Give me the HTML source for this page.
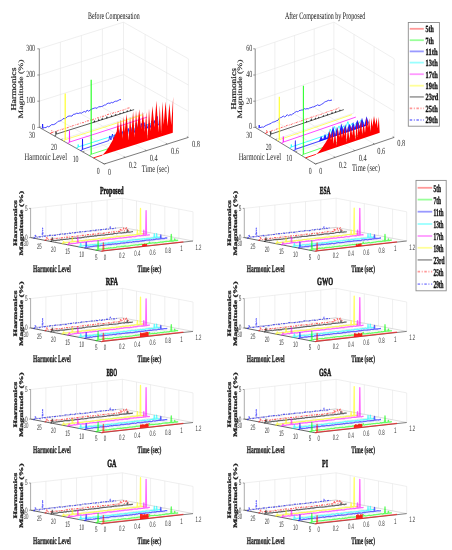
<!DOCTYPE html>
<html><head><meta charset="utf-8"><title>Harmonics</title>
<style>html,body{margin:0;padding:0;background:#fff;}svg{display:block;}text{font-family:"Liberation Serif", "Times New Roman", serif;text-rendering:geometricPrecision;}text.s{font-family:"Liberation Sans", Arial, sans-serif;}</style>
</head><body>
<svg width="452" height="550" viewBox="0 0 452 550">
<rect x="0" y="0" width="452" height="550" fill="#fff"/>
<polyline points="125.2,157.4 60.4,120.8" fill="none" stroke="#e4e4e4" stroke-width="0.6" stroke-linejoin="round" stroke-linecap="butt"/>
<polyline points="146.3,150.7 81.4,114.1" fill="none" stroke="#e4e4e4" stroke-width="0.6" stroke-linejoin="round" stroke-linecap="butt"/>
<polyline points="167.3,144.1 102.4,107.5" fill="none" stroke="#e4e4e4" stroke-width="0.6" stroke-linejoin="round" stroke-linecap="butt"/>
<polyline points="82.6,151.8 166.7,125.2" fill="none" stroke="#e4e4e4" stroke-width="0.6" stroke-linejoin="round" stroke-linecap="butt"/>
<polyline points="60.9,139.6 145.1,113" fill="none" stroke="#e4e4e4" stroke-width="0.6" stroke-linejoin="round" stroke-linecap="butt"/>
<polyline points="60.4,120.8 60.4,42.2" fill="none" stroke="#e4e4e4" stroke-width="0.6" stroke-linejoin="round" stroke-linecap="butt"/>
<polyline points="81.4,114.1 81.4,35.5" fill="none" stroke="#e4e4e4" stroke-width="0.6" stroke-linejoin="round" stroke-linecap="butt"/>
<polyline points="102.4,107.5 102.4,28.9" fill="none" stroke="#e4e4e4" stroke-width="0.6" stroke-linejoin="round" stroke-linecap="butt"/>
<polyline points="123.5,100.8 123.5,22.2" fill="none" stroke="#e4e4e4" stroke-width="0.6" stroke-linejoin="round" stroke-linecap="butt"/>
<polyline points="39.3,101.2 123.5,74.6" fill="none" stroke="#e4e4e4" stroke-width="0.6" stroke-linejoin="round" stroke-linecap="butt"/>
<polyline points="39.3,75 123.5,48.4" fill="none" stroke="#e4e4e4" stroke-width="0.6" stroke-linejoin="round" stroke-linecap="butt"/>
<polyline points="39.3,48.8 123.5,22.2" fill="none" stroke="#e4e4e4" stroke-width="0.6" stroke-linejoin="round" stroke-linecap="butt"/>
<polyline points="166.7,125.2 166.7,46.6" fill="none" stroke="#e4e4e4" stroke-width="0.6" stroke-linejoin="round" stroke-linecap="butt"/>
<polyline points="145.1,113 145.1,34.4" fill="none" stroke="#e4e4e4" stroke-width="0.6" stroke-linejoin="round" stroke-linecap="butt"/>
<polyline points="188.4,137.4 188.4,58.8" fill="none" stroke="#e4e4e4" stroke-width="0.6" stroke-linejoin="round" stroke-linecap="butt"/>
<polyline points="188.4,111.2 123.5,74.6" fill="none" stroke="#e4e4e4" stroke-width="0.6" stroke-linejoin="round" stroke-linecap="butt"/>
<polyline points="188.4,85 123.5,48.4" fill="none" stroke="#e4e4e4" stroke-width="0.6" stroke-linejoin="round" stroke-linecap="butt"/>
<polyline points="188.4,58.8 123.5,22.2" fill="none" stroke="#e4e4e4" stroke-width="0.6" stroke-linejoin="round" stroke-linecap="butt"/>
<polyline points="39.3,127.4 39.3,48.8" fill="none" stroke="#5a5a5a" stroke-width="0.7" stroke-linejoin="round" stroke-linecap="butt"/>
<polyline points="39.3,127.4 104.2,164" fill="none" stroke="#5a5a5a" stroke-width="0.8" stroke-linejoin="round" stroke-linecap="butt"/>
<polyline points="104.2,164 188.4,137.4" fill="none" stroke="#5a5a5a" stroke-width="0.8" stroke-linejoin="round" stroke-linecap="butt"/>
<polyline points="37.3,127.4 39.3,127.4" fill="none" stroke="#5a5a5a" stroke-width="0.6" stroke-linejoin="round" stroke-linecap="butt"/>
<polyline points="37.3,101.2 39.3,101.2" fill="none" stroke="#5a5a5a" stroke-width="0.6" stroke-linejoin="round" stroke-linecap="butt"/>
<polyline points="37.3,75 39.3,75" fill="none" stroke="#5a5a5a" stroke-width="0.6" stroke-linejoin="round" stroke-linecap="butt"/>
<polyline points="37.3,48.8 39.3,48.8" fill="none" stroke="#5a5a5a" stroke-width="0.6" stroke-linejoin="round" stroke-linecap="butt"/>
<polyline points="104.2,164 106,163.4" fill="none" stroke="#5a5a5a" stroke-width="0.6" stroke-linejoin="round" stroke-linecap="butt"/>
<polyline points="82.6,151.8 84.4,151.2" fill="none" stroke="#5a5a5a" stroke-width="0.6" stroke-linejoin="round" stroke-linecap="butt"/>
<polyline points="60.9,139.6 62.7,139" fill="none" stroke="#5a5a5a" stroke-width="0.6" stroke-linejoin="round" stroke-linecap="butt"/>
<polyline points="39.3,127.4 41.1,126.8" fill="none" stroke="#5a5a5a" stroke-width="0.6" stroke-linejoin="round" stroke-linecap="butt"/>
<polyline points="104.2,164 102.7,163.1" fill="none" stroke="#5a5a5a" stroke-width="0.6" stroke-linejoin="round" stroke-linecap="butt"/>
<polyline points="125.2,157.4 123.7,156.5" fill="none" stroke="#5a5a5a" stroke-width="0.6" stroke-linejoin="round" stroke-linecap="butt"/>
<polyline points="146.3,150.7 144.8,149.8" fill="none" stroke="#5a5a5a" stroke-width="0.6" stroke-linejoin="round" stroke-linecap="butt"/>
<polyline points="167.3,144.1 165.8,143.2" fill="none" stroke="#5a5a5a" stroke-width="0.6" stroke-linejoin="round" stroke-linecap="butt"/>
<polyline points="188.4,137.4 186.9,136.5" fill="none" stroke="#5a5a5a" stroke-width="0.6" stroke-linejoin="round" stroke-linecap="butt"/>
<polyline points="41.8,128.6 42.3,128.4 42.6,124 43,128.2 44.5,127.6 46,127.6 47.3,126.4 48.7,126.8 50,126 51.7,124.6 53.3,124.7 55,124 56.7,122.8 58.3,121.2 60,121 61.5,120.3 63,118.7 64.5,118.6 66,118 67.5,116.6 69,116 70.5,116 72,116.1 73.5,114.2 75,114.2 76.7,113.2 78.3,113.5 80,112.8 81.4,113.2 82.9,112.2 84.3,111.5 85.7,112.2 87.1,110.1 88.6,111.2 90,110.2 91.4,109.3 92.9,108.6 94.3,108.1 95.7,107.9 97.1,108.3 98.6,106.7 100,106.8 101.4,106.5 102.9,106.1 104.3,105.1 105.7,104.9 107.1,103.6 108.6,103.1 110,103.4 111.4,102.4 112.8,102.8 114.1,101.8 115.5,101.2 116.9,101.2 118.2,100.5 119.6,99.7 121,99.6" fill="none" stroke="#0000ff" stroke-width="0.9900000000000001" stroke-opacity="0.72" stroke-linejoin="round" stroke-linecap="butt"/>
<polyline points="50.1,133.5 51.4,133.1 51.7,130.5 52.2,132.5 53.3,132 54.3,131.7 55.4,131.7 56.4,131.1 57.5,130.8 58.5,130.3 59.6,130 60.6,129.9 61.7,129.2 62.7,129.3 63.8,128.8 64.9,128.3 65.9,128.3 67,127.7 68,127.7 69.1,126.9 70.1,126.5 71.2,126.4 72.2,126 73.3,125.5 74.3,125.5 75.4,124.9 76.4,124.6 77.5,124.3 78.5,124 79.6,123.5 80.6,123.1 81.7,123 82.7,122.6 83.8,122.6 84.8,121.9 85.9,121.6 86.9,121 88,120.8 89,120.8 90.1,120.4 91.2,119.9 92.2,119.9 93.3,119.3 94.3,119.2 95.4,118.9 96.4,118.6 97.5,117.8 98.5,117.9 99.6,117.5 100.6,117 101.7,116.4 102.7,116.3 103.8,116.2 104.9,115.6 106,115.2 107.1,114.7 108.1,114.4 109.2,114 110.3,114 111.4,113.6 112.5,113.3 113.5,112.7 114.6,112.3 115.7,112.4 116.8,112.1 117.9,111.7 118.9,111.3 120,110.8 121.1,110.4 122.2,110.3 123.3,110.1 124.4,109.5 125.4,109.2 126.5,108.8 127.6,108.2 128.7,108 129.8,107.8" fill="none" stroke="#ff0000" stroke-width="0.8800000000000001" stroke-dasharray="2.2,1.2,0.8,1.2" stroke-opacity="0.72" stroke-linejoin="round" stroke-linecap="butt"/>
<polyline points="54.5,135.9 55.7,135.5 56,131.4 56.3,134.1 134.1,109.6" fill="none" stroke="#000000" stroke-width="0.8800000000000001" stroke-opacity="0.72" stroke-linejoin="round" stroke-linecap="butt"/>
<polygon points="93.4,122.5 94.3,120.1 95.3,121.9" fill="#000000" fill-opacity="0.8"/>
<polygon points="97.8,121.1 98.7,118.5 99.7,120.5" fill="#000000" fill-opacity="0.8"/>
<polygon points="101.2,120 102.2,117.2 103.1,119.4" fill="#000000" fill-opacity="0.8"/>
<polygon points="105.9,118.5 106.9,115.7 107.8,117.9" fill="#000000" fill-opacity="0.8"/>
<polygon points="110.6,117 111.6,114.7 112.5,116.4" fill="#000000" fill-opacity="0.8"/>
<polygon points="114.7,115.7 115.6,113.8 116.6,115.1" fill="#000000" fill-opacity="0.8"/>
<polygon points="119.1,114.3 120,112.4 121,113.7" fill="#000000" fill-opacity="0.8"/>
<polygon points="122.6,113.2 123.5,111.2 124.5,112.6" fill="#000000" fill-opacity="0.8"/>
<polygon points="126.2,112.1 127.2,109.9 128.1,111.5" fill="#000000" fill-opacity="0.8"/>
<polygon points="129.7,111 130.6,109.1 131.6,110.4" fill="#000000" fill-opacity="0.8"/>
<polyline points="63.1,140.8 65,140.2 65.2,93.6 65.4,139.6 94.7,130.3 142.7,114.7" fill="none" stroke="#ffff00" stroke-width="0.8250000000000001" stroke-opacity="0.72" stroke-linejoin="round" stroke-linecap="butt"/>
<polyline points="67.4,143.3 69.3,142.7 69.5,130.6 69.7,142 99,132.7 147.1,117.1" fill="none" stroke="#ff00ff" stroke-width="0.9900000000000001" stroke-opacity="0.72" stroke-linejoin="round" stroke-linecap="butt"/>
<polyline points="76.1,148.1 78,147.5 78.2,144.5 78.4,146.9 107.6,137.6 155.7,122" fill="none" stroke="#00ffff" stroke-width="0.9900000000000001" stroke-opacity="0.72" stroke-linejoin="round" stroke-linecap="butt"/>
<polyline points="80.4,150.6 82.3,150 82.5,138.9 82.7,149.3 108.8,140.6 109.9,135.9 110.9,140 112.5,134 113.5,139.1 115.1,134.5 116.2,138.3 117.8,130.3 118.8,137.5 120.4,129.3 121.4,136.6 123,131.2 124.1,135.8 125.6,129.8 126.7,135 128.3,128.4 129.3,134.1 130.9,127.5 132,133.3 133.5,128.1 134.6,132.5 136.2,122.9 137.2,131.7 138.8,121.2 139.8,130.8 141.4,123.5 142.5,130 144.1,122.6 145.1,129.2 146.7,124.1 147.7,128.3 149.3,123.2 150.4,127.5 151.9,120.9 153,126.7 154.6,120.6 155.6,125.8 157.2,116.4 158.3,125 160,124.4" fill="none" stroke="#0000ff" stroke-width="0.9900000000000001" stroke-opacity="0.72" stroke-linejoin="round" stroke-linecap="butt"/>
<polyline points="89.1,155.5 91,154.9 91.2,79.8 91.4,154.2 120.6,144.7 168.7,129.1" fill="none" stroke="#00ff00" stroke-width="0.8250000000000001" stroke-opacity="0.72" stroke-linejoin="round" stroke-linecap="butt"/>
<polyline points="93.4,157.9 102.3,155.1" fill="none" stroke="#ff0000" stroke-width="0.9" stroke-linejoin="round" stroke-linecap="butt"/>
<polygon points="101.8,155.2 102.7,154.7 103.7,153.8 104.6,152.8 105.5,151.7 106.5,150.5 107.4,149.1 108.3,147.7 109.3,146.2 110.2,144.6 111.1,142.9 112.1,141.2 113,139.4 113.9,137.5 114.9,135.6 115.8,133.6 116.7,131.5 118,121 119.3,134.4 120.9,119.3 122.5,138.7 123.6,115.9 124.7,132.3 126.6,113.9 128.6,140.4 130,116.3 131.5,132.8 133.1,111.3 134.7,137.6 136,110.2 137.3,128.2 139.2,109.2 141.1,129.2 142.9,111.8 144.8,132 146.2,112 147.6,139.5 149,108.4 150.4,131.3 152.4,105.9 154.4,127.3 156.4,100.8 158.5,132.3 159.8,105.2 161.1,133.4 162.4,101.4 163.7,124.8 165.6,101.5 167.5,126.3 169.4,103.3 171.2,125.1 173.2,96.8 172.8,132.8 101.8,155.2" fill="#ff0000"/>
<text x="33.4" y="129.6" font-size="9.4" text-anchor="middle" fill="#333" textLength="2.9" lengthAdjust="spacingAndGlyphs">0</text>
<text x="30.6" y="103.4" font-size="9.4" text-anchor="middle" fill="#333" textLength="8.8" lengthAdjust="spacingAndGlyphs">100</text>
<text x="30.6" y="77.2" font-size="9.4" text-anchor="middle" fill="#333" textLength="8.8" lengthAdjust="spacingAndGlyphs">200</text>
<text x="30.6" y="51" font-size="9.4" text-anchor="middle" fill="#333" textLength="8.8" lengthAdjust="spacingAndGlyphs">300</text>
<text x="32" y="137.6" font-size="9.4" text-anchor="middle" fill="#333" textLength="5.9" lengthAdjust="spacingAndGlyphs">30</text>
<text x="53.9" y="149.5" font-size="9.4" text-anchor="middle" fill="#333" textLength="5.9" lengthAdjust="spacingAndGlyphs">20</text>
<text x="75.6" y="161.6" font-size="9.4" text-anchor="middle" fill="#333" textLength="5.9" lengthAdjust="spacingAndGlyphs">10</text>
<text x="98.2" y="173.7" font-size="9.4" text-anchor="middle" fill="#333" textLength="2.9" lengthAdjust="spacingAndGlyphs">0</text>
<text x="109.5" y="174.6" font-size="9.4" text-anchor="middle" fill="#333" textLength="2.9" lengthAdjust="spacingAndGlyphs">0</text>
<text x="132.7" y="168.1" font-size="9.4" text-anchor="middle" fill="#333" textLength="8" lengthAdjust="spacingAndGlyphs">0.2</text>
<text x="153.7" y="161.2" font-size="9.4" text-anchor="middle" fill="#333" textLength="8" lengthAdjust="spacingAndGlyphs">0.4</text>
<text x="175" y="154.2" font-size="9.4" text-anchor="middle" fill="#333" textLength="8" lengthAdjust="spacingAndGlyphs">0.6</text>
<text x="196" y="147.3" font-size="9.4" text-anchor="middle" fill="#333" textLength="8" lengthAdjust="spacingAndGlyphs">0.8</text>
<text x="113.8" y="19.2" font-size="9.9" text-anchor="middle" fill="#111" textLength="51.6" lengthAdjust="spacingAndGlyphs">Before Compensation</text>
<text x="45.8" y="160.3" font-size="10" text-anchor="middle" fill="#262626" textLength="42.5" lengthAdjust="spacingAndGlyphs">Harmonic Level</text>
<text x="155.5" y="171.6" font-size="10" text-anchor="middle" fill="#262626" textLength="27.4" lengthAdjust="spacingAndGlyphs">Time (sec)</text>
<text transform="translate(16.4,89) scale(0.75,1) rotate(-90)" x="0" y="0" font-size="10" text-anchor="middle" fill="#262626" stroke="#262626" stroke-width="0.3" textLength="42.9" lengthAdjust="spacingAndGlyphs">Harmonics</text>
<text transform="translate(22.5,89) scale(0.68,1) rotate(-90)" x="0" y="0" font-size="10" text-anchor="middle" fill="#262626" stroke="#262626" stroke-width="0.2" textLength="58.9" lengthAdjust="spacingAndGlyphs">Magnitude (%)</text>
<polyline points="335.2,157.4 274.9,120.8" fill="none" stroke="#e4e4e4" stroke-width="0.6" stroke-linejoin="round" stroke-linecap="butt"/>
<polyline points="354.9,150.7 294.6,114.1" fill="none" stroke="#e4e4e4" stroke-width="0.6" stroke-linejoin="round" stroke-linecap="butt"/>
<polyline points="374.5,144.1 314.2,107.5" fill="none" stroke="#e4e4e4" stroke-width="0.6" stroke-linejoin="round" stroke-linecap="butt"/>
<polyline points="295.4,151.8 374.1,125.2" fill="none" stroke="#e4e4e4" stroke-width="0.6" stroke-linejoin="round" stroke-linecap="butt"/>
<polyline points="275.3,139.6 354,113" fill="none" stroke="#e4e4e4" stroke-width="0.6" stroke-linejoin="round" stroke-linecap="butt"/>
<polyline points="274.9,120.8 274.9,42.2" fill="none" stroke="#e4e4e4" stroke-width="0.6" stroke-linejoin="round" stroke-linecap="butt"/>
<polyline points="294.6,114.1 294.6,35.5" fill="none" stroke="#e4e4e4" stroke-width="0.6" stroke-linejoin="round" stroke-linecap="butt"/>
<polyline points="314.2,107.5 314.2,28.9" fill="none" stroke="#e4e4e4" stroke-width="0.6" stroke-linejoin="round" stroke-linecap="butt"/>
<polyline points="333.9,100.8 333.9,22.2" fill="none" stroke="#e4e4e4" stroke-width="0.6" stroke-linejoin="round" stroke-linecap="butt"/>
<polyline points="255.2,101.2 333.9,74.6" fill="none" stroke="#e4e4e4" stroke-width="0.6" stroke-linejoin="round" stroke-linecap="butt"/>
<polyline points="255.2,75 333.9,48.4" fill="none" stroke="#e4e4e4" stroke-width="0.6" stroke-linejoin="round" stroke-linecap="butt"/>
<polyline points="255.2,48.8 333.9,22.2" fill="none" stroke="#e4e4e4" stroke-width="0.6" stroke-linejoin="round" stroke-linecap="butt"/>
<polyline points="374.1,125.2 374.1,46.6" fill="none" stroke="#e4e4e4" stroke-width="0.6" stroke-linejoin="round" stroke-linecap="butt"/>
<polyline points="354,113 354,34.4" fill="none" stroke="#e4e4e4" stroke-width="0.6" stroke-linejoin="round" stroke-linecap="butt"/>
<polyline points="394.2,137.4 394.2,58.8" fill="none" stroke="#e4e4e4" stroke-width="0.6" stroke-linejoin="round" stroke-linecap="butt"/>
<polyline points="394.2,111.2 333.9,74.6" fill="none" stroke="#e4e4e4" stroke-width="0.6" stroke-linejoin="round" stroke-linecap="butt"/>
<polyline points="394.2,85 333.9,48.4" fill="none" stroke="#e4e4e4" stroke-width="0.6" stroke-linejoin="round" stroke-linecap="butt"/>
<polyline points="394.2,58.8 333.9,22.2" fill="none" stroke="#e4e4e4" stroke-width="0.6" stroke-linejoin="round" stroke-linecap="butt"/>
<polyline points="255.2,127.4 255.2,48.8" fill="none" stroke="#5a5a5a" stroke-width="0.7" stroke-linejoin="round" stroke-linecap="butt"/>
<polyline points="255.2,127.4 315.5,164" fill="none" stroke="#5a5a5a" stroke-width="0.8" stroke-linejoin="round" stroke-linecap="butt"/>
<polyline points="315.5,164 394.2,137.4" fill="none" stroke="#5a5a5a" stroke-width="0.8" stroke-linejoin="round" stroke-linecap="butt"/>
<polyline points="253.2,127.4 255.2,127.4" fill="none" stroke="#5a5a5a" stroke-width="0.6" stroke-linejoin="round" stroke-linecap="butt"/>
<polyline points="253.2,101.2 255.2,101.2" fill="none" stroke="#5a5a5a" stroke-width="0.6" stroke-linejoin="round" stroke-linecap="butt"/>
<polyline points="253.2,75 255.2,75" fill="none" stroke="#5a5a5a" stroke-width="0.6" stroke-linejoin="round" stroke-linecap="butt"/>
<polyline points="253.2,48.8 255.2,48.8" fill="none" stroke="#5a5a5a" stroke-width="0.6" stroke-linejoin="round" stroke-linecap="butt"/>
<polyline points="315.5,164 317.3,163.4" fill="none" stroke="#5a5a5a" stroke-width="0.6" stroke-linejoin="round" stroke-linecap="butt"/>
<polyline points="295.4,151.8 297.2,151.2" fill="none" stroke="#5a5a5a" stroke-width="0.6" stroke-linejoin="round" stroke-linecap="butt"/>
<polyline points="275.3,139.6 277.1,139" fill="none" stroke="#5a5a5a" stroke-width="0.6" stroke-linejoin="round" stroke-linecap="butt"/>
<polyline points="255.2,127.4 257,126.8" fill="none" stroke="#5a5a5a" stroke-width="0.6" stroke-linejoin="round" stroke-linecap="butt"/>
<polyline points="315.5,164 314,163.1" fill="none" stroke="#5a5a5a" stroke-width="0.6" stroke-linejoin="round" stroke-linecap="butt"/>
<polyline points="335.2,157.4 333.7,156.5" fill="none" stroke="#5a5a5a" stroke-width="0.6" stroke-linejoin="round" stroke-linecap="butt"/>
<polyline points="354.9,150.7 353.4,149.8" fill="none" stroke="#5a5a5a" stroke-width="0.6" stroke-linejoin="round" stroke-linecap="butt"/>
<polyline points="374.5,144.1 373,143.2" fill="none" stroke="#5a5a5a" stroke-width="0.6" stroke-linejoin="round" stroke-linecap="butt"/>
<polyline points="394.2,137.4 392.7,136.5" fill="none" stroke="#5a5a5a" stroke-width="0.6" stroke-linejoin="round" stroke-linecap="butt"/>
<polyline points="258.5,128 258.9,127.8 259.2,125 259.6,127.8 261,127.3 262.3,127 263.6,127.2 265,126 266.7,125.2 268.3,124.5 270,123.8 271.3,123.3 272.6,122 273.9,122 275.2,121.6 276.5,120.7 277.9,120.4 279.2,118.2 280.5,117.7 281.9,117.2 283.2,116 284.6,116.9 285.9,116.2 287.3,114.6 288.6,115.9 290,114.6 291.3,115 292.6,114 293.9,113.4 295.2,112.1 296.5,111.4 297.8,111.9 299.1,110.6 300.4,110.4 301.7,110 303,110 304.3,108.7 305.7,109.1 307,108.6 308.3,108.9 309.7,107.9 311,107.7 312.3,107 313.7,106.9 315,106.2 316.3,105.6 317.7,104.8 319,105.6 320.3,105.1 321.6,104.3 323,103.5 324.3,102.3 325.6,101.6 326.9,101.2 328.3,100.3 329.6,100.6 332,100" fill="none" stroke="#0000ff" stroke-width="0.9900000000000001" stroke-opacity="0.72" stroke-linejoin="round" stroke-linecap="butt"/>
<polyline points="265.2,133.5 266.4,133.1 266.7,130 267.2,132.5 268.2,132 269.2,131.9 270.2,131.3 271.2,131.2 272.1,130.5 273.1,130.3 274.1,130.4 275.1,130 276.1,129.2 277.1,129.1 278,128.5 279,128.5 280,128.3 281,127.7 282,127.2 283,127.2 283.9,127 284.9,126.4 285.9,126.1 286.9,125.4 287.9,125.2 288.9,125.2 289.9,124.8 290.8,124.6 291.8,124.3 292.8,123.5 293.8,123.5 294.8,123 295.8,122.7 296.7,122.5 297.7,121.9 298.7,121.9 299.7,121.2 300.7,121.2 301.7,120.7 302.6,120.5 303.6,120.1 304.6,119.4 305.6,119.1 306.6,119.1 307.6,118.4 308.5,118.5 309.5,118 310.5,117.4 311.5,117.2 312.5,117.2 313.5,116.3 314.4,116.3 315.5,116.1 316.5,115.8 317.5,115.1 318.5,115 319.5,114.7 320.5,114.5 321.5,114.2 322.5,113.5 323.6,113.4 324.6,112.8 325.6,112.6 326.6,112.2 327.6,111.6 328.6,111.5 329.6,111.1 330.6,110.6 331.6,110.7 332.7,110.4 333.7,109.6 334.7,109.3 335.7,109.3 336.7,109 337.7,108.3 338.7,107.8 339.7,107.8" fill="none" stroke="#ff0000" stroke-width="0.8800000000000001" stroke-dasharray="2.2,1.2,0.8,1.2" stroke-opacity="0.72" stroke-linejoin="round" stroke-linecap="butt"/>
<polyline points="269.3,135.9 270.5,135.5 270.7,131.4 271,134.1 343.8,109.6" fill="none" stroke="#000000" stroke-width="0.8800000000000001" stroke-opacity="0.72" stroke-linejoin="round" stroke-linecap="butt"/>
<polygon points="305.7,122.5 306.6,120.4 307.4,121.9" fill="#000000" fill-opacity="0.8"/>
<polygon points="310.3,120.9 311.2,118.1 312.1,120.3" fill="#000000" fill-opacity="0.8"/>
<polygon points="314.4,119.5 315.3,117.2 316.2,118.9" fill="#000000" fill-opacity="0.8"/>
<polygon points="317.7,118.4 318.6,116.5 319.5,117.8" fill="#000000" fill-opacity="0.8"/>
<polygon points="322.4,116.8 323.3,114.7 324.2,116.2" fill="#000000" fill-opacity="0.8"/>
<polygon points="326.7,115.4 327.5,113.3 328.4,114.8" fill="#000000" fill-opacity="0.8"/>
<polygon points="331.1,113.9 332,111.4 332.9,113.3" fill="#000000" fill-opacity="0.8"/>
<polygon points="334.7,112.7 335.6,110.6 336.5,112.1" fill="#000000" fill-opacity="0.8"/>
<polygon points="339,111.2 339.9,109.3 340.8,110.6" fill="#000000" fill-opacity="0.8"/>
<polyline points="277.3,140.8 279.1,140.2 279.3,96.8 279.5,139.6 306.8,130.3 351.8,114.7" fill="none" stroke="#ffff00" stroke-width="0.8250000000000001" stroke-opacity="0.72" stroke-linejoin="round" stroke-linecap="butt"/>
<polyline points="281.3,143.3 283.1,142.7 283.3,136.6 283.5,142 310.8,132.7 355.8,117.1" fill="none" stroke="#ff00ff" stroke-width="0.9900000000000001" stroke-opacity="0.72" stroke-linejoin="round" stroke-linecap="butt"/>
<polyline points="289.4,148.1 291.1,147.5 291.3,144.5 291.5,146.9 328.7,134.3 330.2,129.1 331.7,133.3 334.6,126.5 336.1,131.8 339.1,125.9 340.5,130.3 343.5,125.8 345,128.8 347.9,121.7 349.4,127.3 352.3,123.1 353.8,125.8 356.8,122.3 358.2,124.3 361.2,119.8 362.7,122.8 363.9,122.2" fill="none" stroke="#00ffff" stroke-width="0.9900000000000001" stroke-opacity="0.72" stroke-linejoin="round" stroke-linecap="butt"/>
<polyline points="293.4,150.6 295.2,150 295.4,140.9 295.6,149.3 367.9,124.8" fill="none" stroke="#0000ff" stroke-width="1.1" stroke-opacity="0.72" stroke-linejoin="round" stroke-linecap="butt"/>
<polygon points="319,141.4 321,136.1 323,139.6 325,133.8 326.9,138.4 328.9,131.8 330.8,135 333,126.1 335.2,134.5 337,126.8 338.8,134.7 341.2,123.4 343.6,130.7 345.2,124.2 346.9,130.8 349.2,123.8 351.4,128 353.1,121.8 354.9,127.5 357.3,119.8 359.7,126 362,117.7 364.3,125.3 366.5,116.2 368.7,122.5 367.9,124.9" fill="#0000ff" fill-opacity="0.85"/>
<polyline points="301.4,155.5 303.2,154.9 303.4,85.8 303.6,154.2 330.9,144.7 375.9,129.1" fill="none" stroke="#00ff00" stroke-width="0.8250000000000001" stroke-opacity="0.72" stroke-linejoin="round" stroke-linecap="butt"/>
<polyline points="305.4,157.9 315.8,154.4" fill="none" stroke="#ff0000" stroke-width="0.9" stroke-linejoin="round" stroke-linecap="butt"/>
<polygon points="315.3,154.6 316.1,154.1 317,153.5 317.8,152.7 318.6,151.9 319.4,151 320.3,150 321.1,149 321.9,147.9 322.8,146.7 323.6,145.6 324.4,144.3 325.3,143 326.1,141.7 326.9,140.3 327.7,138.9 328.6,137.5 329.8,130.6 331,140.5 332.3,130.5 333.7,143.9 335,129.7 336.4,145.7 337.7,127 339.1,137.6 340.6,128.8 342,137.9 343.4,127.6 344.7,136.1 345.7,125.4 346.6,142.7 348,125.9 349.4,140 350.8,124.9 352.2,135.6 353.8,124.9 355.4,139.9 356.6,122.1 357.7,137.5 358.7,120.4 359.7,132.6 361,119.7 362.2,134.8 363.6,121.9 365,132.9 366.5,117.7 368,127.9 369.2,118.3 370.4,132.1 371.4,117.9 372.4,126.8 374,116.1 375.5,124.7 376.6,117.6 377.7,128.5 378.8,116.7 379.7,132.8 315.3,154.6" fill="#ff0000"/>
<text x="250.5" y="129.2" font-size="9.4" text-anchor="middle" fill="#333" textLength="2.9" lengthAdjust="spacingAndGlyphs">0</text>
<text x="249.2" y="103.7" font-size="9.4" text-anchor="middle" fill="#333" textLength="5.9" lengthAdjust="spacingAndGlyphs">20</text>
<text x="249.2" y="77.4" font-size="9.4" text-anchor="middle" fill="#333" textLength="5.9" lengthAdjust="spacingAndGlyphs">40</text>
<text x="249.2" y="51.4" font-size="9.4" text-anchor="middle" fill="#333" textLength="5.9" lengthAdjust="spacingAndGlyphs">60</text>
<text x="249.2" y="138.2" font-size="9.4" text-anchor="middle" fill="#333" textLength="5.9" lengthAdjust="spacingAndGlyphs">30</text>
<text x="268.6" y="149.5" font-size="9.4" text-anchor="middle" fill="#333" textLength="5.9" lengthAdjust="spacingAndGlyphs">20</text>
<text x="289.3" y="161.2" font-size="9.4" text-anchor="middle" fill="#333" textLength="5.9" lengthAdjust="spacingAndGlyphs">10</text>
<text x="310.2" y="173.5" font-size="9.4" text-anchor="middle" fill="#333" textLength="2.9" lengthAdjust="spacingAndGlyphs">0</text>
<text x="320.8" y="174.3" font-size="9.4" text-anchor="middle" fill="#333" textLength="2.9" lengthAdjust="spacingAndGlyphs">0</text>
<text x="342.7" y="168" font-size="9.4" text-anchor="middle" fill="#333" textLength="8" lengthAdjust="spacingAndGlyphs">0.2</text>
<text x="362.7" y="160.6" font-size="9.4" text-anchor="middle" fill="#333" textLength="8" lengthAdjust="spacingAndGlyphs">0.4</text>
<text x="381.2" y="154" font-size="9.4" text-anchor="middle" fill="#333" textLength="8" lengthAdjust="spacingAndGlyphs">0.6</text>
<text x="401.2" y="146.3" font-size="9.4" text-anchor="middle" fill="#333" textLength="8" lengthAdjust="spacingAndGlyphs">0.8</text>
<text x="325.1" y="19.3" font-size="9.9" text-anchor="middle" fill="#111" textLength="80.3" lengthAdjust="spacingAndGlyphs">After Compensation by Proposed</text>
<text x="259.9" y="160" font-size="10" text-anchor="middle" fill="#262626" textLength="42.5" lengthAdjust="spacingAndGlyphs">Harmonic Level</text>
<text x="366" y="171.4" font-size="10" text-anchor="middle" fill="#262626" textLength="27.8" lengthAdjust="spacingAndGlyphs">Time (sec)</text>
<text transform="translate(235.6,88.9) scale(0.75,1) rotate(-90)" x="0" y="0" font-size="10" text-anchor="middle" fill="#262626" stroke="#262626" stroke-width="0.3" textLength="41.4" lengthAdjust="spacingAndGlyphs">Harmonics</text>
<text transform="translate(242.2,89) scale(0.68,1) rotate(-90)" x="0" y="0" font-size="10" text-anchor="middle" fill="#262626" stroke="#262626" stroke-width="0.2" textLength="58.9" lengthAdjust="spacingAndGlyphs">Magnitude (%)</text>
<rect x="408.3" y="22.5" width="31.1" height="103.7" fill="#fff" stroke="#8c8c8c" stroke-width="0.9"/>
<polyline points="409.7,28.8 423.8,28.8" fill="none" stroke="#ff0000" stroke-width="1.8" stroke-opacity="0.4" stroke-linejoin="round" stroke-linecap="butt"/>
<text x="425.6" y="32.2" font-size="9.4" text-anchor="start" fill="#111" font-weight="bold" stroke="#111" stroke-width="0.35" textLength="8.2" lengthAdjust="spacingAndGlyphs">5th</text>
<polyline points="409.7,40.2 423.8,40.2" fill="none" stroke="#00ff00" stroke-width="1.8" stroke-opacity="0.4" stroke-linejoin="round" stroke-linecap="butt"/>
<text x="425.6" y="43.6" font-size="9.4" text-anchor="start" fill="#111" font-weight="bold" stroke="#111" stroke-width="0.35" textLength="8.2" lengthAdjust="spacingAndGlyphs">7th</text>
<polyline points="409.7,51.4 423.8,51.4" fill="none" stroke="#0000ff" stroke-width="1.8" stroke-opacity="0.4" stroke-linejoin="round" stroke-linecap="butt"/>
<text x="425.6" y="54.8" font-size="9.4" text-anchor="start" fill="#111" font-weight="bold" stroke="#111" stroke-width="0.35" textLength="12.1" lengthAdjust="spacingAndGlyphs">11th</text>
<polyline points="409.7,62.6 423.8,62.6" fill="none" stroke="#00ffff" stroke-width="1.8" stroke-opacity="0.4" stroke-linejoin="round" stroke-linecap="butt"/>
<text x="425.6" y="66" font-size="9.4" text-anchor="start" fill="#111" font-weight="bold" stroke="#111" stroke-width="0.35" textLength="12.1" lengthAdjust="spacingAndGlyphs">13th</text>
<polyline points="409.7,74.2 423.8,74.2" fill="none" stroke="#ff00ff" stroke-width="1.8" stroke-opacity="0.4" stroke-linejoin="round" stroke-linecap="butt"/>
<text x="425.6" y="77.6" font-size="9.4" text-anchor="start" fill="#111" font-weight="bold" stroke="#111" stroke-width="0.35" textLength="12.1" lengthAdjust="spacingAndGlyphs">17th</text>
<polyline points="409.7,85.7 423.8,85.7" fill="none" stroke="#ffff00" stroke-width="1.8" stroke-opacity="0.4" stroke-linejoin="round" stroke-linecap="butt"/>
<text x="425.6" y="89.1" font-size="9.4" text-anchor="start" fill="#111" font-weight="bold" stroke="#111" stroke-width="0.35" textLength="12.1" lengthAdjust="spacingAndGlyphs">19th</text>
<polyline points="409.7,96.9 423.8,96.9" fill="none" stroke="#000" stroke-width="1.8" stroke-opacity="0.35" stroke-linejoin="round" stroke-linecap="butt"/>
<text x="425.6" y="100.3" font-size="9.4" text-anchor="start" fill="#111" font-weight="bold" stroke="#111" stroke-width="0.35" textLength="12.6" lengthAdjust="spacingAndGlyphs">23rd</text>
<polyline points="409.7,108.4 423.8,108.4" fill="none" stroke="#ff0000" stroke-width="1.8" stroke-dasharray="2.5,1.6,1,1.6" stroke-opacity="0.4" stroke-linejoin="round" stroke-linecap="butt"/>
<text x="425.6" y="111.8" font-size="9.4" text-anchor="start" fill="#111" font-weight="bold" stroke="#111" stroke-width="0.35" textLength="12.1" lengthAdjust="spacingAndGlyphs">25th</text>
<polyline points="409.7,120 423.8,120" fill="none" stroke="#0000ff" stroke-width="1.8" stroke-dasharray="2.5,1.6,1,1.6" stroke-opacity="0.4" stroke-linejoin="round" stroke-linecap="butt"/>
<text x="425.6" y="123.4" font-size="9.4" text-anchor="start" fill="#111" font-weight="bold" stroke="#111" stroke-width="0.35" textLength="12.1" lengthAdjust="spacingAndGlyphs">29th</text>
<polyline points="45.9,235.9 45.9,206.7" fill="none" stroke="#e4e4e4" stroke-width="0.6" stroke-linejoin="round" stroke-linecap="butt"/>
<polyline points="61.2,234.2 61.2,205" fill="none" stroke="#e4e4e4" stroke-width="0.6" stroke-linejoin="round" stroke-linecap="butt"/>
<polyline points="76.5,232.5 76.5,203.3" fill="none" stroke="#e4e4e4" stroke-width="0.6" stroke-linejoin="round" stroke-linecap="butt"/>
<polyline points="91.8,230.8 91.8,201.6" fill="none" stroke="#e4e4e4" stroke-width="0.6" stroke-linejoin="round" stroke-linecap="butt"/>
<polyline points="107.1,229.1 107.1,199.9" fill="none" stroke="#e4e4e4" stroke-width="0.6" stroke-linejoin="round" stroke-linecap="butt"/>
<polyline points="122.4,227.4 122.4,198.2" fill="none" stroke="#e4e4e4" stroke-width="0.6" stroke-linejoin="round" stroke-linecap="butt"/>
<polyline points="30.6,208.4 122.4,198.2" fill="none" stroke="#e4e4e4" stroke-width="0.6" stroke-linejoin="round" stroke-linecap="butt"/>
<polyline points="193,241 193,211.8" fill="none" stroke="#e4e4e4" stroke-width="0.6" stroke-linejoin="round" stroke-linecap="butt"/>
<polyline points="178.9,238.3 178.9,209.1" fill="none" stroke="#e4e4e4" stroke-width="0.6" stroke-linejoin="round" stroke-linecap="butt"/>
<polyline points="164.8,235.6 164.8,206.4" fill="none" stroke="#e4e4e4" stroke-width="0.6" stroke-linejoin="round" stroke-linecap="butt"/>
<polyline points="150.6,232.8 150.6,203.6" fill="none" stroke="#e4e4e4" stroke-width="0.6" stroke-linejoin="round" stroke-linecap="butt"/>
<polyline points="136.5,230.1 136.5,200.9" fill="none" stroke="#e4e4e4" stroke-width="0.6" stroke-linejoin="round" stroke-linecap="butt"/>
<polyline points="193,211.8 122.4,198.2" fill="none" stroke="#e4e4e4" stroke-width="0.6" stroke-linejoin="round" stroke-linecap="butt"/>
<polyline points="116.5,249.5 45.9,235.9" fill="none" stroke="#e4e4e4" stroke-width="0.5" stroke-linejoin="round" stroke-linecap="butt"/>
<polyline points="131.8,247.8 61.2,234.2" fill="none" stroke="#e4e4e4" stroke-width="0.5" stroke-linejoin="round" stroke-linecap="butt"/>
<polyline points="147.1,246.1 76.5,232.5" fill="none" stroke="#e4e4e4" stroke-width="0.5" stroke-linejoin="round" stroke-linecap="butt"/>
<polyline points="162.4,244.4 91.8,230.8" fill="none" stroke="#e4e4e4" stroke-width="0.5" stroke-linejoin="round" stroke-linecap="butt"/>
<polyline points="177.7,242.7 107.1,229.1" fill="none" stroke="#e4e4e4" stroke-width="0.5" stroke-linejoin="round" stroke-linecap="butt"/>
<polyline points="87.1,248.5 178.9,238.3" fill="none" stroke="#e4e4e4" stroke-width="0.5" stroke-linejoin="round" stroke-linecap="butt"/>
<polyline points="73,245.8 164.8,235.6" fill="none" stroke="#e4e4e4" stroke-width="0.5" stroke-linejoin="round" stroke-linecap="butt"/>
<polyline points="58.8,243 150.6,232.8" fill="none" stroke="#e4e4e4" stroke-width="0.5" stroke-linejoin="round" stroke-linecap="butt"/>
<polyline points="44.7,240.3 136.5,230.1" fill="none" stroke="#e4e4e4" stroke-width="0.5" stroke-linejoin="round" stroke-linecap="butt"/>
<polyline points="30.6,237.6 122.4,227.4" fill="none" stroke="#b0b0b0" stroke-width="0.6" stroke-linejoin="round" stroke-linecap="butt"/>
<polyline points="122.4,227.4 193,241" fill="none" stroke="#c8c8c8" stroke-width="0.6" stroke-linejoin="round" stroke-linecap="butt"/>
<polyline points="30.6,237.6 30.6,208.4" fill="none" stroke="#8a8a8a" stroke-width="0.7" stroke-linejoin="round" stroke-linecap="butt"/>
<polyline points="30.6,237.6 101.2,251.2" fill="none" stroke="#555555" stroke-width="0.9" stroke-linejoin="round" stroke-linecap="butt"/>
<polyline points="101.2,251.2 193,241" fill="none" stroke="#666666" stroke-width="0.8" stroke-linejoin="round" stroke-linecap="butt"/>
<polyline points="29.1,237.6 30.6,237.6" fill="none" stroke="#5a5a5a" stroke-width="0.6" stroke-linejoin="round" stroke-linecap="butt"/>
<polyline points="29.1,208.4 30.6,208.4" fill="none" stroke="#5a5a5a" stroke-width="0.6" stroke-linejoin="round" stroke-linecap="butt"/>
<polyline points="33.4,238.1 34.6,238 35.3,234.4 36.1,237.5 37.1,237.7 38.1,237.3 39.2,236.9 40.2,236.9 41.2,236.7 42.2,236.8 42.6,228.1 43,236.5 43.9,236.4 44.8,236 45.8,236.1 46.7,236.4 47.6,236 48.5,236.2 49.5,235.3 50.4,235.2 51.3,235.6 52.2,235.5 53.2,235 54.1,235.4 55,235.3 55.9,235.2 56.9,234.9 57.8,234.6 58.7,234.2 59.6,234.7 60.6,234 61.5,234.2 62.4,233.8 63.3,233.8 64.3,234.2 65.2,233.7 66.1,234 67,234 68,233.5 68.9,233.1 69.8,233.2 70.7,233.4 71.7,233 72.6,232.6 73.5,232.5 74.5,232.9 75.4,232.6 76.3,232.4 77.3,232.1 78.2,232.6 79.1,232.1 80.1,231.7 81,231.9 81.9,231.7 82.9,231.5 83.8,231.6 84.7,231.7 85.7,231.4 86.6,231.3 87.5,231.4 88.5,230.8 89.4,231.1 90.3,230.9 91.3,230.6 92.2,230.5 93.1,230.3 94.1,230.4 95,230.6 95.9,230 96.9,229.9 97.8,229.9 98.7,229.8 99.7,229.9 100.6,229.8 101.5,229.6 102.5,229.9 103.4,229.3 104.3,229.1 105.3,229.5 106.2,229 107.1,228.9 108.1,229.3 109,229.2 109.9,228.7 110.3,226.6 110.7,228.7 111.7,228.5 112.7,228.7 113.7,228.5 114.8,228.1 115.8,228 116.8,228" fill="none" stroke="#0000ff" stroke-width="1.16" stroke-dasharray="2.2,1.2,0.8,1.2" stroke-opacity="0.6" stroke-linejoin="round" stroke-linecap="butt"/>
<polyline points="44.7,240.3 45.9,240.2 46.6,236.6 47.4,239.5 48.3,239.3 49.3,239.3 50.2,239.3 51.1,239.4 52.1,239.2 53,239.1 54,238.7 54.9,238.5 55.8,238.7 56.8,238.5 57.7,238.1 58.6,238.3 59.6,238 60.5,237.9 61.4,237.8 62.4,237.8 63.3,237.6 64.2,237.4 65.2,237.6 66.1,237.2 67.1,237 68,237.4 68.9,237.2 69.9,237.1 70.8,237 71.7,236.9 72.7,236.5 73.6,236.7 74.5,236.6 75.5,236 76.4,236.2 77.4,236 78.3,235.9 79.2,235.9 80.2,235.7 81.1,235.8 82,235.4 83,235.4 83.9,235.4 84.8,235.4 85.7,235.2 86.6,235 87.6,234.6 88.5,234.7 89.4,234.4 90.3,234.6 91.2,234.6 92.2,234.2 93.1,234.4 94,233.8 94.9,234.1 95.8,234.1 96.7,234 97.7,233.9 98.6,233.4 99.5,233.2 100.4,233.4 101.3,233.5 102.2,233.5 103.2,233.4 104.1,233.1 105,232.8 105.9,232.7 106.8,232.5 107.8,232.4 108.7,232.6 109.6,232.3 110.5,232.3 111.4,232.1 112.3,232.3 113.3,231.7 114.2,232.2 115.1,231.7 116,231.8 116.9,231.4 117.9,231.7 118.8,231.2 119.7,231.3 120.5,228.4 121.2,231.1 122.4,229.9 123.5,228.1 124.3,230.8 125.4,229.1 126.6,227.7 127.3,230.4 128.9,230.3" fill="none" stroke="#ff0000" stroke-width="1.16" stroke-dasharray="2.2,1.2,0.8,1.2" stroke-opacity="0.6" stroke-linejoin="round" stroke-linecap="butt"/>
<polyline points="50.4,241.4 51.5,241.3 52.3,237.7 53,240.7 54,240.5 54.9,240.5 55.8,240.6 56.7,240.3 57.7,240.2 58.6,240.2 59.5,240.1 60.4,239.7 61.4,239.7 62.3,239.8 63.2,239.5 64.1,239.4 65,239.5 66,239.2 66.9,239.1 67.8,239.2 68.7,239 69.7,238.6 70.6,238.7 71.5,238.7 72.4,238.6 73.3,238.4 74.3,238.2 75.2,238 76.1,238.3 77,238.2 78,237.9 78.9,238 79.8,237.8 80.7,237.8 81.7,237.7 82.6,237.3 83.5,237.4 84.4,237.1 85.3,236.8 86.3,237.1 87.2,236.7 88.1,236.7 89,236.8 90,236.3 90.9,236.3 91.8,236.4 92.7,236 93.6,236.3 94.6,235.8 95.5,235.7 96.4,236 97.3,235.5 98.3,235.4 99.2,235.3 100.1,235.5 101,235.1 102,235 102.9,235.1 103.8,235.2 104.7,235.1 105.6,234.7 106.6,234.6 107.5,234.7 108.4,234.3 109.3,234.5 110.3,234.2 111.2,234.1 112.1,234.1 113,234.1 113.9,233.6 114.9,233.5 115.8,233.5 116.7,233.7 117.6,233.3 118.6,233 119.5,233 120.4,232.9 121.3,233.2 122.3,232.8 123.2,232.9 124.1,232.4 125,232.8 125.9,232.6 126.9,232.3 127.3,229.9 127.6,232.2 128.7,231.9 129.8,232.2 130.8,232 131.9,231.8 133,231.6" fill="none" stroke="#000000" stroke-width="1.16" stroke-opacity="0.6" stroke-linejoin="round" stroke-linecap="butt"/>
<polyline points="61.7,243.6 62.8,243.5 63.6,241.4 64.3,242.8 65.3,242.5 66.3,242.5 67.2,242.3 68.2,242.5 69.1,242.5 70.1,242.2 71,241.9 72,241.9 72.4,237.9 72.8,241.8 73.7,241.6 74.6,241.3 75.5,241.3 76.4,241.5 77.3,241.3 78.3,241.3 79.2,241.1 80.1,240.8 81,240.8 81.9,240.6 82.9,240.9 83.8,240.3 84.7,240.6 85.6,240.2 86.5,240 87.4,240.3 88.4,240 89.3,239.7 90.2,240 91.1,239.7 92,239.6 93,239.5 93.9,239.5 94.8,239.4 95.7,239.3 96.6,239.2 97.5,239.1 98.5,238.7 99.4,238.5 100.3,238.8 101.2,238.8 102.1,238.6 103.1,238.2 104,238.4 104.9,238.1 105.8,238.2 106.7,238 107.6,238 108.6,237.7 109.5,237.7 110.4,237.4 111.3,237.4 112.2,237.4 113.1,237.4 114.1,236.9 115,237.2 115.9,236.9 116.8,236.5 117.7,236.5 118.7,236.7 119.6,236.3 120.5,236.5 121.4,236.2 122.3,236.1 123.2,236 124.2,236.1 125.1,235.9 126,235.8 126.9,235.4 127.8,235.4 128.8,235.5 129.7,235.2 130.6,235.2 131.5,235.3 132.4,235 133.3,235.1 134.3,235 135.2,234.9 136.1,234.8 137,234.5 137.4,230.2 137.8,234.4 138.9,234.2 140.1,234.2 140.5,208.4 140.8,234.1 142,233.8 143.1,233.7 144.3,233.7" fill="none" stroke="#ffff00" stroke-width="1.305" stroke-opacity="0.6" stroke-linejoin="round" stroke-linecap="butt"/>
<polyline points="67.3,244.7 68.5,244.5 69.2,242.5 70,243.9 70.9,243.9 71.8,243.4 72.8,243.6 73.7,243.4 74.6,243.3 75.6,243.3 76.5,243.1 77.4,243 77.8,237.5 78.2,242.9 79.1,242.6 80,242.6 80.9,242.5 81.9,242.3 82.8,242.2 83.7,242.3 84.6,241.9 85.5,242.1 86.4,242.2 87.4,241.6 88.3,241.5 89.2,241.6 90.1,241.4 91,241.3 92,241.5 92.9,241.1 93.8,241 94.7,240.8 95.6,240.9 96.6,240.9 97.5,240.6 98.4,240.6 99.3,240.3 100.2,240.6 101.2,240.2 102.1,240 103,240.2 103.9,240.2 104.8,239.9 105.7,239.7 106.7,239.6 107.6,239.5 108.5,239.5 109.4,239.2 110.3,239 111.3,239.1 112.2,239.1 113.1,238.7 114,239 114.9,238.7 115.9,238.5 116.8,238.4 117.7,238.3 118.6,238.2 119.5,238.2 120.5,237.9 121.4,238.2 122.3,237.9 123.2,237.8 124.1,237.6 125,237.7 126,237.6 126.9,237.4 127.8,237.2 128.7,237.2 129.6,236.9 130.6,237 131.5,237 132.4,236.7 133.3,236.7 134.2,236.8 135.2,236.5 136.1,236.5 137,236.2 137.9,235.9 138.8,235.9 139.8,235.7 140.7,236 141.6,235.6 142.5,235.5 143.4,235.5 143.8,230.2 144.2,235.4 145.7,235.3 146.1,210.6 146.5,235.2 147.6,235.2 148.8,234.9 149.9,234.8" fill="none" stroke="#ff00ff" stroke-width="1.305" stroke-opacity="0.6" stroke-linejoin="round" stroke-linecap="butt"/>
<polyline points="78.6,246.8 80.1,246.7 80.7,243.4 81.3,246.1 82.2,246.1 83.1,245.9 84,245.7 85,245.7 85.9,245.6 86.8,245.3 87.7,245.2 88.6,245.4 89.6,245.1 90.5,244.9 91.4,245.1 92.3,244.7 93.2,244.9 94.2,244.6 95.1,244.5 96,244.6 96.9,244.5 97.8,244.1 98.8,244.2 99.7,243.9 100.6,244 101.5,243.7 102.4,243.4 103.4,243.4 104.3,243.5 105.2,243.1 106.1,243.3 107,243.2 108,243.1 108.9,242.7 109.8,242.9 110.7,242.8 111.6,242.6 112.6,242.4 113.5,242.3 114.4,242.2 115.3,242.1 116.2,242.1 117.2,242 118.1,241.6 119,241.8 119.9,241.5 120.8,241.6 121.8,241.7 122.7,241.4 123.6,241.2 124.5,241.2 125.4,241.2 126.4,241.1 127.3,241 128.2,240.6 129.1,240.6 130,240.3 131,240.2 131.9,240.2 132.8,240 133.7,239.9 134.6,239.8 135.6,239.7 136.5,239.6 137.4,239.7 138.3,239.3 139.2,239.3 140.2,239.2 141.1,239.1 142,239 142.9,239 143.8,238.9 144.8,238.6 145.7,238.8 146.6,238.5 147.5,238.3 148.4,238.5 149.4,238.5 150.3,238.3 151.2,238.1 152.1,238 153,238 154,237.8 154.3,233.9 154.7,237.7 156.3,237.5 156.6,233.7 157,237.4 158,237.5 158.9,237.4 159.9,237.1 160.8,237" fill="none" stroke="#00ffff" stroke-width="1.305" stroke-opacity="0.6" stroke-linejoin="round" stroke-linecap="butt"/>
<polyline points="84.3,247.9 85.8,247.8 86.2,242.2 86.6,247.2 87.5,247.3 88.4,247 89.3,247 90.2,246.7 91.2,246.6 92.1,246.7 93,246.2 93.9,246.4 94.9,246 95.8,246.2 96.7,246 97.6,245.9 98.5,245.8 99.5,245.8 100.4,245.5 101.3,245.4 102.2,245.4 103.2,245.3 104.1,245.3 105,245.1 105.9,244.9 106.9,244.8 107.8,244.5 108.7,244.5 109.6,244.3 110.5,244.5 111.5,244.5 112.4,244 113.3,244.2 114.2,244 115.2,243.7 116.1,244 117,243.9 117.9,243.6 118.8,243.7 119.8,243.6 120.7,243.2 121.6,243.2 122.5,243.1 123.5,242.9 124.4,243 125.3,242.8 126.2,242.7 127.2,242.5 128.1,242.5 129,242.3 129.9,242.2 130.8,242.1 131.8,242.3 132.7,241.8 133.6,241.6 134.5,241.9 135.5,241.5 136.4,241.5 137.3,241.3 138.2,241.5 139.1,241.4 140.1,241.1 141,241 141.9,241.1 142.8,240.6 143.8,240.9 144.7,240.4 145.6,240.3 146.5,240.2 147.5,240.1 148.4,240.2 149.3,240 150.2,240.2 151.1,239.7 152.1,239.9 153,239.8 153.9,239.4 154.8,239.6 155.8,239.2 156.7,239 157.6,239.1 158.5,239 159.5,238.8 160.4,238.8 160.8,234.9 161.1,238.7 162.2,238.5 163.2,238.5 164.2,238.6 165.2,238 166.2,238 167.3,238" fill="none" stroke="#0000ff" stroke-width="1.305" stroke-opacity="0.6" stroke-linejoin="round" stroke-linecap="butt"/>
<polyline points="95.6,250.1 96.6,250 97.7,249.9 98.1,240.8 98.5,249.3 99.4,249.1 100.3,249.2 101.2,249.1 102.1,249.1 103.1,248.8 104,248.6 104.9,248.7 105.8,248.6 106.7,248.4 107.7,248.5 108.6,248 109.5,248.2 110.4,247.7 111.3,247.8 112.3,247.8 113.2,247.8 114.1,247.4 115,247.6 116,247.4 116.9,246.9 117.8,246.9 118.7,246.9 119.6,246.8 120.6,246.7 121.5,246.5 122.4,246.3 123.3,246.6 124.2,246.1 125.2,246 126.1,246.1 127,246.1 127.9,246.1 128.8,245.9 129.8,245.9 130.7,245.5 131.6,245.4 132.5,245.3 133.4,245.1 134.4,245.2 135.3,244.9 136.2,244.8 137.1,244.8 138.1,245 139,244.4 139.9,244.5 140.8,244.4 141.7,244.1 142.7,244.4 143.6,244.3 144.5,243.9 145.4,243.8 146.3,243.8 147.3,243.6 148.2,243.4 149.1,243.5 149.5,242.1 149.9,243.4 150.8,243.1 151.8,243.1 152.7,242.9 153.7,242.9 154.6,243 155.6,242.6 156.6,242.9 157.5,242.7 158.5,242.4 159.4,242.4 160.4,242 161.3,242.2 162.3,242 163.3,242 164.2,241.6 165.2,241.7 166.1,241.5 167.1,241.3 168,241.4 169,241.4 169.9,240.9 170.9,241 171.3,234.3 171.7,241 173,241 174.3,240.7 174.7,238.8 175.1,240.6 176.1,240.3 177.2,240.5 178.2,240.2" fill="none" stroke="#00ff00" stroke-width="1.305" stroke-opacity="0.6" stroke-linejoin="round" stroke-linecap="butt"/>
<polyline points="101.2,251.2 103,251 103.4,243 103.8,250.6 183.4,241.8" fill="none" stroke="#ff0000" stroke-width="1.305" stroke-opacity="0.6" stroke-linejoin="round" stroke-linecap="butt"/>
<polygon points="142.1,246.4 142.1,244.3 142.7,244.2 143.2,244.2 143.8,243.9 144.3,243.8 144.9,243.7 145.4,244.2 146,243.9 146.5,244 147.1,243.2 147.1,245.8" fill="#ff0000" fill-opacity="0.85"/>
<text x="26.4" y="210.8" font-size="7.9" text-anchor="middle" fill="#3a3a3a" class="s" textLength="2.6" lengthAdjust="spacingAndGlyphs">5</text>
<text x="26.4" y="240" font-size="7.9" text-anchor="middle" fill="#3a3a3a" class="s" textLength="2.6" lengthAdjust="spacingAndGlyphs">0</text>
<text x="26" y="246.1" font-size="7.9" text-anchor="middle" fill="#3a3a3a" class="s" textLength="4.8" lengthAdjust="spacingAndGlyphs">30</text>
<text x="39.3" y="248.8" font-size="7.9" text-anchor="middle" fill="#3a3a3a" class="s" textLength="4.8" lengthAdjust="spacingAndGlyphs">25</text>
<text x="53.4" y="251.5" font-size="7.9" text-anchor="middle" fill="#3a3a3a" class="s" textLength="4.8" lengthAdjust="spacingAndGlyphs">20</text>
<text x="67.6" y="254.3" font-size="7.9" text-anchor="middle" fill="#3a3a3a" class="s" textLength="4.8" lengthAdjust="spacingAndGlyphs">15</text>
<text x="81.7" y="257" font-size="7.9" text-anchor="middle" fill="#3a3a3a" class="s" textLength="4.8" lengthAdjust="spacingAndGlyphs">10</text>
<text x="96.3" y="259.7" font-size="7.9" text-anchor="middle" fill="#3a3a3a" class="s" textLength="2.5" lengthAdjust="spacingAndGlyphs">5</text>
<text x="105.1" y="259.8" font-size="7.9" text-anchor="middle" fill="#3a3a3a" class="s" textLength="2.5" lengthAdjust="spacingAndGlyphs">0</text>
<text x="122" y="258.1" font-size="7.9" text-anchor="middle" fill="#3a3a3a" class="s" textLength="6" lengthAdjust="spacingAndGlyphs">0.2</text>
<text x="137.3" y="256.4" font-size="7.9" text-anchor="middle" fill="#3a3a3a" class="s" textLength="6" lengthAdjust="spacingAndGlyphs">0.4</text>
<text x="152.6" y="254.7" font-size="7.9" text-anchor="middle" fill="#3a3a3a" class="s" textLength="6" lengthAdjust="spacingAndGlyphs">0.6</text>
<text x="167.9" y="253" font-size="7.9" text-anchor="middle" fill="#3a3a3a" class="s" textLength="6" lengthAdjust="spacingAndGlyphs">0.8</text>
<text x="181.6" y="251.3" font-size="7.9" text-anchor="middle" fill="#3a3a3a" class="s" textLength="2.5" lengthAdjust="spacingAndGlyphs">1</text>
<text x="198.5" y="249.6" font-size="7.9" text-anchor="middle" fill="#3a3a3a" class="s" textLength="6" lengthAdjust="spacingAndGlyphs">1.2</text>
<text x="111.8" y="194.4" font-size="10.9" text-anchor="middle" fill="#111" font-weight="bold" stroke="#111" stroke-width="0.5" textLength="23.7" lengthAdjust="spacingAndGlyphs">Proposed</text>
<text x="51.9" y="271.6" font-size="10" text-anchor="middle" fill="#262626" font-weight="bold" stroke="#262626" stroke-width="0.3" textLength="37.8" lengthAdjust="spacingAndGlyphs">Harmonic Level</text>
<text x="149.4" y="271.8" font-size="10" text-anchor="middle" fill="#262626" font-weight="bold" stroke="#262626" stroke-width="0.3" textLength="23.9" lengthAdjust="spacingAndGlyphs">Time (sec)</text>
<text transform="translate(16.6,223.1) scale(0.55,1) rotate(-90)" x="0" y="0" font-size="9.8" text-anchor="middle" fill="#262626" font-weight="bold" stroke="#262626" stroke-width="0.5" textLength="45.8" lengthAdjust="spacingAndGlyphs">Harmonics</text>
<text transform="translate(22.7,223.1) scale(0.55,1) rotate(-90)" x="0" y="0" font-size="9.8" text-anchor="middle" fill="#262626" font-weight="bold" stroke="#262626" stroke-width="0.5" textLength="64.8" lengthAdjust="spacingAndGlyphs">Magnitude (%)</text>
<polyline points="259.6,235.9 259.6,206.7" fill="none" stroke="#e4e4e4" stroke-width="0.6" stroke-linejoin="round" stroke-linecap="butt"/>
<polyline points="274.9,234.2 274.9,205" fill="none" stroke="#e4e4e4" stroke-width="0.6" stroke-linejoin="round" stroke-linecap="butt"/>
<polyline points="290.2,232.5 290.2,203.3" fill="none" stroke="#e4e4e4" stroke-width="0.6" stroke-linejoin="round" stroke-linecap="butt"/>
<polyline points="305.5,230.8 305.5,201.6" fill="none" stroke="#e4e4e4" stroke-width="0.6" stroke-linejoin="round" stroke-linecap="butt"/>
<polyline points="320.8,229.1 320.8,199.9" fill="none" stroke="#e4e4e4" stroke-width="0.6" stroke-linejoin="round" stroke-linecap="butt"/>
<polyline points="336.1,227.4 336.1,198.2" fill="none" stroke="#e4e4e4" stroke-width="0.6" stroke-linejoin="round" stroke-linecap="butt"/>
<polyline points="244.3,208.4 336.1,198.2" fill="none" stroke="#e4e4e4" stroke-width="0.6" stroke-linejoin="round" stroke-linecap="butt"/>
<polyline points="406.7,241 406.7,211.8" fill="none" stroke="#e4e4e4" stroke-width="0.6" stroke-linejoin="round" stroke-linecap="butt"/>
<polyline points="392.6,238.3 392.6,209.1" fill="none" stroke="#e4e4e4" stroke-width="0.6" stroke-linejoin="round" stroke-linecap="butt"/>
<polyline points="378.5,235.6 378.5,206.4" fill="none" stroke="#e4e4e4" stroke-width="0.6" stroke-linejoin="round" stroke-linecap="butt"/>
<polyline points="364.3,232.8 364.3,203.6" fill="none" stroke="#e4e4e4" stroke-width="0.6" stroke-linejoin="round" stroke-linecap="butt"/>
<polyline points="350.2,230.1 350.2,200.9" fill="none" stroke="#e4e4e4" stroke-width="0.6" stroke-linejoin="round" stroke-linecap="butt"/>
<polyline points="406.7,211.8 336.1,198.2" fill="none" stroke="#e4e4e4" stroke-width="0.6" stroke-linejoin="round" stroke-linecap="butt"/>
<polyline points="330.2,249.5 259.6,235.9" fill="none" stroke="#e4e4e4" stroke-width="0.5" stroke-linejoin="round" stroke-linecap="butt"/>
<polyline points="345.5,247.8 274.9,234.2" fill="none" stroke="#e4e4e4" stroke-width="0.5" stroke-linejoin="round" stroke-linecap="butt"/>
<polyline points="360.8,246.1 290.2,232.5" fill="none" stroke="#e4e4e4" stroke-width="0.5" stroke-linejoin="round" stroke-linecap="butt"/>
<polyline points="376.1,244.4 305.5,230.8" fill="none" stroke="#e4e4e4" stroke-width="0.5" stroke-linejoin="round" stroke-linecap="butt"/>
<polyline points="391.4,242.7 320.8,229.1" fill="none" stroke="#e4e4e4" stroke-width="0.5" stroke-linejoin="round" stroke-linecap="butt"/>
<polyline points="300.8,248.5 392.6,238.3" fill="none" stroke="#e4e4e4" stroke-width="0.5" stroke-linejoin="round" stroke-linecap="butt"/>
<polyline points="286.7,245.8 378.5,235.6" fill="none" stroke="#e4e4e4" stroke-width="0.5" stroke-linejoin="round" stroke-linecap="butt"/>
<polyline points="272.5,243 364.3,232.8" fill="none" stroke="#e4e4e4" stroke-width="0.5" stroke-linejoin="round" stroke-linecap="butt"/>
<polyline points="258.4,240.3 350.2,230.1" fill="none" stroke="#e4e4e4" stroke-width="0.5" stroke-linejoin="round" stroke-linecap="butt"/>
<polyline points="244.3,237.6 336.1,227.4" fill="none" stroke="#b0b0b0" stroke-width="0.6" stroke-linejoin="round" stroke-linecap="butt"/>
<polyline points="336.1,227.4 406.7,241" fill="none" stroke="#c8c8c8" stroke-width="0.6" stroke-linejoin="round" stroke-linecap="butt"/>
<polyline points="244.3,237.6 244.3,208.4" fill="none" stroke="#8a8a8a" stroke-width="0.7" stroke-linejoin="round" stroke-linecap="butt"/>
<polyline points="244.3,237.6 314.9,251.2" fill="none" stroke="#555555" stroke-width="0.9" stroke-linejoin="round" stroke-linecap="butt"/>
<polyline points="314.9,251.2 406.7,241" fill="none" stroke="#666666" stroke-width="0.8" stroke-linejoin="round" stroke-linecap="butt"/>
<polyline points="242.8,237.6 244.3,237.6" fill="none" stroke="#5a5a5a" stroke-width="0.6" stroke-linejoin="round" stroke-linecap="butt"/>
<polyline points="242.8,208.4 244.3,208.4" fill="none" stroke="#5a5a5a" stroke-width="0.6" stroke-linejoin="round" stroke-linecap="butt"/>
<polyline points="247.1,238.1 248.3,238 249,234.4 249.8,237.5 250.8,237.4 251.8,237.5 252.9,236.8 253.9,236.7 254.9,236.9 255.9,236.8 256.3,228.1 256.7,236.5 257.6,236.2 258.5,236.5 259.5,236.4 260.4,236.2 261.3,235.8 262.2,236 263.2,235.3 264.1,235.9 265,235.7 265.9,235.7 266.9,235 267.8,235.2 268.7,235 269.6,235 270.6,234.7 271.5,234.8 272.4,234.8 273.3,234.5 274.3,234.5 275.2,234.5 276.1,233.9 277,233.9 278,233.8 278.9,233.5 279.8,233.8 280.7,233.7 281.7,233.5 282.6,233.4 283.5,233.1 284.4,233.5 285.4,233 286.3,232.9 287.2,232.8 288.2,232.8 289.1,233 290,232.3 291,232.8 291.9,232.2 292.8,232.4 293.8,232.4 294.7,232.2 295.6,232.2 296.6,232 297.5,231.5 298.4,231.4 299.4,231.5 300.3,231.2 301.2,231.3 302.2,231.1 303.1,230.7 304,231.1 305,230.5 305.9,230.6 306.8,230.5 307.8,230.9 308.7,230.7 309.6,230.7 310.6,230.3 311.5,229.7 312.4,229.7 313.4,229.6 314.3,230.1 315.2,229.5 316.2,229.4 317.1,229.2 318,229.1 319,229.6 319.9,229.4 320.8,228.8 321.8,228.8 322.7,228.5 323.6,228.7 324,226.6 324.4,228.7 325.4,228.6 326.4,228.1 327.4,228.6 328.5,227.8 329.5,227.8 330.5,228" fill="none" stroke="#0000ff" stroke-width="1.16" stroke-dasharray="2.2,1.2,0.8,1.2" stroke-opacity="0.6" stroke-linejoin="round" stroke-linecap="butt"/>
<polyline points="258.4,240.3 259.6,240.2 260.3,236.6 261.1,239.5 262,239.5 263,239.6 263.9,239.2 264.8,239 265.8,239.1 266.7,239.1 267.7,238.9 268.6,238.5 269.5,238.8 270.5,238.2 271.4,238.5 272.3,238.4 273.3,238.3 274.2,237.7 275.1,237.6 276.1,237.9 277,237.9 277.9,237.5 278.9,237.2 279.8,237.6 280.8,237.1 281.7,236.9 282.6,237 283.6,236.9 284.5,236.6 285.4,236.8 286.4,236.7 287.3,236.4 288.2,236.3 289.2,236.2 290.1,236.2 291.1,235.8 292,236 292.9,235.7 293.9,235.5 294.8,235.6 295.7,235.7 296.7,235.4 297.6,235.4 298.5,235.4 299.4,235.3 300.3,235.2 301.3,235 302.2,234.8 303.1,234.7 304,234.5 304.9,234.3 305.8,234.2 306.8,234.3 307.7,234 308.6,234 309.5,234.2 310.4,233.8 311.4,233.8 312.3,233.5 313.2,233.4 314.1,233.6 315,233.4 315.9,233.3 316.9,233.2 317.8,233.3 318.7,233.2 319.6,232.5 320.5,232.6 321.5,232.7 322.4,232.4 323.3,232.6 324.2,232.2 325.1,231.9 326,231.9 327,232 327.9,231.6 328.8,231.5 329.7,232 330.6,231.6 331.6,231.5 332.5,231.5 333.4,231.3 334.2,228.4 334.9,231.1 336.1,229.5 337.2,228.1 338,230.8 339.1,229.5 340.3,227.7 341,230.4 342.6,230.3" fill="none" stroke="#ff0000" stroke-width="1.16" stroke-dasharray="2.2,1.2,0.8,1.2" stroke-opacity="0.6" stroke-linejoin="round" stroke-linecap="butt"/>
<polyline points="264.1,241.4 265.2,241.3 266,237.7 266.7,240.7 267.7,240.5 268.6,240.3 269.5,240.6 270.4,240.2 271.4,240.3 272.3,240 273.2,239.9 274.1,239.6 275.1,239.6 276,239.7 276.9,239.4 277.8,239.6 278.7,239.2 279.7,239.3 280.6,239.3 281.5,239.2 282.4,239.1 283.4,238.7 284.3,238.9 285.2,238.7 286.1,238.7 287,238.6 288,238.2 288.9,238.1 289.8,238 290.7,237.8 291.7,237.9 292.6,238 293.5,237.8 294.4,237.6 295.4,237.3 296.3,237.1 297.2,237.2 298.1,237.3 299,237 300,236.7 300.9,236.9 301.8,236.5 302.7,236.4 303.7,236.5 304.6,236.4 305.5,236.5 306.4,236.4 307.3,236.3 308.3,235.9 309.2,235.8 310.1,235.5 311,235.6 312,235.3 312.9,235.5 313.8,235.5 314.7,235.5 315.7,235.2 316.6,235 317.5,234.7 318.4,234.9 319.3,234.9 320.3,234.5 321.2,234.6 322.1,234.4 323,234.5 324,234 324.9,233.9 325.8,233.9 326.7,233.7 327.6,233.9 328.6,233.9 329.5,233.7 330.4,233.3 331.3,233.4 332.3,233.4 333.2,233.3 334.1,233.2 335,233 336,232.6 336.9,232.5 337.8,232.5 338.7,232.4 339.6,232.6 340.6,232.3 341,229.9 341.3,232.2 342.4,232 343.5,232.1 344.5,231.9 345.6,232 346.7,231.6" fill="none" stroke="#000000" stroke-width="1.16" stroke-opacity="0.6" stroke-linejoin="round" stroke-linecap="butt"/>
<polyline points="275.4,243.6 276.5,243.5 277.3,241.4 278,242.8 279,242.5 280,242.8 280.9,242.4 281.9,242.3 282.8,242.2 283.8,242.1 284.7,242.1 285.7,241.9 286.1,237.9 286.5,241.8 287.4,241.5 288.3,241.3 289.2,241.4 290.1,241.1 291,241.1 292,241.4 292.9,240.9 293.8,241.1 294.7,240.7 295.6,240.8 296.6,240.4 297.5,240.7 298.4,240.2 299.3,240.5 300.2,240.4 301.1,240.3 302.1,240.2 303,239.6 303.9,239.6 304.8,239.5 305.7,239.7 306.7,239.4 307.6,239.2 308.5,239.2 309.4,239.3 310.3,238.8 311.2,238.8 312.2,238.8 313.1,238.9 314,238.7 314.9,238.4 315.8,238.4 316.8,238.3 317.7,238 318.6,238.2 319.5,237.8 320.4,238.2 321.3,237.8 322.3,237.6 323.2,237.9 324.1,237.4 325,237.5 325.9,237.2 326.8,237.1 327.8,237.3 328.7,236.8 329.6,237 330.5,237 331.4,236.7 332.4,236.8 333.3,236.7 334.2,236.2 335.1,236.5 336,236.1 336.9,235.9 337.9,236 338.8,235.7 339.7,235.6 340.6,235.8 341.5,235.8 342.5,235.3 343.4,235.2 344.3,235.1 345.2,235 346.1,235 347,234.7 348,234.7 348.9,234.6 349.8,234.4 350.7,234.5 351.1,230.2 351.5,234.4 352.6,234.5 353.8,234.2 354.2,208.1 354.5,234.1 355.7,233.8 356.8,233.8 358,233.7" fill="none" stroke="#ffff00" stroke-width="1.305" stroke-opacity="0.6" stroke-linejoin="round" stroke-linecap="butt"/>
<polyline points="281,244.7 282.2,244.5 282.9,242.5 283.7,243.9 284.6,244 285.5,243.8 286.5,243.5 287.4,243.4 288.3,243.3 289.3,243.4 290.2,243.1 291.1,243 291.5,237.5 291.9,242.9 292.8,242.6 293.7,242.4 294.6,242.5 295.6,242.3 296.5,242.6 297.4,242.4 298.3,242.1 299.2,241.9 300.1,242.1 301.1,242 302,241.7 302.9,241.7 303.8,241.7 304.7,241.6 305.7,241.3 306.6,241.1 307.5,241.3 308.4,240.8 309.3,241.1 310.3,240.9 311.2,240.6 312.1,240.8 313,240.6 313.9,240.6 314.9,240.4 315.8,240 316.7,240.2 317.6,239.9 318.5,239.7 319.4,239.9 320.4,239.5 321.3,239.6 322.2,239.3 323.1,239.3 324,239.3 325,238.9 325.9,238.9 326.8,239 327.7,238.8 328.6,238.8 329.6,238.7 330.5,238.3 331.4,238.2 332.3,238.5 333.2,238 334.2,238 335.1,238.2 336,238.1 336.9,237.8 337.8,237.5 338.7,237.4 339.7,237.6 340.6,237.4 341.5,237.1 342.4,237.3 343.3,237.3 344.3,237 345.2,236.8 346.1,236.6 347,236.5 347.9,236.8 348.9,236.6 349.8,236.5 350.7,236.2 351.6,236.2 352.5,235.8 353.5,235.9 354.4,235.8 355.3,235.6 356.2,235.8 357.1,235.5 357.5,230.2 357.9,235.4 359.4,235.3 359.8,208.3 360.2,235.2 361.3,234.8 362.5,234.7 363.6,234.8" fill="none" stroke="#ff00ff" stroke-width="1.305" stroke-opacity="0.6" stroke-linejoin="round" stroke-linecap="butt"/>
<polyline points="292.3,246.8 293.8,246.7 294.4,243.4 295,246.1 295.9,245.8 296.8,245.7 297.7,245.9 298.7,245.9 299.6,245.6 300.5,245.3 301.4,245.5 302.3,245 303.3,244.9 304.2,244.9 305.1,244.9 306,245 306.9,244.5 307.9,244.7 308.8,244.5 309.7,244.2 310.6,244.2 311.5,244.3 312.5,243.9 313.4,244 314.3,243.9 315.2,243.8 316.1,243.5 317.1,243.8 318,243.4 318.9,243.3 319.8,243.1 320.7,243.2 321.7,243 322.6,242.7 323.5,243 324.4,242.6 325.3,242.6 326.3,242.6 327.2,242.5 328.1,242.4 329,242 329.9,242.2 330.9,241.7 331.8,241.9 332.7,241.9 333.6,241.5 334.5,241.5 335.5,241.2 336.4,241.5 337.3,241.1 338.2,241.4 339.1,241.2 340.1,241 341,240.9 341.9,240.8 342.8,240.6 343.7,240.4 344.7,240.4 345.6,240.3 346.5,240 347.4,240.2 348.3,239.7 349.3,240.1 350.2,239.8 351.1,239.5 352,239.7 352.9,239.5 353.9,239.5 354.8,239 355.7,238.9 356.6,239.2 357.5,238.9 358.5,239 359.4,239 360.3,238.8 361.2,238.4 362.1,238.4 363.1,238.4 364,238.2 364.9,238.3 365.8,238.1 366.7,238.1 367.7,237.8 368,233.9 368.4,237.7 370,237.5 370.3,233.7 370.7,237.4 371.7,237.2 372.6,237.3 373.6,237 374.5,237" fill="none" stroke="#00ffff" stroke-width="1.305" stroke-opacity="0.6" stroke-linejoin="round" stroke-linecap="butt"/>
<polyline points="298,247.9 299.5,247.8 299.9,242.2 300.3,247.2 301.2,247.2 302.1,247 303,246.8 303.9,246.9 304.9,246.6 305.8,246.4 306.7,246.7 307.6,246.5 308.6,246.5 309.5,246.1 310.4,246.2 311.3,245.9 312.2,246 313.2,245.7 314.1,245.7 315,245.4 315.9,245.2 316.9,245.1 317.8,245.2 318.7,244.9 319.6,244.8 320.6,245 321.5,244.5 322.4,244.4 323.3,244.7 324.2,244.3 325.2,244.3 326.1,244.2 327,244 327.9,244.1 328.9,243.8 329.8,243.7 330.7,243.9 331.6,243.4 332.5,243.4 333.5,243.6 334.4,243.5 335.3,243.4 336.2,243 337.2,242.9 338.1,242.7 339,242.6 339.9,242.8 340.9,242.7 341.8,242.7 342.7,242.4 343.6,242.3 344.5,242.2 345.5,241.9 346.4,241.9 347.3,241.7 348.2,241.5 349.2,241.5 350.1,241.5 351,241.4 351.9,241.3 352.8,241.2 353.8,241 354.7,240.8 355.6,240.8 356.5,240.9 357.5,240.6 358.4,240.6 359.3,240.6 360.2,240.6 361.2,240.3 362.1,239.9 363,239.9 363.9,240.2 364.8,239.6 365.8,239.6 366.7,239.6 367.6,239.8 368.5,239.5 369.5,239.4 370.4,239.2 371.3,239.3 372.2,238.9 373.2,238.8 374.1,238.8 374.5,234.9 374.8,238.7 375.9,238.5 376.9,238.5 377.9,238.3 378.9,238.4 379.9,238 381,238" fill="none" stroke="#0000ff" stroke-width="1.305" stroke-opacity="0.6" stroke-linejoin="round" stroke-linecap="butt"/>
<polyline points="309.3,250.1 310.3,249.8 311.4,249.9 311.8,240.8 312.2,249.3 313.1,249 314,248.9 314.9,249.1 315.8,249 316.8,249 317.7,248.5 318.6,248.4 319.5,248.2 320.4,248.3 321.4,248.1 322.3,248 323.2,248.2 324.1,248.1 325,247.6 326,247.5 326.9,247.5 327.8,247.4 328.7,247.4 329.7,247.1 330.6,247.3 331.5,247.3 332.4,246.8 333.3,247.1 334.3,246.6 335.2,246.6 336.1,246.7 337,246.5 337.9,246.4 338.9,246.1 339.8,246 340.7,246.1 341.6,246.1 342.5,245.9 343.5,245.7 344.4,245.5 345.3,245.3 346.2,245.5 347.1,245.4 348.1,245.1 349,245.1 349.9,244.8 350.8,244.8 351.8,244.7 352.7,244.5 353.6,244.7 354.5,244.3 355.4,244.5 356.4,244.2 357.3,244.1 358.2,244 359.1,244.1 360,243.8 361,243.8 361.9,243.7 362.8,243.5 363.2,242.1 363.6,243.4 364.5,243.3 365.5,243.2 366.4,243.2 367.4,242.9 368.3,242.6 369.3,242.5 370.3,242.8 371.2,242.7 372.2,242.5 373.1,242.3 374.1,242.1 375,242.1 376,242 377,241.6 377.9,241.6 378.9,241.5 379.8,241.7 380.8,241.3 381.7,241.6 382.7,241 383.6,241 384.6,241 385,234.3 385.4,241 386.7,240.6 388,240.7 388.4,238.8 388.8,240.6 389.8,240.5 390.9,240.2 391.9,240.2" fill="none" stroke="#00ff00" stroke-width="1.305" stroke-opacity="0.6" stroke-linejoin="round" stroke-linecap="butt"/>
<polyline points="314.9,251.2 316.7,251 317.1,243 317.5,250.6 397.1,241.8" fill="none" stroke="#ff0000" stroke-width="1.305" stroke-opacity="0.6" stroke-linejoin="round" stroke-linecap="butt"/>
<polygon points="355.8,246.4 355.8,244.4 356.5,243.7 357.1,244.4 357.7,244.4 358.4,244.1 359,243.7 359.7,243.7 360.3,243.4 360.9,243.5 361.6,243.3 361.6,245.7" fill="#ff0000" fill-opacity="0.85"/>
<text x="240.1" y="210.8" font-size="7.9" text-anchor="middle" fill="#3a3a3a" class="s" textLength="2.6" lengthAdjust="spacingAndGlyphs">5</text>
<text x="240.1" y="240" font-size="7.9" text-anchor="middle" fill="#3a3a3a" class="s" textLength="2.6" lengthAdjust="spacingAndGlyphs">0</text>
<text x="239.7" y="246.1" font-size="7.9" text-anchor="middle" fill="#3a3a3a" class="s" textLength="4.8" lengthAdjust="spacingAndGlyphs">30</text>
<text x="253" y="248.8" font-size="7.9" text-anchor="middle" fill="#3a3a3a" class="s" textLength="4.8" lengthAdjust="spacingAndGlyphs">25</text>
<text x="267.1" y="251.5" font-size="7.9" text-anchor="middle" fill="#3a3a3a" class="s" textLength="4.8" lengthAdjust="spacingAndGlyphs">20</text>
<text x="281.3" y="254.3" font-size="7.9" text-anchor="middle" fill="#3a3a3a" class="s" textLength="4.8" lengthAdjust="spacingAndGlyphs">15</text>
<text x="295.4" y="257" font-size="7.9" text-anchor="middle" fill="#3a3a3a" class="s" textLength="4.8" lengthAdjust="spacingAndGlyphs">10</text>
<text x="310" y="259.7" font-size="7.9" text-anchor="middle" fill="#3a3a3a" class="s" textLength="2.5" lengthAdjust="spacingAndGlyphs">5</text>
<text x="318.8" y="259.8" font-size="7.9" text-anchor="middle" fill="#3a3a3a" class="s" textLength="2.5" lengthAdjust="spacingAndGlyphs">0</text>
<text x="335.7" y="258.1" font-size="7.9" text-anchor="middle" fill="#3a3a3a" class="s" textLength="6" lengthAdjust="spacingAndGlyphs">0.2</text>
<text x="351" y="256.4" font-size="7.9" text-anchor="middle" fill="#3a3a3a" class="s" textLength="6" lengthAdjust="spacingAndGlyphs">0.4</text>
<text x="366.3" y="254.7" font-size="7.9" text-anchor="middle" fill="#3a3a3a" class="s" textLength="6" lengthAdjust="spacingAndGlyphs">0.6</text>
<text x="381.6" y="253" font-size="7.9" text-anchor="middle" fill="#3a3a3a" class="s" textLength="6" lengthAdjust="spacingAndGlyphs">0.8</text>
<text x="395.3" y="251.3" font-size="7.9" text-anchor="middle" fill="#3a3a3a" class="s" textLength="2.5" lengthAdjust="spacingAndGlyphs">1</text>
<text x="412.2" y="249.6" font-size="7.9" text-anchor="middle" fill="#3a3a3a" class="s" textLength="6" lengthAdjust="spacingAndGlyphs">1.2</text>
<text x="325.1" y="194.4" font-size="10.9" text-anchor="middle" fill="#111" font-weight="bold" stroke="#111" stroke-width="0.5" textLength="10.7" lengthAdjust="spacingAndGlyphs">ESA</text>
<text x="265.6" y="271.6" font-size="10" text-anchor="middle" fill="#262626" font-weight="bold" stroke="#262626" stroke-width="0.3" textLength="37.8" lengthAdjust="spacingAndGlyphs">Harmonic Level</text>
<text x="363.1" y="271.8" font-size="10" text-anchor="middle" fill="#262626" font-weight="bold" stroke="#262626" stroke-width="0.3" textLength="23.9" lengthAdjust="spacingAndGlyphs">Time (sec)</text>
<text transform="translate(231.1,223.1) scale(0.55,1) rotate(-90)" x="0" y="0" font-size="9.8" text-anchor="middle" fill="#262626" font-weight="bold" stroke="#262626" stroke-width="0.5" textLength="45.8" lengthAdjust="spacingAndGlyphs">Harmonics</text>
<text transform="translate(237.2,223.1) scale(0.55,1) rotate(-90)" x="0" y="0" font-size="9.8" text-anchor="middle" fill="#262626" font-weight="bold" stroke="#262626" stroke-width="0.5" textLength="64.8" lengthAdjust="spacingAndGlyphs">Magnitude (%)</text>
<polyline points="45.9,326.3 45.9,296.9" fill="none" stroke="#e4e4e4" stroke-width="0.6" stroke-linejoin="round" stroke-linecap="butt"/>
<polyline points="61.2,324.6 61.2,295.2" fill="none" stroke="#e4e4e4" stroke-width="0.6" stroke-linejoin="round" stroke-linecap="butt"/>
<polyline points="76.5,322.9 76.5,293.5" fill="none" stroke="#e4e4e4" stroke-width="0.6" stroke-linejoin="round" stroke-linecap="butt"/>
<polyline points="91.8,321.2 91.8,291.8" fill="none" stroke="#e4e4e4" stroke-width="0.6" stroke-linejoin="round" stroke-linecap="butt"/>
<polyline points="107.1,319.5 107.1,290.1" fill="none" stroke="#e4e4e4" stroke-width="0.6" stroke-linejoin="round" stroke-linecap="butt"/>
<polyline points="122.4,317.8 122.4,288.4" fill="none" stroke="#e4e4e4" stroke-width="0.6" stroke-linejoin="round" stroke-linecap="butt"/>
<polyline points="30.6,298.6 122.4,288.4" fill="none" stroke="#e4e4e4" stroke-width="0.6" stroke-linejoin="round" stroke-linecap="butt"/>
<polyline points="193,331.4 193,302" fill="none" stroke="#e4e4e4" stroke-width="0.6" stroke-linejoin="round" stroke-linecap="butt"/>
<polyline points="178.9,328.7 178.9,299.3" fill="none" stroke="#e4e4e4" stroke-width="0.6" stroke-linejoin="round" stroke-linecap="butt"/>
<polyline points="164.8,326 164.8,296.6" fill="none" stroke="#e4e4e4" stroke-width="0.6" stroke-linejoin="round" stroke-linecap="butt"/>
<polyline points="150.6,323.2 150.6,293.8" fill="none" stroke="#e4e4e4" stroke-width="0.6" stroke-linejoin="round" stroke-linecap="butt"/>
<polyline points="136.5,320.5 136.5,291.1" fill="none" stroke="#e4e4e4" stroke-width="0.6" stroke-linejoin="round" stroke-linecap="butt"/>
<polyline points="193,302 122.4,288.4" fill="none" stroke="#e4e4e4" stroke-width="0.6" stroke-linejoin="round" stroke-linecap="butt"/>
<polyline points="116.5,339.9 45.9,326.3" fill="none" stroke="#e4e4e4" stroke-width="0.5" stroke-linejoin="round" stroke-linecap="butt"/>
<polyline points="131.8,338.2 61.2,324.6" fill="none" stroke="#e4e4e4" stroke-width="0.5" stroke-linejoin="round" stroke-linecap="butt"/>
<polyline points="147.1,336.5 76.5,322.9" fill="none" stroke="#e4e4e4" stroke-width="0.5" stroke-linejoin="round" stroke-linecap="butt"/>
<polyline points="162.4,334.8 91.8,321.2" fill="none" stroke="#e4e4e4" stroke-width="0.5" stroke-linejoin="round" stroke-linecap="butt"/>
<polyline points="177.7,333.1 107.1,319.5" fill="none" stroke="#e4e4e4" stroke-width="0.5" stroke-linejoin="round" stroke-linecap="butt"/>
<polyline points="87.1,338.9 178.9,328.7" fill="none" stroke="#e4e4e4" stroke-width="0.5" stroke-linejoin="round" stroke-linecap="butt"/>
<polyline points="73,336.2 164.8,326" fill="none" stroke="#e4e4e4" stroke-width="0.5" stroke-linejoin="round" stroke-linecap="butt"/>
<polyline points="58.8,333.4 150.6,323.2" fill="none" stroke="#e4e4e4" stroke-width="0.5" stroke-linejoin="round" stroke-linecap="butt"/>
<polyline points="44.7,330.7 136.5,320.5" fill="none" stroke="#e4e4e4" stroke-width="0.5" stroke-linejoin="round" stroke-linecap="butt"/>
<polyline points="30.6,328 122.4,317.8" fill="none" stroke="#b0b0b0" stroke-width="0.6" stroke-linejoin="round" stroke-linecap="butt"/>
<polyline points="122.4,317.8 193,331.4" fill="none" stroke="#c8c8c8" stroke-width="0.6" stroke-linejoin="round" stroke-linecap="butt"/>
<polyline points="30.6,328 30.6,298.6" fill="none" stroke="#8a8a8a" stroke-width="0.7" stroke-linejoin="round" stroke-linecap="butt"/>
<polyline points="30.6,328 101.2,341.6" fill="none" stroke="#555555" stroke-width="0.9" stroke-linejoin="round" stroke-linecap="butt"/>
<polyline points="101.2,341.6 193,331.4" fill="none" stroke="#666666" stroke-width="0.8" stroke-linejoin="round" stroke-linecap="butt"/>
<polyline points="29.1,328 30.6,328" fill="none" stroke="#5a5a5a" stroke-width="0.6" stroke-linejoin="round" stroke-linecap="butt"/>
<polyline points="29.1,298.6 30.6,298.6" fill="none" stroke="#5a5a5a" stroke-width="0.6" stroke-linejoin="round" stroke-linecap="butt"/>
<polyline points="33.4,328.5 34.6,328.4 35.3,324.8 36.1,327.9 37.1,328.1 38.1,327.6 39.2,327.8 40.2,327.3 41.2,327.2 42.2,327.2 42.6,318.5 43,326.9 43.9,326.9 44.8,326.6 45.8,326.5 46.7,326.8 47.6,326.3 48.5,326.1 49.5,326.1 50.4,325.7 51.3,325.7 52.2,325.9 53.2,325.9 54.1,325.8 55,325.2 55.9,325.2 56.9,325.1 57.8,325.1 58.7,325 59.6,325.1 60.6,324.7 61.5,324.9 62.4,324.4 63.3,324.3 64.3,324.2 65.2,324.4 66.1,324.4 67,324.1 68,323.7 68.9,323.7 69.8,323.4 70.7,323.6 71.7,323.4 72.6,323.4 73.5,322.9 74.5,323.3 75.4,323.2 76.3,322.8 77.3,322.7 78.2,322.7 79.1,322.5 80.1,322.5 81,322.2 81.9,321.9 82.9,321.9 83.8,321.9 84.7,322 85.7,321.5 86.6,321.8 87.5,321.5 88.5,321.2 89.4,321.3 90.3,321.4 91.3,321 92.2,321 93.1,320.7 94.1,320.8 95,320.8 95.9,320.3 96.9,320.6 97.8,320.6 98.7,320 99.7,319.9 100.6,320.4 101.5,320.4 102.5,319.7 103.4,319.6 104.3,319.9 105.3,319.9 106.2,319.4 107.1,319.1 108.1,319.6 109,319.3 109.9,319.1 110.3,317 110.7,319.1 111.7,318.8 112.7,319.1 113.7,318.8 114.8,318.9 115.8,318.5 116.8,318.4" fill="none" stroke="#0000ff" stroke-width="1.16" stroke-dasharray="2.2,1.2,0.8,1.2" stroke-opacity="0.6" stroke-linejoin="round" stroke-linecap="butt"/>
<polyline points="44.7,330.7 45.9,330.6 46.6,327 47.4,329.9 48.3,330 49.3,330 50.2,329.7 51.1,329.7 52.1,329.6 53,329.5 54,329.2 54.9,329.2 55.8,328.8 56.8,328.9 57.7,328.9 58.6,328.8 59.6,328.6 60.5,328.2 61.4,328.5 62.4,328.2 63.3,327.9 64.2,327.8 65.2,327.9 66.1,327.5 67.1,327.5 68,327.7 68.9,327.7 69.9,327.5 70.8,327 71.7,327.1 72.7,326.8 73.6,326.6 74.5,326.5 75.5,326.7 76.4,326.8 77.4,326.6 78.3,326.5 79.2,326.1 80.2,326 81.1,325.7 82,325.8 83,325.8 83.9,325.4 84.8,325.5 85.7,325.5 86.6,325.2 87.6,325.4 88.5,325 89.4,324.9 90.3,324.7 91.2,325.1 92.2,324.9 93.1,324.4 94,324.8 94.9,324.5 95.8,324.3 96.7,324.3 97.7,323.9 98.6,323.8 99.5,324 100.4,324.1 101.3,323.5 102.2,323.7 103.2,323.7 104.1,323.6 105,323.6 105.9,323.2 106.8,323.2 107.8,323 108.7,322.7 109.6,322.8 110.5,322.4 111.4,322.9 112.3,322.4 113.3,322.3 114.2,322 115.1,322.5 116,322.1 116.9,322 117.9,321.8 118.8,321.8 119.7,321.7 120.5,318.8 121.2,321.5 122.4,320.1 123.5,318.5 124.3,321.2 125.4,319.4 126.6,318.1 127.3,320.8 128.9,320.7" fill="none" stroke="#ff0000" stroke-width="1.16" stroke-dasharray="2.2,1.2,0.8,1.2" stroke-opacity="0.6" stroke-linejoin="round" stroke-linecap="butt"/>
<polyline points="50.4,331.8 51.5,331.7 52.3,328.1 53,331.1 54,330.8 54.9,330.8 55.8,330.6 56.7,330.7 57.7,330.8 58.6,330.4 59.5,330.6 60.4,330.1 61.4,330.1 62.3,330.2 63.2,330.1 64.1,330.1 65,329.9 66,329.4 66.9,329.7 67.8,329.2 68.7,329.5 69.7,329.3 70.6,329.1 71.5,329.1 72.4,328.7 73.3,328.9 74.3,328.7 75.2,328.7 76.1,328.7 77,328.3 78,328.4 78.9,328.2 79.8,328 80.7,328.2 81.7,328.1 82.6,327.7 83.5,327.4 84.4,327.8 85.3,327.5 86.3,327.1 87.2,327.1 88.1,326.9 89,327 90,326.7 90.9,327 91.8,326.7 92.7,326.4 93.6,326.5 94.6,326.4 95.5,326.3 96.4,326.2 97.3,325.9 98.3,325.7 99.2,326 100.1,325.8 101,325.5 102,325.4 102.9,325.3 103.8,325.2 104.7,325 105.6,325 106.6,325 107.5,325 108.4,325 109.3,324.5 110.3,324.4 111.2,324.3 112.1,324.5 113,324.2 113.9,324 114.9,324.2 115.8,324.2 116.7,324 117.6,323.9 118.6,323.6 119.5,323.4 120.4,323.3 121.3,323.2 122.3,323 123.2,322.9 124.1,323.1 125,322.7 125.9,322.7 126.9,322.7 127.3,320.3 127.6,322.6 128.7,322.6 129.8,322.3 130.8,322.4 131.9,322.2 133,322" fill="none" stroke="#000000" stroke-width="1.16" stroke-opacity="0.6" stroke-linejoin="round" stroke-linecap="butt"/>
<polyline points="61.7,334 62.8,333.9 63.6,331.8 64.3,333.2 65.3,332.9 66.3,333.2 67.2,332.8 68.2,332.8 69.1,332.8 70.1,332.8 71,332.4 72,332.3 72.4,328.3 72.8,332.2 73.7,332.1 74.6,332.1 75.5,331.9 76.4,331.6 77.3,331.8 78.3,331.4 79.2,331.6 80.1,331.3 81,331.3 81.9,330.9 82.9,330.8 83.8,330.8 84.7,330.9 85.6,330.8 86.5,330.4 87.4,330.5 88.4,330.3 89.3,330.2 90.2,330.3 91.1,330.1 92,329.8 93,330 93.9,329.6 94.8,329.8 95.7,329.8 96.6,329.5 97.5,329.5 98.5,329.2 99.4,329 100.3,329.3 101.2,328.9 102.1,328.9 103.1,328.5 104,328.5 104.9,328.3 105.8,328.3 106.7,328.4 107.6,328.2 108.6,328.1 109.5,328.1 110.4,328 111.3,327.7 112.2,327.5 113.1,327.7 114.1,327.6 115,327.6 115.9,327.4 116.8,327.2 117.7,327.3 118.7,326.9 119.6,327 120.5,326.6 121.4,326.8 122.3,326.4 123.2,326.2 124.2,326.5 125.1,326.3 126,325.9 126.9,326.1 127.8,326 128.8,326 129.7,325.6 130.6,325.7 131.5,325.3 132.4,325.4 133.3,325.5 134.3,325 135.2,324.9 136.1,324.9 137,324.9 137.4,320.6 137.8,324.8 138.9,324.6 140.1,324.6 140.5,297.2 140.8,324.5 142,324.2 143.1,324 144.3,324.1" fill="none" stroke="#ffff00" stroke-width="1.305" stroke-opacity="0.6" stroke-linejoin="round" stroke-linecap="butt"/>
<polyline points="67.3,335.1 68.5,334.9 69.2,332.9 70,334.3 70.9,334.3 71.8,334.2 72.8,333.8 73.7,333.9 74.6,333.5 75.6,333.5 76.5,333.5 77.4,333.4 77.8,327.9 78.2,333.3 79.1,333.3 80,333 80.9,332.9 81.9,332.8 82.8,332.6 83.7,332.7 84.6,332.3 85.5,332.4 86.4,332.5 87.4,332.1 88.3,332.3 89.2,331.8 90.1,331.7 91,332 92,331.9 92.9,331.5 93.8,331.5 94.7,331.5 95.6,331.2 96.6,331.3 97.5,331.3 98.4,331 99.3,330.7 100.2,330.6 101.2,330.9 102.1,330.5 103,330.6 103.9,330.1 104.8,330.3 105.7,330.4 106.7,330.1 107.6,329.9 108.5,330 109.4,329.6 110.3,329.7 111.3,329.4 112.2,329.6 113.1,329.3 114,329.1 114.9,329.3 115.9,329.1 116.8,328.7 117.7,328.9 118.6,328.8 119.5,328.5 120.5,328.4 121.4,328.2 122.3,328.3 123.2,328 124.1,327.9 125,327.8 126,327.7 126.9,327.7 127.8,327.6 128.7,327.6 129.6,327.7 130.6,327.2 131.5,327.3 132.4,327.2 133.3,327 134.2,326.8 135.2,326.7 136.1,326.9 137,326.5 137.9,326.3 138.8,326.2 139.8,326.1 140.7,326.2 141.6,325.9 142.5,326 143.4,325.9 143.8,320.6 144.2,325.8 145.7,325.7 146.1,298.8 146.5,325.6 147.6,325.3 148.8,325.1 149.9,325.2" fill="none" stroke="#ff00ff" stroke-width="1.305" stroke-opacity="0.6" stroke-linejoin="round" stroke-linecap="butt"/>
<polyline points="78.6,337.2 80.1,337.1 80.7,333.8 81.3,336.5 82.2,336.4 83.1,336.4 84,336 85,335.8 85.9,335.7 86.8,335.8 87.7,335.7 88.6,335.8 89.6,335.3 90.5,335.5 91.4,335.5 92.3,335.4 93.2,334.9 94.2,335 95.1,334.7 96,335 96.9,334.7 97.8,334.4 98.8,334.3 99.7,334.5 100.6,334.3 101.5,334 102.4,333.8 103.4,334.1 104.3,333.8 105.2,333.5 106.1,333.6 107,333.4 108,333.5 108.9,333.3 109.8,333.4 110.7,332.9 111.6,333 112.6,333 113.5,332.6 114.4,332.8 115.3,332.8 116.2,332.4 117.2,332.6 118.1,332.2 119,332.3 119.9,332.3 120.8,331.8 121.8,331.8 122.7,331.7 123.6,331.5 124.5,331.4 125.4,331.6 126.4,331.4 127.3,331.2 128.2,330.9 129.1,330.9 130,330.9 131,330.6 131.9,330.5 132.8,330.7 133.7,330.6 134.6,330.6 135.6,330.1 136.5,330.3 137.4,330 138.3,329.9 139.2,329.8 140.2,329.5 141.1,329.6 142,329.7 142.9,329.5 143.8,329.5 144.8,329.3 145.7,329 146.6,328.9 147.5,328.8 148.4,328.6 149.4,328.5 150.3,328.7 151.2,328.4 152.1,328.3 153,328.5 154,328.2 154.3,324.3 154.7,328.1 156.3,327.9 156.6,324.1 157,327.8 158,327.5 158.9,327.7 159.9,327.4 160.8,327.4" fill="none" stroke="#00ffff" stroke-width="1.305" stroke-opacity="0.6" stroke-linejoin="round" stroke-linecap="butt"/>
<polyline points="84.3,338.3 85.8,338.2 86.2,332.6 86.6,337.6 87.5,337.6 88.4,337.4 89.3,337.5 90.2,336.9 91.2,337.3 92.1,337.2 93,336.7 93.9,336.7 94.9,336.7 95.8,336.3 96.7,336.3 97.6,336.3 98.5,336.1 99.5,335.9 100.4,335.8 101.3,336 102.2,335.7 103.2,335.8 104.1,335.6 105,335.2 105.9,335.3 106.9,335.3 107.8,335.1 108.7,335.1 109.6,334.9 110.5,334.8 111.5,334.8 112.4,334.7 113.3,334.3 114.2,334.3 115.2,334.5 116.1,334.3 117,333.9 117.9,333.9 118.8,333.9 119.8,333.7 120.7,333.8 121.6,333.6 122.5,333.4 123.5,333.4 124.4,333.3 125.3,333.2 126.2,333 127.2,333.1 128.1,332.7 129,333 129.9,332.5 130.8,332.5 131.8,332.6 132.7,332.5 133.6,332.3 134.5,332.3 135.5,331.8 136.4,332 137.3,332 138.2,331.6 139.1,331.4 140.1,331.6 141,331.5 141.9,331.2 142.8,331.3 143.8,331.1 144.7,330.9 145.6,330.6 146.5,330.8 147.5,330.7 148.4,330.4 149.3,330.4 150.2,330.1 151.1,330.3 152.1,330.1 153,330 153.9,329.9 154.8,329.8 155.8,329.9 156.7,329.8 157.6,329.5 158.5,329.1 159.5,329.3 160.4,329.2 160.8,325.3 161.1,329.1 162.2,329 163.2,328.9 164.2,328.6 165.2,328.7 166.2,328.6 167.3,328.4" fill="none" stroke="#0000ff" stroke-width="1.305" stroke-opacity="0.6" stroke-linejoin="round" stroke-linecap="butt"/>
<polyline points="95.6,340.5 96.6,340.5 97.7,340.3 98.1,331.2 98.5,339.7 99.4,339.5 100.3,339.5 101.2,339.3 102.1,339 103.1,339.2 104,339 104.9,338.7 105.8,338.7 106.7,338.6 107.7,338.5 108.6,338.7 109.5,338.4 110.4,338.4 111.3,338.3 112.3,338.3 113.2,337.9 114.1,337.7 115,337.6 116,337.7 116.9,337.4 117.8,337.3 118.7,337.3 119.6,337.1 120.6,337 121.5,337.3 122.4,336.9 123.3,336.8 124.2,336.8 125.2,336.5 126.1,336.4 127,336.6 127.9,336.4 128.8,336.4 129.8,336.1 130.7,336.2 131.6,336.1 132.5,335.9 133.4,335.6 134.4,335.7 135.3,335.2 136.2,335.5 137.1,335.1 138.1,335.2 139,334.8 139.9,334.9 140.8,334.6 141.7,334.7 142.7,334.7 143.6,334.3 144.5,334.6 145.4,334.5 146.3,334.4 147.3,334 148.2,333.8 149.1,333.9 149.5,332.5 149.9,333.8 150.8,333.8 151.8,333.5 152.7,333.3 153.7,333.6 154.6,333.1 155.6,333.3 156.6,333.3 157.5,332.9 158.5,332.9 159.4,332.8 160.4,332.5 161.3,332.7 162.3,332.3 163.3,332.5 164.2,332 165.2,332.1 166.1,332.1 167.1,331.9 168,331.8 169,331.9 169.9,331.4 170.9,331.4 171.3,324.7 171.7,331.4 173,331.2 174.3,331.1 174.7,329.2 175.1,331 176.1,330.7 177.2,330.6 178.2,330.6" fill="none" stroke="#00ff00" stroke-width="1.305" stroke-opacity="0.6" stroke-linejoin="round" stroke-linecap="butt"/>
<polyline points="101.2,341.6 103,341.4 103.4,333.4 103.8,341 183.4,332.2" fill="none" stroke="#ff0000" stroke-width="1.305" stroke-opacity="0.6" stroke-linejoin="round" stroke-linecap="butt"/>
<polygon points="140,337 140,332.7 140.9,332.4 141.9,333.3 142.9,332.8 143.8,332.7 144.8,332.5 145.7,332.2 146.7,332 147.7,332.1 148.6,332.1 148.6,336" fill="#ff0000" fill-opacity="0.85"/>
<text x="26.4" y="301" font-size="7.9" text-anchor="middle" fill="#3a3a3a" class="s" textLength="2.6" lengthAdjust="spacingAndGlyphs">5</text>
<text x="26.4" y="330.4" font-size="7.9" text-anchor="middle" fill="#3a3a3a" class="s" textLength="2.6" lengthAdjust="spacingAndGlyphs">0</text>
<text x="26" y="336.5" font-size="7.9" text-anchor="middle" fill="#3a3a3a" class="s" textLength="4.8" lengthAdjust="spacingAndGlyphs">30</text>
<text x="39.3" y="339.2" font-size="7.9" text-anchor="middle" fill="#3a3a3a" class="s" textLength="4.8" lengthAdjust="spacingAndGlyphs">25</text>
<text x="53.4" y="341.9" font-size="7.9" text-anchor="middle" fill="#3a3a3a" class="s" textLength="4.8" lengthAdjust="spacingAndGlyphs">20</text>
<text x="67.6" y="344.7" font-size="7.9" text-anchor="middle" fill="#3a3a3a" class="s" textLength="4.8" lengthAdjust="spacingAndGlyphs">15</text>
<text x="81.7" y="347.4" font-size="7.9" text-anchor="middle" fill="#3a3a3a" class="s" textLength="4.8" lengthAdjust="spacingAndGlyphs">10</text>
<text x="96.3" y="350.1" font-size="7.9" text-anchor="middle" fill="#3a3a3a" class="s" textLength="2.5" lengthAdjust="spacingAndGlyphs">5</text>
<text x="105.1" y="350.2" font-size="7.9" text-anchor="middle" fill="#3a3a3a" class="s" textLength="2.5" lengthAdjust="spacingAndGlyphs">0</text>
<text x="122" y="348.5" font-size="7.9" text-anchor="middle" fill="#3a3a3a" class="s" textLength="6" lengthAdjust="spacingAndGlyphs">0.2</text>
<text x="137.3" y="346.8" font-size="7.9" text-anchor="middle" fill="#3a3a3a" class="s" textLength="6" lengthAdjust="spacingAndGlyphs">0.4</text>
<text x="152.6" y="345.1" font-size="7.9" text-anchor="middle" fill="#3a3a3a" class="s" textLength="6" lengthAdjust="spacingAndGlyphs">0.6</text>
<text x="167.9" y="343.4" font-size="7.9" text-anchor="middle" fill="#3a3a3a" class="s" textLength="6" lengthAdjust="spacingAndGlyphs">0.8</text>
<text x="181.6" y="341.7" font-size="7.9" text-anchor="middle" fill="#3a3a3a" class="s" textLength="2.5" lengthAdjust="spacingAndGlyphs">1</text>
<text x="198.5" y="340" font-size="7.9" text-anchor="middle" fill="#3a3a3a" class="s" textLength="6" lengthAdjust="spacingAndGlyphs">1.2</text>
<text x="111.8" y="285.4" font-size="10.9" text-anchor="middle" fill="#111" font-weight="bold" stroke="#111" stroke-width="0.5" textLength="12.2" lengthAdjust="spacingAndGlyphs">RFA</text>
<text x="51.9" y="362" font-size="10" text-anchor="middle" fill="#262626" font-weight="bold" stroke="#262626" stroke-width="0.3" textLength="37.8" lengthAdjust="spacingAndGlyphs">Harmonic Level</text>
<text x="149.4" y="362.2" font-size="10" text-anchor="middle" fill="#262626" font-weight="bold" stroke="#262626" stroke-width="0.3" textLength="23.9" lengthAdjust="spacingAndGlyphs">Time (sec)</text>
<text transform="translate(16.6,313.5) scale(0.55,1) rotate(-90)" x="0" y="0" font-size="9.8" text-anchor="middle" fill="#262626" font-weight="bold" stroke="#262626" stroke-width="0.5" textLength="45.8" lengthAdjust="spacingAndGlyphs">Harmonics</text>
<text transform="translate(22.7,313.5) scale(0.55,1) rotate(-90)" x="0" y="0" font-size="9.8" text-anchor="middle" fill="#262626" font-weight="bold" stroke="#262626" stroke-width="0.5" textLength="64.8" lengthAdjust="spacingAndGlyphs">Magnitude (%)</text>
<polyline points="259.6,326.3 259.6,296.9" fill="none" stroke="#e4e4e4" stroke-width="0.6" stroke-linejoin="round" stroke-linecap="butt"/>
<polyline points="274.9,324.6 274.9,295.2" fill="none" stroke="#e4e4e4" stroke-width="0.6" stroke-linejoin="round" stroke-linecap="butt"/>
<polyline points="290.2,322.9 290.2,293.5" fill="none" stroke="#e4e4e4" stroke-width="0.6" stroke-linejoin="round" stroke-linecap="butt"/>
<polyline points="305.5,321.2 305.5,291.8" fill="none" stroke="#e4e4e4" stroke-width="0.6" stroke-linejoin="round" stroke-linecap="butt"/>
<polyline points="320.8,319.5 320.8,290.1" fill="none" stroke="#e4e4e4" stroke-width="0.6" stroke-linejoin="round" stroke-linecap="butt"/>
<polyline points="336.1,317.8 336.1,288.4" fill="none" stroke="#e4e4e4" stroke-width="0.6" stroke-linejoin="round" stroke-linecap="butt"/>
<polyline points="244.3,298.6 336.1,288.4" fill="none" stroke="#e4e4e4" stroke-width="0.6" stroke-linejoin="round" stroke-linecap="butt"/>
<polyline points="406.7,331.4 406.7,302" fill="none" stroke="#e4e4e4" stroke-width="0.6" stroke-linejoin="round" stroke-linecap="butt"/>
<polyline points="392.6,328.7 392.6,299.3" fill="none" stroke="#e4e4e4" stroke-width="0.6" stroke-linejoin="round" stroke-linecap="butt"/>
<polyline points="378.5,326 378.5,296.6" fill="none" stroke="#e4e4e4" stroke-width="0.6" stroke-linejoin="round" stroke-linecap="butt"/>
<polyline points="364.3,323.2 364.3,293.8" fill="none" stroke="#e4e4e4" stroke-width="0.6" stroke-linejoin="round" stroke-linecap="butt"/>
<polyline points="350.2,320.5 350.2,291.1" fill="none" stroke="#e4e4e4" stroke-width="0.6" stroke-linejoin="round" stroke-linecap="butt"/>
<polyline points="406.7,302 336.1,288.4" fill="none" stroke="#e4e4e4" stroke-width="0.6" stroke-linejoin="round" stroke-linecap="butt"/>
<polyline points="330.2,339.9 259.6,326.3" fill="none" stroke="#e4e4e4" stroke-width="0.5" stroke-linejoin="round" stroke-linecap="butt"/>
<polyline points="345.5,338.2 274.9,324.6" fill="none" stroke="#e4e4e4" stroke-width="0.5" stroke-linejoin="round" stroke-linecap="butt"/>
<polyline points="360.8,336.5 290.2,322.9" fill="none" stroke="#e4e4e4" stroke-width="0.5" stroke-linejoin="round" stroke-linecap="butt"/>
<polyline points="376.1,334.8 305.5,321.2" fill="none" stroke="#e4e4e4" stroke-width="0.5" stroke-linejoin="round" stroke-linecap="butt"/>
<polyline points="391.4,333.1 320.8,319.5" fill="none" stroke="#e4e4e4" stroke-width="0.5" stroke-linejoin="round" stroke-linecap="butt"/>
<polyline points="300.8,338.9 392.6,328.7" fill="none" stroke="#e4e4e4" stroke-width="0.5" stroke-linejoin="round" stroke-linecap="butt"/>
<polyline points="286.7,336.2 378.5,326" fill="none" stroke="#e4e4e4" stroke-width="0.5" stroke-linejoin="round" stroke-linecap="butt"/>
<polyline points="272.5,333.4 364.3,323.2" fill="none" stroke="#e4e4e4" stroke-width="0.5" stroke-linejoin="round" stroke-linecap="butt"/>
<polyline points="258.4,330.7 350.2,320.5" fill="none" stroke="#e4e4e4" stroke-width="0.5" stroke-linejoin="round" stroke-linecap="butt"/>
<polyline points="244.3,328 336.1,317.8" fill="none" stroke="#b0b0b0" stroke-width="0.6" stroke-linejoin="round" stroke-linecap="butt"/>
<polyline points="336.1,317.8 406.7,331.4" fill="none" stroke="#c8c8c8" stroke-width="0.6" stroke-linejoin="round" stroke-linecap="butt"/>
<polyline points="244.3,328 244.3,298.6" fill="none" stroke="#8a8a8a" stroke-width="0.7" stroke-linejoin="round" stroke-linecap="butt"/>
<polyline points="244.3,328 314.9,341.6" fill="none" stroke="#555555" stroke-width="0.9" stroke-linejoin="round" stroke-linecap="butt"/>
<polyline points="314.9,341.6 406.7,331.4" fill="none" stroke="#666666" stroke-width="0.8" stroke-linejoin="round" stroke-linecap="butt"/>
<polyline points="242.8,328 244.3,328" fill="none" stroke="#5a5a5a" stroke-width="0.6" stroke-linejoin="round" stroke-linecap="butt"/>
<polyline points="242.8,298.6 244.3,298.6" fill="none" stroke="#5a5a5a" stroke-width="0.6" stroke-linejoin="round" stroke-linecap="butt"/>
<polyline points="247.1,328.5 248.3,328.4 249,324.8 249.8,327.9 250.8,327.4 251.8,327.7 252.9,327.4 253.9,327.2 254.9,327.5 255.9,327.2 256.3,318.5 256.7,326.9 257.6,327.1 258.5,326.6 259.5,326.8 260.4,326.5 261.3,326 262.2,325.9 263.2,326.4 264.1,326.3 265,326.1 265.9,325.5 266.9,326 267.8,325.8 268.7,325.7 269.6,325.6 270.6,325.2 271.5,325.3 272.4,325 273.3,324.7 274.3,324.6 275.2,324.7 276.1,324.3 277,324.3 278,324 278.9,324.4 279.8,324.2 280.7,323.9 281.7,323.5 282.6,323.6 283.5,323.6 284.4,323.7 285.4,323.4 286.3,323.5 287.2,323.4 288.2,322.7 289.1,322.7 290,322.6 291,322.7 291.9,322.5 292.8,322.7 293.8,322.5 294.7,322.6 295.6,322.3 296.6,322.3 297.5,322.4 298.4,321.6 299.4,322.2 300.3,321.5 301.2,321.5 302.2,321.9 303.1,321.4 304,320.9 305,320.8 305.9,321.1 306.8,320.8 307.8,320.7 308.7,321 309.6,320.7 310.6,320.5 311.5,320.6 312.4,320.1 313.4,320.3 314.3,320 315.2,320.4 316.2,320 317.1,320.2 318,319.6 319,319.4 319.9,319.5 320.8,319.4 321.8,319.3 322.7,319.5 323.6,319.1 324,317 324.4,319.1 325.4,319 326.4,318.8 327.4,318.6 328.5,318.7 329.5,318.5 330.5,318.4" fill="none" stroke="#0000ff" stroke-width="1.16" stroke-dasharray="2.2,1.2,0.8,1.2" stroke-opacity="0.6" stroke-linejoin="round" stroke-linecap="butt"/>
<polyline points="258.4,330.7 259.6,330.6 260.3,327 261.1,329.9 262,329.9 263,329.7 263.9,329.5 264.8,329.6 265.8,329.3 266.7,329.1 267.7,329.1 268.6,328.8 269.5,329.1 270.5,328.6 271.4,328.9 272.3,328.7 273.3,328.3 274.2,328.7 275.1,328.2 276.1,328 277,327.8 277.9,327.8 278.9,327.9 279.8,327.8 280.8,327.5 281.7,327.8 282.6,327.7 283.6,327.1 284.5,327.1 285.4,327.3 286.4,327 287.3,327 288.2,326.5 289.2,326.8 290.1,326.4 291.1,326.3 292,326.4 292.9,326.4 293.9,326.1 294.8,326 295.7,325.8 296.7,325.8 297.6,325.8 298.5,325.4 299.4,325.5 300.3,325.6 301.3,325.1 302.2,324.9 303.1,324.9 304,324.9 304.9,324.6 305.8,324.5 306.8,324.9 307.7,324.6 308.6,324.7 309.5,324.4 310.4,324.4 311.4,324.2 312.3,323.9 313.2,323.7 314.1,324 315,324 315.9,323.3 316.9,323.4 317.8,323.4 318.7,323.6 319.6,323.5 320.5,322.9 321.5,323 322.4,322.7 323.3,322.6 324.2,322.6 325.1,322.4 326,322.7 327,322.6 327.9,322.3 328.8,322 329.7,321.9 330.6,321.8 331.6,321.8 332.5,321.8 333.4,321.7 334.2,318.8 334.9,321.5 336.1,320.2 337.2,318.5 338,321.2 339.1,319.6 340.3,318.1 341,320.8 342.6,320.7" fill="none" stroke="#ff0000" stroke-width="1.16" stroke-dasharray="2.2,1.2,0.8,1.2" stroke-opacity="0.6" stroke-linejoin="round" stroke-linecap="butt"/>
<polyline points="264.1,331.8 265.2,331.7 266,328.1 266.7,331.1 267.7,330.9 268.6,330.9 269.5,330.7 270.4,330.5 271.4,330.4 272.3,330.7 273.2,330.5 274.1,330.2 275.1,330.1 276,330.2 276.9,329.7 277.8,329.9 278.7,329.6 279.7,329.9 280.6,329.6 281.5,329.7 282.4,329.2 283.4,329.2 284.3,328.9 285.2,329 286.1,329 287,328.9 288,328.8 288.9,328.7 289.8,328.7 290.7,328.3 291.7,328.4 292.6,328.2 293.5,328 294.4,328.1 295.4,327.9 296.3,327.8 297.2,327.7 298.1,327.5 299,327.6 300,327.4 300.9,327.4 301.8,327 302.7,327.1 303.7,326.7 304.6,326.8 305.5,326.6 306.4,326.6 307.3,326.3 308.3,326.3 309.2,326.2 310.1,326.4 311,326.2 312,325.8 312.9,325.9 313.8,325.5 314.7,325.6 315.7,325.4 316.6,325.3 317.5,325.1 318.4,325.1 319.3,324.9 320.3,325.1 321.2,325 322.1,325 323,324.8 324,324.4 324.9,324.4 325.8,324.6 326.7,324.5 327.6,324.2 328.6,324.1 329.5,324 330.4,324.1 331.3,323.9 332.3,323.5 333.2,323.4 334.1,323.3 335,323.5 336,323.1 336.9,323.3 337.8,323.1 338.7,322.7 339.6,323 340.6,322.7 341,320.3 341.3,322.6 342.4,322.6 343.5,322.5 344.5,322.1 345.6,322.1 346.7,322" fill="none" stroke="#000000" stroke-width="1.16" stroke-opacity="0.6" stroke-linejoin="round" stroke-linecap="butt"/>
<polyline points="275.4,334 276.5,333.9 277.3,331.8 278,333.2 279,333 280,332.8 280.9,332.9 281.9,332.6 282.8,332.5 283.8,332.6 284.7,332.6 285.7,332.3 286.1,328.3 286.5,332.2 287.4,332 288.3,332 289.2,331.7 290.1,331.7 291,331.5 292,331.5 292.9,331.5 293.8,331.2 294.7,331 295.6,331 296.6,330.9 297.5,331 298.4,331 299.3,330.7 300.2,330.6 301.1,330.4 302.1,330.4 303,330.3 303.9,330.4 304.8,330.3 305.7,330.2 306.7,330 307.6,329.9 308.5,329.8 309.4,329.6 310.3,329.5 311.2,329.2 312.2,329 313.1,328.9 314,328.9 314.9,329.2 315.8,329 316.8,328.5 317.7,328.5 318.6,328.4 319.5,328.6 320.4,328.5 321.3,328.4 322.3,328.1 323.2,328.1 324.1,327.9 325,328 325.9,327.9 326.8,327.7 327.8,327.3 328.7,327.3 329.6,327.3 330.5,327.4 331.4,327.1 332.4,327 333.3,326.8 334.2,326.8 335.1,326.5 336,326.7 336.9,326.3 337.9,326.6 338.8,326.4 339.7,326 340.6,325.9 341.5,326 342.5,326 343.4,325.5 344.3,325.6 345.2,325.7 346.1,325.2 347,325.3 348,325.3 348.9,325.1 349.8,325.1 350.7,324.9 351.1,320.6 351.5,324.8 352.6,324.7 353.8,324.6 354.2,296.1 354.5,324.5 355.7,324.4 356.8,324.3 358,324.1" fill="none" stroke="#ffff00" stroke-width="1.305" stroke-opacity="0.6" stroke-linejoin="round" stroke-linecap="butt"/>
<polyline points="281,335.1 282.2,334.9 282.9,332.9 283.7,334.3 284.6,334.1 285.5,334.2 286.5,333.8 287.4,333.7 288.3,333.5 289.3,333.8 290.2,333.4 291.1,333.4 291.5,327.9 291.9,333.3 292.8,333.1 293.7,333.2 294.6,332.7 295.6,332.8 296.5,332.9 297.4,332.8 298.3,332.3 299.2,332.3 300.1,332.5 301.1,332 302,332.4 302.9,331.9 303.8,331.9 304.7,331.6 305.7,331.5 306.6,331.5 307.5,331.3 308.4,331.4 309.3,331.1 310.3,331.2 311.2,331 312.1,330.9 313,330.9 313.9,330.6 314.9,330.6 315.8,330.7 316.7,330.4 317.6,330.4 318.5,330.2 319.4,330.4 320.4,330 321.3,330 322.2,329.7 323.1,329.9 324,329.9 325,329.6 325.9,329.4 326.8,329.2 327.7,329.2 328.6,328.9 329.6,329.2 330.5,329.1 331.4,328.9 332.3,328.6 333.2,328.5 334.2,328.7 335.1,328.4 336,328.4 336.9,328.2 337.8,328.3 338.7,328.2 339.7,327.8 340.6,327.9 341.5,327.4 342.4,327.6 343.3,327.5 344.3,327.5 345.2,327.2 346.1,327.2 347,327.2 347.9,326.7 348.9,326.8 349.8,326.6 350.7,326.5 351.6,326.4 352.5,326.6 353.5,326.1 354.4,326.2 355.3,326.3 356.2,326 357.1,325.9 357.5,320.6 357.9,325.8 359.4,325.7 359.8,297.7 360.2,325.6 361.3,325.7 362.5,325.4 363.6,325.2" fill="none" stroke="#ff00ff" stroke-width="1.305" stroke-opacity="0.6" stroke-linejoin="round" stroke-linecap="butt"/>
<polyline points="292.3,337.2 293.8,337.1 294.4,333.8 295,336.5 295.9,336.5 296.8,336.5 297.7,336.2 298.7,335.9 299.6,335.8 300.5,335.6 301.4,335.6 302.3,335.6 303.3,335.5 304.2,335.2 305.1,335.5 306,335.2 306.9,335.1 307.9,335.2 308.8,334.7 309.7,334.7 310.6,334.7 311.5,334.4 312.5,334.5 313.4,334.2 314.3,334.2 315.2,334 316.1,334 317.1,334.1 318,333.7 318.9,333.9 319.8,333.6 320.7,333.3 321.7,333.3 322.6,333.5 323.5,333 324.4,332.9 325.3,333 326.3,333 327.2,332.8 328.1,332.7 329,332.8 329.9,332.3 330.9,332.3 331.8,332.3 332.7,332 333.6,332.2 334.5,331.8 335.5,331.7 336.4,331.7 337.3,331.8 338.2,331.6 339.1,331.6 340.1,331.3 341,331.4 341.9,331.1 342.8,331 343.7,331 344.7,330.8 345.6,330.7 346.5,330.4 347.4,330.5 348.3,330.3 349.3,330.2 350.2,330.3 351.1,330 352,330.1 352.9,329.9 353.9,329.7 354.8,329.4 355.7,329.3 356.6,329.5 357.5,329.2 358.5,329.3 359.4,329.2 360.3,329 361.2,329 362.1,328.6 363.1,328.5 364,328.8 364.9,328.2 365.8,328.2 366.7,328.5 367.7,328.2 368,324.3 368.4,328.1 370,327.9 370.3,324.1 370.7,327.8 371.7,327.6 372.6,327.6 373.6,327.7 374.5,327.4" fill="none" stroke="#00ffff" stroke-width="1.305" stroke-opacity="0.6" stroke-linejoin="round" stroke-linecap="butt"/>
<polyline points="298,338.3 299.5,338.2 299.9,332.6 300.3,337.6 301.2,337.4 302.1,337.6 303,337.3 303.9,337.2 304.9,336.9 305.8,337 306.7,337 307.6,336.8 308.6,336.6 309.5,336.6 310.4,336.6 311.3,336.2 312.2,336.4 313.2,336.3 314.1,336.1 315,335.7 315.9,336 316.9,335.6 317.8,335.5 318.7,335.6 319.6,335.2 320.6,335.4 321.5,335.4 322.4,335.3 323.3,334.9 324.2,335.1 325.2,334.7 326.1,334.6 327,334.7 327.9,334.2 328.9,334.5 329.8,334.3 330.7,334 331.6,334.1 332.5,333.8 333.5,333.7 334.4,333.6 335.3,333.7 336.2,333.6 337.2,333.4 338.1,333.2 339,333.4 339.9,333.3 340.9,333.1 341.8,333.1 342.7,332.6 343.6,332.4 344.5,332.5 345.5,332.5 346.4,332.4 347.3,332 348.2,332 349.2,332 350.1,331.8 351,331.6 351.9,331.6 352.8,331.7 353.8,331.3 354.7,331.6 355.6,331.5 356.5,331.3 357.5,331.1 358.4,330.9 359.3,330.7 360.2,330.9 361.2,330.5 362.1,330.3 363,330.3 363.9,330.2 364.8,330.2 365.8,330.1 366.7,330.2 367.6,330 368.5,329.9 369.5,329.8 370.4,329.8 371.3,329.3 372.2,329.4 373.2,329.5 374.1,329.2 374.5,325.3 374.8,329.1 375.9,329.2 376.9,328.9 377.9,329 378.9,328.6 379.9,328.6 381,328.4" fill="none" stroke="#0000ff" stroke-width="1.305" stroke-opacity="0.6" stroke-linejoin="round" stroke-linecap="butt"/>
<polyline points="309.3,340.5 310.3,340.3 311.4,340.3 311.8,331.2 312.2,339.7 313.1,339.7 314,339.5 314.9,339.2 315.8,339.3 316.8,339 317.7,339 318.6,338.8 319.5,338.7 320.4,338.7 321.4,338.7 322.3,338.4 323.2,338.6 324.1,338.4 325,338.1 326,337.9 326.9,338.2 327.8,337.7 328.7,337.8 329.7,337.8 330.6,337.4 331.5,337.4 332.4,337.5 333.3,337 334.3,337.4 335.2,336.9 336.1,336.8 337,336.7 337.9,336.7 338.9,336.7 339.8,336.7 340.7,336.3 341.6,336.3 342.5,336.4 343.5,336 344.4,335.9 345.3,335.7 346.2,335.8 347.1,335.6 348.1,335.5 349,335.3 349.9,335.5 350.8,335.4 351.8,335 352.7,335.1 353.6,335.2 354.5,334.7 355.4,334.6 356.4,334.4 357.3,334.3 358.2,334.6 359.1,334.1 360,334.3 361,334.3 361.9,334.1 362.8,333.9 363.2,332.5 363.6,333.8 364.5,333.9 365.5,333.8 366.4,333.6 367.4,333.3 368.3,333.5 369.3,333 370.3,333.3 371.2,333.1 372.2,333 373.1,332.9 374.1,332.9 375,332.5 376,332.6 377,332.5 377.9,332.4 378.9,331.9 379.8,332.1 380.8,331.9 381.7,331.6 382.7,331.8 383.6,331.6 384.6,331.4 385,324.7 385.4,331.4 386.7,331 388,331.1 388.4,329.2 388.8,331 389.8,330.8 390.9,330.9 391.9,330.6" fill="none" stroke="#00ff00" stroke-width="1.305" stroke-opacity="0.6" stroke-linejoin="round" stroke-linecap="butt"/>
<polyline points="314.9,341.6 316.7,341.4 317.1,333.4 317.5,341 397.1,332.2" fill="none" stroke="#ff0000" stroke-width="1.305" stroke-opacity="0.6" stroke-linejoin="round" stroke-linecap="butt"/>
<polygon points="353.9,337 353.9,333.6 354.8,333.1 355.8,333.4 356.7,333.7 357.7,333.7 358.6,332.6 359.5,333.2 360.5,333.4 361.4,333.1 362.3,332.6 362.3,336" fill="#ff0000" fill-opacity="0.85"/>
<text x="240.1" y="301" font-size="7.9" text-anchor="middle" fill="#3a3a3a" class="s" textLength="2.6" lengthAdjust="spacingAndGlyphs">5</text>
<text x="240.1" y="330.4" font-size="7.9" text-anchor="middle" fill="#3a3a3a" class="s" textLength="2.6" lengthAdjust="spacingAndGlyphs">0</text>
<text x="239.7" y="336.5" font-size="7.9" text-anchor="middle" fill="#3a3a3a" class="s" textLength="4.8" lengthAdjust="spacingAndGlyphs">30</text>
<text x="253" y="339.2" font-size="7.9" text-anchor="middle" fill="#3a3a3a" class="s" textLength="4.8" lengthAdjust="spacingAndGlyphs">25</text>
<text x="267.1" y="341.9" font-size="7.9" text-anchor="middle" fill="#3a3a3a" class="s" textLength="4.8" lengthAdjust="spacingAndGlyphs">20</text>
<text x="281.3" y="344.7" font-size="7.9" text-anchor="middle" fill="#3a3a3a" class="s" textLength="4.8" lengthAdjust="spacingAndGlyphs">15</text>
<text x="295.4" y="347.4" font-size="7.9" text-anchor="middle" fill="#3a3a3a" class="s" textLength="4.8" lengthAdjust="spacingAndGlyphs">10</text>
<text x="310" y="350.1" font-size="7.9" text-anchor="middle" fill="#3a3a3a" class="s" textLength="2.5" lengthAdjust="spacingAndGlyphs">5</text>
<text x="318.8" y="350.2" font-size="7.9" text-anchor="middle" fill="#3a3a3a" class="s" textLength="2.5" lengthAdjust="spacingAndGlyphs">0</text>
<text x="335.7" y="348.5" font-size="7.9" text-anchor="middle" fill="#3a3a3a" class="s" textLength="6" lengthAdjust="spacingAndGlyphs">0.2</text>
<text x="351" y="346.8" font-size="7.9" text-anchor="middle" fill="#3a3a3a" class="s" textLength="6" lengthAdjust="spacingAndGlyphs">0.4</text>
<text x="366.3" y="345.1" font-size="7.9" text-anchor="middle" fill="#3a3a3a" class="s" textLength="6" lengthAdjust="spacingAndGlyphs">0.6</text>
<text x="381.6" y="343.4" font-size="7.9" text-anchor="middle" fill="#3a3a3a" class="s" textLength="6" lengthAdjust="spacingAndGlyphs">0.8</text>
<text x="395.3" y="341.7" font-size="7.9" text-anchor="middle" fill="#3a3a3a" class="s" textLength="2.5" lengthAdjust="spacingAndGlyphs">1</text>
<text x="412.2" y="340" font-size="7.9" text-anchor="middle" fill="#3a3a3a" class="s" textLength="6" lengthAdjust="spacingAndGlyphs">1.2</text>
<text x="325.1" y="285.4" font-size="10.9" text-anchor="middle" fill="#111" font-weight="bold" stroke="#111" stroke-width="0.5" textLength="16.1" lengthAdjust="spacingAndGlyphs">GWO</text>
<text x="265.6" y="362" font-size="10" text-anchor="middle" fill="#262626" font-weight="bold" stroke="#262626" stroke-width="0.3" textLength="37.8" lengthAdjust="spacingAndGlyphs">Harmonic Level</text>
<text x="363.1" y="362.2" font-size="10" text-anchor="middle" fill="#262626" font-weight="bold" stroke="#262626" stroke-width="0.3" textLength="23.9" lengthAdjust="spacingAndGlyphs">Time (sec)</text>
<text transform="translate(231.1,313.5) scale(0.55,1) rotate(-90)" x="0" y="0" font-size="9.8" text-anchor="middle" fill="#262626" font-weight="bold" stroke="#262626" stroke-width="0.5" textLength="45.8" lengthAdjust="spacingAndGlyphs">Harmonics</text>
<text transform="translate(237.2,313.5) scale(0.55,1) rotate(-90)" x="0" y="0" font-size="9.8" text-anchor="middle" fill="#262626" font-weight="bold" stroke="#262626" stroke-width="0.5" textLength="64.8" lengthAdjust="spacingAndGlyphs">Magnitude (%)</text>
<polyline points="45.9,417.4 45.9,387.8" fill="none" stroke="#e4e4e4" stroke-width="0.6" stroke-linejoin="round" stroke-linecap="butt"/>
<polyline points="61.2,415.7 61.2,386.1" fill="none" stroke="#e4e4e4" stroke-width="0.6" stroke-linejoin="round" stroke-linecap="butt"/>
<polyline points="76.5,414 76.5,384.4" fill="none" stroke="#e4e4e4" stroke-width="0.6" stroke-linejoin="round" stroke-linecap="butt"/>
<polyline points="91.8,412.3 91.8,382.7" fill="none" stroke="#e4e4e4" stroke-width="0.6" stroke-linejoin="round" stroke-linecap="butt"/>
<polyline points="107.1,410.6 107.1,381" fill="none" stroke="#e4e4e4" stroke-width="0.6" stroke-linejoin="round" stroke-linecap="butt"/>
<polyline points="122.4,408.9 122.4,379.3" fill="none" stroke="#e4e4e4" stroke-width="0.6" stroke-linejoin="round" stroke-linecap="butt"/>
<polyline points="30.6,389.5 122.4,379.3" fill="none" stroke="#e4e4e4" stroke-width="0.6" stroke-linejoin="round" stroke-linecap="butt"/>
<polyline points="193,422.5 193,392.9" fill="none" stroke="#e4e4e4" stroke-width="0.6" stroke-linejoin="round" stroke-linecap="butt"/>
<polyline points="178.9,419.8 178.9,390.2" fill="none" stroke="#e4e4e4" stroke-width="0.6" stroke-linejoin="round" stroke-linecap="butt"/>
<polyline points="164.8,417.1 164.8,387.5" fill="none" stroke="#e4e4e4" stroke-width="0.6" stroke-linejoin="round" stroke-linecap="butt"/>
<polyline points="150.6,414.3 150.6,384.7" fill="none" stroke="#e4e4e4" stroke-width="0.6" stroke-linejoin="round" stroke-linecap="butt"/>
<polyline points="136.5,411.6 136.5,382" fill="none" stroke="#e4e4e4" stroke-width="0.6" stroke-linejoin="round" stroke-linecap="butt"/>
<polyline points="193,392.9 122.4,379.3" fill="none" stroke="#e4e4e4" stroke-width="0.6" stroke-linejoin="round" stroke-linecap="butt"/>
<polyline points="116.5,431 45.9,417.4" fill="none" stroke="#e4e4e4" stroke-width="0.5" stroke-linejoin="round" stroke-linecap="butt"/>
<polyline points="131.8,429.3 61.2,415.7" fill="none" stroke="#e4e4e4" stroke-width="0.5" stroke-linejoin="round" stroke-linecap="butt"/>
<polyline points="147.1,427.6 76.5,414" fill="none" stroke="#e4e4e4" stroke-width="0.5" stroke-linejoin="round" stroke-linecap="butt"/>
<polyline points="162.4,425.9 91.8,412.3" fill="none" stroke="#e4e4e4" stroke-width="0.5" stroke-linejoin="round" stroke-linecap="butt"/>
<polyline points="177.7,424.2 107.1,410.6" fill="none" stroke="#e4e4e4" stroke-width="0.5" stroke-linejoin="round" stroke-linecap="butt"/>
<polyline points="87.1,430 178.9,419.8" fill="none" stroke="#e4e4e4" stroke-width="0.5" stroke-linejoin="round" stroke-linecap="butt"/>
<polyline points="73,427.3 164.8,417.1" fill="none" stroke="#e4e4e4" stroke-width="0.5" stroke-linejoin="round" stroke-linecap="butt"/>
<polyline points="58.8,424.5 150.6,414.3" fill="none" stroke="#e4e4e4" stroke-width="0.5" stroke-linejoin="round" stroke-linecap="butt"/>
<polyline points="44.7,421.8 136.5,411.6" fill="none" stroke="#e4e4e4" stroke-width="0.5" stroke-linejoin="round" stroke-linecap="butt"/>
<polyline points="30.6,419.1 122.4,408.9" fill="none" stroke="#b0b0b0" stroke-width="0.6" stroke-linejoin="round" stroke-linecap="butt"/>
<polyline points="122.4,408.9 193,422.5" fill="none" stroke="#c8c8c8" stroke-width="0.6" stroke-linejoin="round" stroke-linecap="butt"/>
<polyline points="30.6,419.1 30.6,389.5" fill="none" stroke="#8a8a8a" stroke-width="0.7" stroke-linejoin="round" stroke-linecap="butt"/>
<polyline points="30.6,419.1 101.2,432.7" fill="none" stroke="#555555" stroke-width="0.9" stroke-linejoin="round" stroke-linecap="butt"/>
<polyline points="101.2,432.7 193,422.5" fill="none" stroke="#666666" stroke-width="0.8" stroke-linejoin="round" stroke-linecap="butt"/>
<polyline points="29.1,419.1 30.6,419.1" fill="none" stroke="#5a5a5a" stroke-width="0.6" stroke-linejoin="round" stroke-linecap="butt"/>
<polyline points="29.1,389.5 30.6,389.5" fill="none" stroke="#5a5a5a" stroke-width="0.6" stroke-linejoin="round" stroke-linecap="butt"/>
<polyline points="33.4,419.6 34.6,419.5 35.3,415.9 36.1,419 37.1,418.5 38.1,418.5 39.2,418.5 40.2,418.7 41.2,418.5 42.2,418.3 42.6,409.6 43,418 43.9,417.7 44.8,417.5 45.8,418 46.7,417.8 47.6,417.1 48.5,417.6 49.5,417.1 50.4,417.2 51.3,416.9 52.2,416.6 53.2,416.7 54.1,416.7 55,416.7 55.9,416.3 56.9,416.2 57.8,416.3 58.7,416.1 59.6,415.9 60.6,416 61.5,416 62.4,415.6 63.3,415.8 64.3,415.3 65.2,415 66.1,414.9 67,415.3 68,415 68.9,414.5 69.8,414.8 70.7,414.2 71.7,414.5 72.6,414.6 73.5,414 74.5,414.6 75.4,413.9 76.3,413.7 77.3,413.8 78.2,413.7 79.1,413.3 80.1,413.2 81,413.7 81.9,413.3 82.9,413.6 83.8,413.2 84.7,413.3 85.7,413.2 86.6,412.7 87.5,413.1 88.5,412.9 89.4,412.9 90.3,412.2 91.3,412.5 92.2,412.6 93.1,412 94.1,411.8 95,411.8 95.9,411.8 96.9,411.7 97.8,411.4 98.7,411.6 99.7,411.1 100.6,411.1 101.5,410.9 102.5,410.8 103.4,410.7 104.3,410.9 105.3,410.7 106.2,410.5 107.1,410.5 108.1,410.8 109,410 109.9,410.2 110.3,408.1 110.7,410.2 111.7,410.3 112.7,409.9 113.7,409.9 114.8,410 115.8,409.5 116.8,409.5" fill="none" stroke="#0000ff" stroke-width="1.16" stroke-dasharray="2.2,1.2,0.8,1.2" stroke-opacity="0.6" stroke-linejoin="round" stroke-linecap="butt"/>
<polyline points="44.7,421.8 45.9,421.7 46.6,418.1 47.4,421 48.3,420.9 49.3,420.6 50.2,420.6 51.1,420.7 52.1,420.4 53,420.1 54,420.2 54.9,419.9 55.8,420.3 56.8,419.8 57.7,420 58.6,419.9 59.6,419.7 60.5,419.7 61.4,419.6 62.4,419.4 63.3,419.3 64.2,419.2 65.2,418.8 66.1,419.1 67.1,418.9 68,418.9 68.9,418.5 69.9,418.6 70.8,418.3 71.7,418.3 72.7,418.3 73.6,418 74.5,418.1 75.5,417.5 76.4,417.6 77.4,417.6 78.3,417.4 79.2,417 80.2,417.2 81.1,417.2 82,417.1 83,416.9 83.9,416.8 84.8,416.5 85.7,416.5 86.6,416.6 87.6,416.1 88.5,416.5 89.4,416.2 90.3,415.9 91.2,415.7 92.2,415.9 93.1,416 94,415.6 94.9,415.6 95.8,415.7 96.7,415.4 97.7,415 98.6,415.4 99.5,415.2 100.4,415.1 101.3,414.7 102.2,414.8 103.2,414.5 104.1,414.4 105,414.7 105.9,414.4 106.8,414.4 107.8,413.9 108.7,414 109.6,414 110.5,413.6 111.4,413.5 112.3,413.9 113.3,413.7 114.2,413.5 115.1,413.4 116,413.2 116.9,413.1 117.9,412.7 118.8,412.8 119.7,412.8 120.5,409.9 121.2,412.6 122.4,410.8 123.5,409.6 124.3,412.3 125.4,410.7 126.6,409.2 127.3,411.9 128.9,411.8" fill="none" stroke="#ff0000" stroke-width="1.16" stroke-dasharray="2.2,1.2,0.8,1.2" stroke-opacity="0.6" stroke-linejoin="round" stroke-linecap="butt"/>
<polyline points="50.4,422.9 51.5,422.8 52.3,419.2 53,422.2 54,422.2 54.9,422 55.8,422.1 56.7,421.7 57.7,421.9 58.6,421.4 59.5,421.6 60.4,421.2 61.4,421.4 62.3,421.3 63.2,421.2 64.1,420.8 65,420.7 66,420.6 66.9,420.6 67.8,420.7 68.7,420.6 69.7,420.6 70.6,420 71.5,420.3 72.4,419.9 73.3,420.1 74.3,419.9 75.2,419.6 76.1,419.7 77,419.7 78,419.2 78.9,419.4 79.8,419.4 80.7,419 81.7,418.7 82.6,418.8 83.5,419 84.4,418.7 85.3,418.5 86.3,418.6 87.2,418.4 88.1,418.1 89,418 90,417.8 90.9,417.7 91.8,417.8 92.7,417.5 93.6,417.8 94.6,417.5 95.5,417.3 96.4,417.1 97.3,417.2 98.3,417.1 99.2,416.8 100.1,416.9 101,417 102,416.7 102.9,416.7 103.8,416.4 104.7,416.2 105.6,416.5 106.6,416.2 107.5,415.8 108.4,415.8 109.3,415.7 110.3,415.8 111.2,415.4 112.1,415.3 113,415.2 113.9,415.3 114.9,415.1 115.8,415.3 116.7,415.2 117.6,415.1 118.6,415 119.5,414.6 120.4,414.3 121.3,414.4 122.3,414.2 123.2,414.1 124.1,413.9 125,414.1 125.9,413.9 126.9,413.8 127.3,411.4 127.6,413.7 128.7,413.4 129.8,413.6 130.8,413.3 131.9,413.3 133,413.1" fill="none" stroke="#000000" stroke-width="1.16" stroke-opacity="0.6" stroke-linejoin="round" stroke-linecap="butt"/>
<polyline points="61.7,425.1 62.8,425 63.6,422.9 64.3,424.3 65.3,424.4 66.3,424.2 67.2,424 68.2,424.1 69.1,423.6 70.1,423.7 71,423.7 72,423.4 72.4,419.4 72.8,423.3 73.7,423 74.6,423.3 75.5,422.8 76.4,422.9 77.3,422.9 78.3,422.7 79.2,422.3 80.1,422.7 81,422.4 81.9,422.4 82.9,422.1 83.8,422.2 84.7,421.7 85.6,421.9 86.5,421.5 87.4,421.8 88.4,421.6 89.3,421.6 90.2,421.5 91.1,421.3 92,421 93,421 93.9,420.8 94.8,420.9 95.7,420.6 96.6,420.3 97.5,420.5 98.5,420.5 99.4,420.4 100.3,419.9 101.2,420 102.1,419.9 103.1,419.8 104,419.9 104.9,419.8 105.8,419.4 106.7,419.5 107.6,419.3 108.6,419 109.5,419.3 110.4,419 111.3,418.8 112.2,418.7 113.1,418.5 114.1,418.4 115,418.5 115.9,418.5 116.8,418.3 117.7,418 118.7,418.2 119.6,418.1 120.5,418 121.4,417.6 122.3,417.9 123.2,417.7 124.2,417.4 125.1,417.2 126,417.3 126.9,417 127.8,416.9 128.8,417 129.7,417.1 130.6,416.6 131.5,416.6 132.4,416.3 133.3,416.3 134.3,416.5 135.2,416.4 136.1,416.2 137,416 137.4,411.7 137.8,415.9 138.9,415.7 140.1,415.7 140.5,385.5 140.8,415.6 142,415.6 143.1,415.5 144.3,415.2" fill="none" stroke="#ffff00" stroke-width="1.305" stroke-opacity="0.6" stroke-linejoin="round" stroke-linecap="butt"/>
<polyline points="67.3,426.2 68.5,426 69.2,424 70,425.4 70.9,425.4 71.8,425.3 72.8,425.1 73.7,424.9 74.6,424.7 75.6,425 76.5,424.6 77.4,424.6 77.8,419 78.2,424.4 79.1,424 80,424.2 80.9,424.2 81.9,423.9 82.8,423.7 83.7,424 84.6,423.8 85.5,423.6 86.4,423.5 87.4,423.5 88.3,423.4 89.2,423.2 90.1,422.8 91,422.9 92,422.9 92.9,422.5 93.8,422.7 94.7,422.7 95.6,422.6 96.6,422.5 97.5,422 98.4,422.1 99.3,421.7 100.2,421.9 101.2,422 102.1,421.7 103,421.6 103.9,421.6 104.8,421.6 105.7,421.2 106.7,421 107.6,420.8 108.5,421.1 109.4,420.8 110.3,420.9 111.3,420.5 112.2,420.3 113.1,420.7 114,420.5 114.9,420 115.9,419.9 116.8,419.8 117.7,420.1 118.6,419.8 119.5,419.6 120.5,419.6 121.4,419.5 122.3,419.3 123.2,419.5 124.1,419.2 125,418.8 126,419 126.9,418.9 127.8,419 128.7,418.5 129.6,418.5 130.6,418.2 131.5,418.1 132.4,418.2 133.3,418 134.2,417.9 135.2,417.8 136.1,417.9 137,417.7 137.9,417.5 138.8,417.6 139.8,417.3 140.7,417.3 141.6,417.3 142.5,417.2 143.4,417 143.8,411.7 144.2,416.9 145.7,416.8 146.1,387.7 146.5,416.7 147.6,416.3 148.8,416.6 149.9,416.3" fill="none" stroke="#ff00ff" stroke-width="1.305" stroke-opacity="0.6" stroke-linejoin="round" stroke-linecap="butt"/>
<polyline points="78.6,428.3 80.1,428.2 80.7,424.9 81.3,427.6 82.2,427.7 83.1,427.3 84,427.4 85,427 85.9,426.8 86.8,427 87.7,426.9 88.6,426.6 89.6,426.4 90.5,426.4 91.4,426.2 92.3,426.4 93.2,426.2 94.2,426 95.1,425.9 96,425.9 96.9,425.8 97.8,425.5 98.8,425.5 99.7,425.4 100.6,425.5 101.5,425.3 102.4,425.3 103.4,425.2 104.3,425.1 105.2,425 106.1,424.7 107,424.6 108,424.3 108.9,424.4 109.8,424.4 110.7,424.3 111.6,423.9 112.6,424.2 113.5,424.1 114.4,423.8 115.3,423.9 116.2,423.6 117.2,423.6 118.1,423.3 119,423.1 119.9,423.2 120.8,422.9 121.8,423.2 122.7,423 123.6,422.9 124.5,422.5 125.4,422.6 126.4,422.4 127.3,422.1 128.2,422.2 129.1,422.2 130,422 131,421.8 131.9,421.7 132.8,421.7 133.7,421.8 134.6,421.2 135.6,421.3 136.5,421.1 137.4,421 138.3,421.2 139.2,421 140.2,420.8 141.1,420.9 142,420.5 142.9,420.5 143.8,420.4 144.8,420.1 145.7,420.3 146.6,420.2 147.5,420 148.4,420.1 149.4,419.9 150.3,419.8 151.2,419.4 152.1,419.4 153,419.2 154,419.3 154.3,415.4 154.7,419.2 156.3,419 156.6,415.2 157,418.9 158,418.8 158.9,418.8 159.9,418.7 160.8,418.5" fill="none" stroke="#00ffff" stroke-width="1.305" stroke-opacity="0.6" stroke-linejoin="round" stroke-linecap="butt"/>
<polyline points="84.3,429.4 85.8,429.3 86.2,423.7 86.6,428.7 87.5,428.4 88.4,428.4 89.3,428.3 90.2,428.3 91.2,428 92.1,428.2 93,427.8 93.9,427.7 94.9,427.6 95.8,427.4 96.7,427.5 97.6,427.4 98.5,427.4 99.5,427.1 100.4,426.9 101.3,426.9 102.2,427 103.2,426.6 104.1,426.9 105,426.5 105.9,426.6 106.9,426.5 107.8,426.2 108.7,426.3 109.6,425.9 110.5,425.9 111.5,425.7 112.4,425.8 113.3,425.5 114.2,425.4 115.2,425.4 116.1,425.2 117,425.3 117.9,425.1 118.8,425.1 119.8,425.1 120.7,424.7 121.6,424.5 122.5,424.6 123.5,424.6 124.4,424.3 125.3,424.4 126.2,424.1 127.2,423.9 128.1,424.1 129,424 129.9,423.8 130.8,423.6 131.8,423.4 132.7,423.2 133.6,423.3 134.5,423 135.5,423.3 136.4,423.1 137.3,422.7 138.2,422.7 139.1,422.7 140.1,422.8 141,422.6 141.9,422.4 142.8,422.5 143.8,422.1 144.7,421.9 145.6,422 146.5,421.9 147.5,421.9 148.4,421.7 149.3,421.5 150.2,421.5 151.1,421.6 152.1,421.4 153,420.9 153.9,420.9 154.8,421.1 155.8,420.8 156.7,420.6 157.6,420.7 158.5,420.4 159.5,420.1 160.4,420.3 160.8,416.4 161.1,420.2 162.2,420.1 163.2,420 164.2,420 165.2,419.6 166.2,419.6 167.3,419.5" fill="none" stroke="#0000ff" stroke-width="1.305" stroke-opacity="0.6" stroke-linejoin="round" stroke-linecap="butt"/>
<polyline points="95.6,431.6 96.6,431.5 97.7,431.4 98.1,422.3 98.5,430.8 99.4,430.8 100.3,430.5 101.2,430.4 102.1,430.2 103.1,430.1 104,430.4 104.9,430.2 105.8,430 106.7,430 107.7,429.9 108.6,429.8 109.5,429.3 110.4,429.6 111.3,429.2 112.3,429.2 113.2,429 114.1,429 115,429 116,428.8 116.9,428.5 117.8,428.4 118.7,428.4 119.6,428.4 120.6,428.1 121.5,428.3 122.4,428.1 123.3,428 124.2,427.9 125.2,427.6 126.1,427.8 127,427.6 127.9,427.4 128.8,427.4 129.8,427 130.7,427.1 131.6,427.2 132.5,427 133.4,426.9 134.4,426.7 135.3,426.8 136.2,426.2 137.1,426.4 138.1,426.1 139,426.1 139.9,426 140.8,426 141.7,425.6 142.7,425.9 143.6,425.6 144.5,425.6 145.4,425.5 146.3,425.5 147.3,424.9 148.2,425.2 149.1,425 149.5,423.6 149.9,424.9 150.8,424.7 151.8,424.5 152.7,424.4 153.7,424.5 154.6,424.4 155.6,424.1 156.6,424.1 157.5,424.2 158.5,424 159.4,423.6 160.4,423.8 161.3,423.6 162.3,423.4 163.3,423.2 164.2,423.2 165.2,423 166.1,422.8 167.1,423 168,422.9 169,422.8 169.9,422.5 170.9,422.5 171.3,415.8 171.7,422.5 173,422.5 174.3,422.2 174.7,420.3 175.1,422.1 176.1,421.8 177.2,422 178.2,421.7" fill="none" stroke="#00ff00" stroke-width="1.305" stroke-opacity="0.6" stroke-linejoin="round" stroke-linecap="butt"/>
<polyline points="101.2,432.7 103,432.5 103.4,424.5 103.8,432.1 183.4,423.3" fill="none" stroke="#ff0000" stroke-width="1.305" stroke-opacity="0.6" stroke-linejoin="round" stroke-linecap="butt"/>
<polygon points="140,428.1 140,425.1 140.9,424.2 141.9,424.7 142.9,423.9 143.8,424.6 144.8,424.4 145.7,424 146.7,423.6 147.7,423.7 148.6,423 148.6,427.1" fill="#ff0000" fill-opacity="0.85"/>
<text x="26.4" y="391.9" font-size="7.9" text-anchor="middle" fill="#3a3a3a" class="s" textLength="2.6" lengthAdjust="spacingAndGlyphs">5</text>
<text x="26.4" y="421.5" font-size="7.9" text-anchor="middle" fill="#3a3a3a" class="s" textLength="2.6" lengthAdjust="spacingAndGlyphs">0</text>
<text x="26" y="427.6" font-size="7.9" text-anchor="middle" fill="#3a3a3a" class="s" textLength="4.8" lengthAdjust="spacingAndGlyphs">30</text>
<text x="39.3" y="430.3" font-size="7.9" text-anchor="middle" fill="#3a3a3a" class="s" textLength="4.8" lengthAdjust="spacingAndGlyphs">25</text>
<text x="53.4" y="433" font-size="7.9" text-anchor="middle" fill="#3a3a3a" class="s" textLength="4.8" lengthAdjust="spacingAndGlyphs">20</text>
<text x="67.6" y="435.8" font-size="7.9" text-anchor="middle" fill="#3a3a3a" class="s" textLength="4.8" lengthAdjust="spacingAndGlyphs">15</text>
<text x="81.7" y="438.5" font-size="7.9" text-anchor="middle" fill="#3a3a3a" class="s" textLength="4.8" lengthAdjust="spacingAndGlyphs">10</text>
<text x="96.3" y="441.2" font-size="7.9" text-anchor="middle" fill="#3a3a3a" class="s" textLength="2.5" lengthAdjust="spacingAndGlyphs">5</text>
<text x="105.1" y="441.3" font-size="7.9" text-anchor="middle" fill="#3a3a3a" class="s" textLength="2.5" lengthAdjust="spacingAndGlyphs">0</text>
<text x="122" y="439.6" font-size="7.9" text-anchor="middle" fill="#3a3a3a" class="s" textLength="6" lengthAdjust="spacingAndGlyphs">0.2</text>
<text x="137.3" y="437.9" font-size="7.9" text-anchor="middle" fill="#3a3a3a" class="s" textLength="6" lengthAdjust="spacingAndGlyphs">0.4</text>
<text x="152.6" y="436.2" font-size="7.9" text-anchor="middle" fill="#3a3a3a" class="s" textLength="6" lengthAdjust="spacingAndGlyphs">0.6</text>
<text x="167.9" y="434.5" font-size="7.9" text-anchor="middle" fill="#3a3a3a" class="s" textLength="6" lengthAdjust="spacingAndGlyphs">0.8</text>
<text x="181.6" y="432.8" font-size="7.9" text-anchor="middle" fill="#3a3a3a" class="s" textLength="2.5" lengthAdjust="spacingAndGlyphs">1</text>
<text x="198.5" y="431.1" font-size="7.9" text-anchor="middle" fill="#3a3a3a" class="s" textLength="6" lengthAdjust="spacingAndGlyphs">1.2</text>
<text x="111.8" y="375.5" font-size="10.9" text-anchor="middle" fill="#111" font-weight="bold" stroke="#111" stroke-width="0.5" textLength="10.5" lengthAdjust="spacingAndGlyphs">BBO</text>
<text x="51.9" y="453.1" font-size="10" text-anchor="middle" fill="#262626" font-weight="bold" stroke="#262626" stroke-width="0.3" textLength="37.8" lengthAdjust="spacingAndGlyphs">Harmonic Level</text>
<text x="149.4" y="453.3" font-size="10" text-anchor="middle" fill="#262626" font-weight="bold" stroke="#262626" stroke-width="0.3" textLength="23.9" lengthAdjust="spacingAndGlyphs">Time (sec)</text>
<text transform="translate(16.6,404.6) scale(0.55,1) rotate(-90)" x="0" y="0" font-size="9.8" text-anchor="middle" fill="#262626" font-weight="bold" stroke="#262626" stroke-width="0.5" textLength="45.8" lengthAdjust="spacingAndGlyphs">Harmonics</text>
<text transform="translate(22.7,404.6) scale(0.55,1) rotate(-90)" x="0" y="0" font-size="9.8" text-anchor="middle" fill="#262626" font-weight="bold" stroke="#262626" stroke-width="0.5" textLength="64.8" lengthAdjust="spacingAndGlyphs">Magnitude (%)</text>
<polyline points="259.6,417.4 259.6,387.8" fill="none" stroke="#e4e4e4" stroke-width="0.6" stroke-linejoin="round" stroke-linecap="butt"/>
<polyline points="274.9,415.7 274.9,386.1" fill="none" stroke="#e4e4e4" stroke-width="0.6" stroke-linejoin="round" stroke-linecap="butt"/>
<polyline points="290.2,414 290.2,384.4" fill="none" stroke="#e4e4e4" stroke-width="0.6" stroke-linejoin="round" stroke-linecap="butt"/>
<polyline points="305.5,412.3 305.5,382.7" fill="none" stroke="#e4e4e4" stroke-width="0.6" stroke-linejoin="round" stroke-linecap="butt"/>
<polyline points="320.8,410.6 320.8,381" fill="none" stroke="#e4e4e4" stroke-width="0.6" stroke-linejoin="round" stroke-linecap="butt"/>
<polyline points="336.1,408.9 336.1,379.3" fill="none" stroke="#e4e4e4" stroke-width="0.6" stroke-linejoin="round" stroke-linecap="butt"/>
<polyline points="244.3,389.5 336.1,379.3" fill="none" stroke="#e4e4e4" stroke-width="0.6" stroke-linejoin="round" stroke-linecap="butt"/>
<polyline points="406.7,422.5 406.7,392.9" fill="none" stroke="#e4e4e4" stroke-width="0.6" stroke-linejoin="round" stroke-linecap="butt"/>
<polyline points="392.6,419.8 392.6,390.2" fill="none" stroke="#e4e4e4" stroke-width="0.6" stroke-linejoin="round" stroke-linecap="butt"/>
<polyline points="378.5,417.1 378.5,387.5" fill="none" stroke="#e4e4e4" stroke-width="0.6" stroke-linejoin="round" stroke-linecap="butt"/>
<polyline points="364.3,414.3 364.3,384.7" fill="none" stroke="#e4e4e4" stroke-width="0.6" stroke-linejoin="round" stroke-linecap="butt"/>
<polyline points="350.2,411.6 350.2,382" fill="none" stroke="#e4e4e4" stroke-width="0.6" stroke-linejoin="round" stroke-linecap="butt"/>
<polyline points="406.7,392.9 336.1,379.3" fill="none" stroke="#e4e4e4" stroke-width="0.6" stroke-linejoin="round" stroke-linecap="butt"/>
<polyline points="330.2,431 259.6,417.4" fill="none" stroke="#e4e4e4" stroke-width="0.5" stroke-linejoin="round" stroke-linecap="butt"/>
<polyline points="345.5,429.3 274.9,415.7" fill="none" stroke="#e4e4e4" stroke-width="0.5" stroke-linejoin="round" stroke-linecap="butt"/>
<polyline points="360.8,427.6 290.2,414" fill="none" stroke="#e4e4e4" stroke-width="0.5" stroke-linejoin="round" stroke-linecap="butt"/>
<polyline points="376.1,425.9 305.5,412.3" fill="none" stroke="#e4e4e4" stroke-width="0.5" stroke-linejoin="round" stroke-linecap="butt"/>
<polyline points="391.4,424.2 320.8,410.6" fill="none" stroke="#e4e4e4" stroke-width="0.5" stroke-linejoin="round" stroke-linecap="butt"/>
<polyline points="300.8,430 392.6,419.8" fill="none" stroke="#e4e4e4" stroke-width="0.5" stroke-linejoin="round" stroke-linecap="butt"/>
<polyline points="286.7,427.3 378.5,417.1" fill="none" stroke="#e4e4e4" stroke-width="0.5" stroke-linejoin="round" stroke-linecap="butt"/>
<polyline points="272.5,424.5 364.3,414.3" fill="none" stroke="#e4e4e4" stroke-width="0.5" stroke-linejoin="round" stroke-linecap="butt"/>
<polyline points="258.4,421.8 350.2,411.6" fill="none" stroke="#e4e4e4" stroke-width="0.5" stroke-linejoin="round" stroke-linecap="butt"/>
<polyline points="244.3,419.1 336.1,408.9" fill="none" stroke="#b0b0b0" stroke-width="0.6" stroke-linejoin="round" stroke-linecap="butt"/>
<polyline points="336.1,408.9 406.7,422.5" fill="none" stroke="#c8c8c8" stroke-width="0.6" stroke-linejoin="round" stroke-linecap="butt"/>
<polyline points="244.3,419.1 244.3,389.5" fill="none" stroke="#8a8a8a" stroke-width="0.7" stroke-linejoin="round" stroke-linecap="butt"/>
<polyline points="244.3,419.1 314.9,432.7" fill="none" stroke="#555555" stroke-width="0.9" stroke-linejoin="round" stroke-linecap="butt"/>
<polyline points="314.9,432.7 406.7,422.5" fill="none" stroke="#666666" stroke-width="0.8" stroke-linejoin="round" stroke-linecap="butt"/>
<polyline points="242.8,419.1 244.3,419.1" fill="none" stroke="#5a5a5a" stroke-width="0.6" stroke-linejoin="round" stroke-linecap="butt"/>
<polyline points="242.8,389.5 244.3,389.5" fill="none" stroke="#5a5a5a" stroke-width="0.6" stroke-linejoin="round" stroke-linecap="butt"/>
<polyline points="247.1,419.6 248.3,419.5 249,415.9 249.8,419 250.8,418.6 251.8,418.9 252.9,418.4 253.9,418.2 254.9,418.5 255.9,418.3 256.3,409.6 256.7,418 257.6,417.7 258.5,417.9 259.5,417.9 260.4,417.7 261.3,417.2 262.2,417.6 263.2,417.1 264.1,417.2 265,417.2 265.9,416.9 266.9,416.8 267.8,416.7 268.7,416.2 269.6,416.1 270.6,416.5 271.5,415.8 272.4,416 273.3,415.6 274.3,415.6 275.2,415.7 276.1,415.8 277,415.2 278,415 278.9,415.2 279.8,415.5 280.7,414.8 281.7,414.7 282.6,414.5 283.5,414.3 284.4,414.2 285.4,414.5 286.3,414.2 287.2,414.4 288.2,414.2 289.1,414.1 290,413.8 291,413.8 291.9,413.5 292.8,413.7 293.8,413.5 294.7,413.1 295.6,413.1 296.6,412.9 297.5,413 298.4,413.3 299.4,413 300.3,413 301.2,412.9 302.2,412.9 303.1,412.8 304,412.4 305,412.1 305.9,411.9 306.8,411.7 307.8,411.9 308.7,412.3 309.6,412 310.6,412 311.5,411.3 312.4,411.6 313.4,411.2 314.3,411.3 315.2,411.1 316.2,410.8 317.1,410.8 318,411.2 319,410.7 319.9,410.8 320.8,410.2 321.8,410.6 322.7,410.6 323.6,410.2 324,408.1 324.4,410.2 325.4,409.7 326.4,410 327.4,410.2 328.5,409.5 329.5,409.3 330.5,409.5" fill="none" stroke="#0000ff" stroke-width="1.16" stroke-dasharray="2.2,1.2,0.8,1.2" stroke-opacity="0.6" stroke-linejoin="round" stroke-linecap="butt"/>
<polyline points="258.4,421.8 259.6,421.7 260.3,418.1 261.1,421 262,420.9 263,421 263.9,420.5 264.8,420.7 265.8,420.6 266.7,420.6 267.7,420 268.6,420.3 269.5,420.3 270.5,420 271.4,419.7 272.3,419.4 273.3,419.8 274.2,419.4 275.1,419.5 276.1,419.1 277,419.2 277.9,418.9 278.9,418.7 279.8,418.8 280.8,418.7 281.7,418.9 282.6,418.7 283.6,418.3 284.5,418.1 285.4,418.1 286.4,418.3 287.3,417.8 288.2,417.6 289.2,417.5 290.1,417.5 291.1,417.4 292,417.5 292.9,417.4 293.9,417.4 294.8,417 295.7,417.1 296.7,416.9 297.6,416.6 298.5,416.8 299.4,416.7 300.3,416.7 301.3,416.5 302.2,416.1 303.1,416 304,415.8 304.9,416.2 305.8,415.7 306.8,415.7 307.7,415.7 308.6,415.3 309.5,415.3 310.4,415.5 311.4,415 312.3,415.2 313.2,415.1 314.1,414.9 315,414.8 315.9,415 316.9,414.4 317.8,414.6 318.7,414.5 319.6,414.5 320.5,414.2 321.5,414.4 322.4,414.3 323.3,414.1 324.2,413.6 325.1,413.6 326,413.5 327,413.7 327.9,413.4 328.8,413.2 329.7,413.1 330.6,413.1 331.6,413.2 332.5,413 333.4,412.8 334.2,409.9 334.9,412.6 336.1,410.8 337.2,409.6 338,412.3 339.1,410.5 340.3,409.2 341,411.9 342.6,411.8" fill="none" stroke="#ff0000" stroke-width="1.16" stroke-dasharray="2.2,1.2,0.8,1.2" stroke-opacity="0.6" stroke-linejoin="round" stroke-linecap="butt"/>
<polyline points="264.1,422.9 265.2,422.8 266,419.2 266.7,422.2 267.7,422 268.6,422.1 269.5,421.8 270.4,421.8 271.4,421.7 272.3,421.4 273.2,421.4 274.1,421.6 275.1,421.1 276,421.1 276.9,421.3 277.8,420.9 278.7,420.6 279.7,420.7 280.6,420.5 281.5,420.5 282.4,420.5 283.4,420.1 284.3,420.3 285.2,420.1 286.1,420.2 287,419.9 288,419.7 288.9,419.6 289.8,419.3 290.7,419.6 291.7,419.5 292.6,419.3 293.5,419.2 294.4,418.9 295.4,419.1 296.3,418.9 297.2,418.5 298.1,418.7 299,418.6 300,418.5 300.9,418.4 301.8,418.3 302.7,417.9 303.7,418.3 304.6,418.1 305.5,417.6 306.4,417.6 307.3,417.6 308.3,417.5 309.2,417.4 310.1,417.4 311,417.2 312,417.1 312.9,416.9 313.8,416.9 314.7,416.7 315.7,416.9 316.6,416.3 317.5,416.7 318.4,416.3 319.3,416.3 320.3,416.3 321.2,415.8 322.1,415.9 323,416 324,415.8 324.9,415.7 325.8,415.5 326.7,415.1 327.6,415 328.6,415.3 329.5,415 330.4,414.9 331.3,414.7 332.3,414.9 333.2,414.9 334.1,414.7 335,414.2 336,414.6 336.9,414.5 337.8,414.1 338.7,414.2 339.6,414.1 340.6,413.8 341,411.4 341.3,413.7 342.4,413.4 343.5,413.6 344.5,413.2 345.6,413.1 346.7,413.1" fill="none" stroke="#000000" stroke-width="1.16" stroke-opacity="0.6" stroke-linejoin="round" stroke-linecap="butt"/>
<polyline points="275.4,425.1 276.5,425 277.3,422.9 278,424.3 279,424.2 280,424.1 280.9,424.1 281.9,423.9 282.8,423.7 283.8,423.6 284.7,423.5 285.7,423.4 286.1,419.4 286.5,423.3 287.4,423.2 288.3,422.9 289.2,423 290.1,422.9 291,422.7 292,422.5 292.9,422.5 293.8,422.3 294.7,422.2 295.6,422.3 296.6,422 297.5,422.2 298.4,421.9 299.3,421.8 300.2,421.8 301.1,421.8 302.1,421.3 303,421.5 303.9,421.3 304.8,421.4 305.7,420.9 306.7,420.8 307.6,421 308.5,420.8 309.4,420.8 310.3,420.7 311.2,420.3 312.2,420.3 313.1,420 314,420.1 314.9,420.1 315.8,419.8 316.8,420 317.7,419.7 318.6,419.6 319.5,419.7 320.4,419.5 321.3,419.3 322.3,419.4 323.2,419.3 324.1,419 325,418.7 325.9,418.8 326.8,418.5 327.8,418.6 328.7,418.7 329.6,418.6 330.5,418.3 331.4,418 332.4,417.9 333.3,417.7 334.2,417.8 335.1,417.6 336,417.6 336.9,417.7 337.9,417.4 338.8,417.5 339.7,417.1 340.6,417 341.5,417.2 342.5,417.1 343.4,416.9 344.3,417 345.2,416.8 346.1,416.3 347,416.2 348,416.4 348.9,416 349.8,416.3 350.7,416 351.1,411.7 351.5,415.9 352.6,415.5 353.8,415.7 354.2,386.6 354.5,415.6 355.7,415.4 356.8,415.3 358,415.2" fill="none" stroke="#ffff00" stroke-width="1.305" stroke-opacity="0.6" stroke-linejoin="round" stroke-linecap="butt"/>
<polyline points="281,426.2 282.2,426 282.9,424 283.7,425.4 284.6,425.4 285.5,425.4 286.5,425 287.4,424.9 288.3,424.8 289.3,424.6 290.2,424.4 291.1,424.6 291.5,419 291.9,424.4 292.8,424.5 293.7,424.1 294.6,424.3 295.6,423.8 296.5,423.8 297.4,424 298.3,423.7 299.2,423.4 300.1,423.2 301.1,423.1 302,423.2 302.9,423 303.8,422.9 304.7,422.9 305.7,422.7 306.6,422.9 307.5,422.7 308.4,422.4 309.3,422.3 310.3,422.1 311.2,422.4 312.1,421.8 313,422.1 313.9,421.9 314.9,421.7 315.8,421.4 316.7,421.7 317.6,421.5 318.5,421.2 319.4,421.1 320.4,421.2 321.3,421.2 322.2,420.8 323.1,421 324,420.8 325,420.9 325.9,420.7 326.8,420.5 327.7,420.3 328.6,420.1 329.6,420.1 330.5,420.2 331.4,420 332.3,419.9 333.2,419.9 334.2,419.8 335.1,419.3 336,419.2 336.9,419.1 337.8,419.1 338.7,419.2 339.7,418.9 340.6,418.9 341.5,418.6 342.4,418.6 343.3,418.5 344.3,418.7 345.2,418.2 346.1,418.2 347,418.1 347.9,418.2 348.9,417.9 349.8,417.9 350.7,417.9 351.6,417.5 352.5,417.4 353.5,417.3 354.4,417.1 355.3,417.3 356.2,417.1 357.1,417 357.5,411.7 357.9,416.9 359.4,416.8 359.8,387.7 360.2,416.7 361.3,416.8 362.5,416.3 363.6,416.3" fill="none" stroke="#ff00ff" stroke-width="1.305" stroke-opacity="0.6" stroke-linejoin="round" stroke-linecap="butt"/>
<polyline points="292.3,428.3 293.8,428.2 294.4,424.9 295,427.6 295.9,427.3 296.8,427.4 297.7,427.5 298.7,427 299.6,427.1 300.5,427.1 301.4,426.7 302.3,426.8 303.3,426.6 304.2,426.5 305.1,426.4 306,426.2 306.9,426.3 307.9,426.2 308.8,426 309.7,425.7 310.6,425.9 311.5,425.8 312.5,425.7 313.4,425.5 314.3,425.5 315.2,425.3 316.1,425.1 317.1,424.8 318,425.1 318.9,424.9 319.8,424.9 320.7,424.7 321.7,424.3 322.6,424.6 323.5,424.3 324.4,424.2 325.3,423.9 326.3,424 327.2,423.6 328.1,423.6 329,423.5 329.9,423.4 330.9,423.7 331.8,423.6 332.7,423 333.6,423.3 334.5,423.3 335.5,422.9 336.4,422.8 337.3,422.9 338.2,422.7 339.1,422.6 340.1,422.4 341,422.4 341.9,422.4 342.8,422 343.7,422.1 344.7,421.7 345.6,421.5 346.5,421.9 347.4,421.4 348.3,421.4 349.3,421.5 350.2,421.2 351.1,421.3 352,420.9 352.9,421 353.9,420.8 354.8,420.9 355.7,420.5 356.6,420.7 357.5,420.2 358.5,420.5 359.4,420.3 360.3,420 361.2,420.1 362.1,419.8 363.1,420 364,419.4 364.9,419.6 365.8,419.3 366.7,419.5 367.7,419.3 368,415.4 368.4,419.2 370,419 370.3,415.2 370.7,418.9 371.7,418.9 372.6,418.7 373.6,418.4 374.5,418.5" fill="none" stroke="#00ffff" stroke-width="1.305" stroke-opacity="0.6" stroke-linejoin="round" stroke-linecap="butt"/>
<polyline points="298,429.4 299.5,429.3 299.9,423.7 300.3,428.7 301.2,428.3 302.1,428.5 303,428.4 303.9,428.3 304.9,428.4 305.8,428.2 306.7,427.8 307.6,428 308.6,427.6 309.5,427.7 310.4,427.7 311.3,427.5 312.2,427.5 313.2,427.1 314.1,427.2 315,426.9 315.9,426.9 316.9,426.7 317.8,426.9 318.7,426.5 319.6,426.6 320.6,426.4 321.5,426 322.4,425.9 323.3,426 324.2,426 325.2,425.8 326.1,425.7 327,425.4 327.9,425.6 328.9,425.7 329.8,425.3 330.7,425.3 331.6,425.1 332.5,425 333.5,425.1 334.4,424.9 335.3,424.5 336.2,424.6 337.2,424.4 338.1,424.3 339,424.4 339.9,424.4 340.9,424 341.8,424.1 342.7,423.8 343.6,423.5 344.5,423.9 345.5,423.4 346.4,423.4 347.3,423.1 348.2,423.3 349.2,423.2 350.1,423.2 351,422.8 351.9,423 352.8,422.9 353.8,422.7 354.7,422.3 355.6,422.2 356.5,422.2 357.5,422.1 358.4,422.2 359.3,421.9 360.2,421.6 361.2,421.8 362.1,421.8 363,421.7 363.9,421.5 364.8,421.4 365.8,421.3 366.7,421.1 367.6,420.8 368.5,420.8 369.5,420.9 370.4,420.7 371.3,420.8 372.2,420.3 373.2,420.6 374.1,420.3 374.5,416.4 374.8,420.2 375.9,420 376.9,419.8 377.9,419.8 378.9,420 379.9,419.5 381,419.5" fill="none" stroke="#0000ff" stroke-width="1.305" stroke-opacity="0.6" stroke-linejoin="round" stroke-linecap="butt"/>
<polyline points="309.3,431.6 310.3,431.5 311.4,431.4 311.8,422.3 312.2,430.8 313.1,430.5 314,430.8 314.9,430.5 315.8,430.1 316.8,430.4 317.7,430 318.6,430 319.5,430 320.4,430 321.4,429.7 322.3,429.8 323.2,429.7 324.1,429.6 325,429.5 326,429.2 326.9,429.2 327.8,428.8 328.7,429 329.7,428.9 330.6,428.5 331.5,428.5 332.4,428.7 333.3,428.3 334.3,428.4 335.2,427.9 336.1,427.9 337,427.9 337.9,427.9 338.9,427.6 339.8,427.5 340.7,427.4 341.6,427.4 342.5,427.2 343.5,427.3 344.4,427.3 345.3,427 346.2,427 347.1,426.7 348.1,426.8 349,426.4 349.9,426.6 350.8,426.3 351.8,426.3 352.7,425.9 353.6,426 354.5,426 355.4,425.9 356.4,425.8 357.3,425.5 358.2,425.6 359.1,425.1 360,425.1 361,425.3 361.9,425.3 362.8,425 363.2,423.6 363.6,424.9 364.5,425 365.5,424.7 366.4,424.7 367.4,424.5 368.3,424.4 369.3,424 370.3,424.3 371.2,423.8 372.2,423.8 373.1,423.6 374.1,423.7 375,423.6 376,423.5 377,423.2 377.9,423.3 378.9,423.4 379.8,423.2 380.8,422.7 381.7,423.1 382.7,422.7 383.6,422.5 384.6,422.5 385,415.8 385.4,422.5 386.7,422.4 388,422.2 388.4,420.3 388.8,422.1 389.8,422 390.9,421.8 391.9,421.7" fill="none" stroke="#00ff00" stroke-width="1.305" stroke-opacity="0.6" stroke-linejoin="round" stroke-linecap="butt"/>
<polyline points="314.9,432.7 316.7,432.5 317.1,424.5 317.5,432.1 397.1,423.3" fill="none" stroke="#ff0000" stroke-width="1.305" stroke-opacity="0.6" stroke-linejoin="round" stroke-linecap="butt"/>
<polygon points="353.9,428.1 353.9,425.4 354.8,424.8 355.8,424 356.7,424.6 357.7,424.8 358.6,423.7 359.5,423.7 360.5,423.9 361.4,423.7 362.3,424.2 362.3,427.1" fill="#ff0000" fill-opacity="0.85"/>
<text x="240.1" y="391.9" font-size="7.9" text-anchor="middle" fill="#3a3a3a" class="s" textLength="2.6" lengthAdjust="spacingAndGlyphs">5</text>
<text x="240.1" y="421.5" font-size="7.9" text-anchor="middle" fill="#3a3a3a" class="s" textLength="2.6" lengthAdjust="spacingAndGlyphs">0</text>
<text x="239.7" y="427.6" font-size="7.9" text-anchor="middle" fill="#3a3a3a" class="s" textLength="4.8" lengthAdjust="spacingAndGlyphs">30</text>
<text x="253" y="430.3" font-size="7.9" text-anchor="middle" fill="#3a3a3a" class="s" textLength="4.8" lengthAdjust="spacingAndGlyphs">25</text>
<text x="267.1" y="433" font-size="7.9" text-anchor="middle" fill="#3a3a3a" class="s" textLength="4.8" lengthAdjust="spacingAndGlyphs">20</text>
<text x="281.3" y="435.8" font-size="7.9" text-anchor="middle" fill="#3a3a3a" class="s" textLength="4.8" lengthAdjust="spacingAndGlyphs">15</text>
<text x="295.4" y="438.5" font-size="7.9" text-anchor="middle" fill="#3a3a3a" class="s" textLength="4.8" lengthAdjust="spacingAndGlyphs">10</text>
<text x="310" y="441.2" font-size="7.9" text-anchor="middle" fill="#3a3a3a" class="s" textLength="2.5" lengthAdjust="spacingAndGlyphs">5</text>
<text x="318.8" y="441.3" font-size="7.9" text-anchor="middle" fill="#3a3a3a" class="s" textLength="2.5" lengthAdjust="spacingAndGlyphs">0</text>
<text x="335.7" y="439.6" font-size="7.9" text-anchor="middle" fill="#3a3a3a" class="s" textLength="6" lengthAdjust="spacingAndGlyphs">0.2</text>
<text x="351" y="437.9" font-size="7.9" text-anchor="middle" fill="#3a3a3a" class="s" textLength="6" lengthAdjust="spacingAndGlyphs">0.4</text>
<text x="366.3" y="436.2" font-size="7.9" text-anchor="middle" fill="#3a3a3a" class="s" textLength="6" lengthAdjust="spacingAndGlyphs">0.6</text>
<text x="381.6" y="434.5" font-size="7.9" text-anchor="middle" fill="#3a3a3a" class="s" textLength="6" lengthAdjust="spacingAndGlyphs">0.8</text>
<text x="395.3" y="432.8" font-size="7.9" text-anchor="middle" fill="#3a3a3a" class="s" textLength="2.5" lengthAdjust="spacingAndGlyphs">1</text>
<text x="412.2" y="431.1" font-size="7.9" text-anchor="middle" fill="#3a3a3a" class="s" textLength="6" lengthAdjust="spacingAndGlyphs">1.2</text>
<text x="325.1" y="375.5" font-size="10.9" text-anchor="middle" fill="#111" font-weight="bold" stroke="#111" stroke-width="0.5" textLength="12.2" lengthAdjust="spacingAndGlyphs">GSA</text>
<text x="265.6" y="453.1" font-size="10" text-anchor="middle" fill="#262626" font-weight="bold" stroke="#262626" stroke-width="0.3" textLength="37.8" lengthAdjust="spacingAndGlyphs">Harmonic Level</text>
<text x="363.1" y="453.3" font-size="10" text-anchor="middle" fill="#262626" font-weight="bold" stroke="#262626" stroke-width="0.3" textLength="23.9" lengthAdjust="spacingAndGlyphs">Time (sec)</text>
<text transform="translate(231.1,404.6) scale(0.55,1) rotate(-90)" x="0" y="0" font-size="9.8" text-anchor="middle" fill="#262626" font-weight="bold" stroke="#262626" stroke-width="0.5" textLength="45.8" lengthAdjust="spacingAndGlyphs">Harmonics</text>
<text transform="translate(237.2,404.6) scale(0.55,1) rotate(-90)" x="0" y="0" font-size="9.8" text-anchor="middle" fill="#262626" font-weight="bold" stroke="#262626" stroke-width="0.5" textLength="64.8" lengthAdjust="spacingAndGlyphs">Magnitude (%)</text>
<polyline points="45.9,508.5 45.9,481.3" fill="none" stroke="#e4e4e4" stroke-width="0.6" stroke-linejoin="round" stroke-linecap="butt"/>
<polyline points="61.2,506.8 61.2,479.6" fill="none" stroke="#e4e4e4" stroke-width="0.6" stroke-linejoin="round" stroke-linecap="butt"/>
<polyline points="76.5,505.1 76.5,477.9" fill="none" stroke="#e4e4e4" stroke-width="0.6" stroke-linejoin="round" stroke-linecap="butt"/>
<polyline points="91.8,503.4 91.8,476.2" fill="none" stroke="#e4e4e4" stroke-width="0.6" stroke-linejoin="round" stroke-linecap="butt"/>
<polyline points="107.1,501.7 107.1,474.5" fill="none" stroke="#e4e4e4" stroke-width="0.6" stroke-linejoin="round" stroke-linecap="butt"/>
<polyline points="122.4,500 122.4,472.8" fill="none" stroke="#e4e4e4" stroke-width="0.6" stroke-linejoin="round" stroke-linecap="butt"/>
<polyline points="30.6,483 122.4,472.8" fill="none" stroke="#e4e4e4" stroke-width="0.6" stroke-linejoin="round" stroke-linecap="butt"/>
<polyline points="193,513.6 193,486.4" fill="none" stroke="#e4e4e4" stroke-width="0.6" stroke-linejoin="round" stroke-linecap="butt"/>
<polyline points="178.9,510.9 178.9,483.7" fill="none" stroke="#e4e4e4" stroke-width="0.6" stroke-linejoin="round" stroke-linecap="butt"/>
<polyline points="164.8,508.2 164.8,481" fill="none" stroke="#e4e4e4" stroke-width="0.6" stroke-linejoin="round" stroke-linecap="butt"/>
<polyline points="150.6,505.4 150.6,478.2" fill="none" stroke="#e4e4e4" stroke-width="0.6" stroke-linejoin="round" stroke-linecap="butt"/>
<polyline points="136.5,502.7 136.5,475.5" fill="none" stroke="#e4e4e4" stroke-width="0.6" stroke-linejoin="round" stroke-linecap="butt"/>
<polyline points="193,486.4 122.4,472.8" fill="none" stroke="#e4e4e4" stroke-width="0.6" stroke-linejoin="round" stroke-linecap="butt"/>
<polyline points="116.5,522.1 45.9,508.5" fill="none" stroke="#e4e4e4" stroke-width="0.5" stroke-linejoin="round" stroke-linecap="butt"/>
<polyline points="131.8,520.4 61.2,506.8" fill="none" stroke="#e4e4e4" stroke-width="0.5" stroke-linejoin="round" stroke-linecap="butt"/>
<polyline points="147.1,518.7 76.5,505.1" fill="none" stroke="#e4e4e4" stroke-width="0.5" stroke-linejoin="round" stroke-linecap="butt"/>
<polyline points="162.4,517 91.8,503.4" fill="none" stroke="#e4e4e4" stroke-width="0.5" stroke-linejoin="round" stroke-linecap="butt"/>
<polyline points="177.7,515.3 107.1,501.7" fill="none" stroke="#e4e4e4" stroke-width="0.5" stroke-linejoin="round" stroke-linecap="butt"/>
<polyline points="87.1,521.1 178.9,510.9" fill="none" stroke="#e4e4e4" stroke-width="0.5" stroke-linejoin="round" stroke-linecap="butt"/>
<polyline points="73,518.4 164.8,508.2" fill="none" stroke="#e4e4e4" stroke-width="0.5" stroke-linejoin="round" stroke-linecap="butt"/>
<polyline points="58.8,515.6 150.6,505.4" fill="none" stroke="#e4e4e4" stroke-width="0.5" stroke-linejoin="round" stroke-linecap="butt"/>
<polyline points="44.7,512.9 136.5,502.7" fill="none" stroke="#e4e4e4" stroke-width="0.5" stroke-linejoin="round" stroke-linecap="butt"/>
<polyline points="30.6,510.2 122.4,500" fill="none" stroke="#b0b0b0" stroke-width="0.6" stroke-linejoin="round" stroke-linecap="butt"/>
<polyline points="122.4,500 193,513.6" fill="none" stroke="#c8c8c8" stroke-width="0.6" stroke-linejoin="round" stroke-linecap="butt"/>
<polyline points="30.6,510.2 30.6,483" fill="none" stroke="#8a8a8a" stroke-width="0.7" stroke-linejoin="round" stroke-linecap="butt"/>
<polyline points="30.6,510.2 101.2,523.8" fill="none" stroke="#555555" stroke-width="0.9" stroke-linejoin="round" stroke-linecap="butt"/>
<polyline points="101.2,523.8 193,513.6" fill="none" stroke="#666666" stroke-width="0.8" stroke-linejoin="round" stroke-linecap="butt"/>
<polyline points="29.1,510.2 30.6,510.2" fill="none" stroke="#5a5a5a" stroke-width="0.6" stroke-linejoin="round" stroke-linecap="butt"/>
<polyline points="29.1,483 30.6,483" fill="none" stroke="#5a5a5a" stroke-width="0.6" stroke-linejoin="round" stroke-linecap="butt"/>
<polyline points="33.4,510.7 34.6,510.6 35.3,507 36.1,510.1 37.1,509.8 38.1,509.6 39.2,510.1 40.2,509.3 41.2,509.2 42.2,509.4 42.6,500.7 43,509.1 43.9,509.3 44.8,508.6 45.8,508.5 46.7,508.9 47.6,508.1 48.5,508.5 49.5,508.3 50.4,508.1 51.3,507.9 52.2,507.8 53.2,508 54.1,507.7 55,507.9 55.9,507.7 56.9,507.4 57.8,507.6 58.7,507.3 59.6,506.8 60.6,507.2 61.5,506.9 62.4,507.1 63.3,506.4 64.3,506.8 65.2,506.6 66.1,506.1 67,506.2 68,506 68.9,505.8 69.8,505.8 70.7,505.8 71.7,505.6 72.6,505.8 73.5,505.7 74.5,505.5 75.4,505.4 76.3,505.2 77.3,504.7 78.2,505.1 79.1,505.1 80.1,504.8 81,504.9 81.9,504.2 82.9,504 83.8,504 84.7,503.8 85.7,504 86.6,504 87.5,503.9 88.5,503.6 89.4,503.8 90.3,503.5 91.3,503.5 92.2,503.2 93.1,502.9 94.1,503 95,503.3 95.9,502.8 96.9,502.6 97.8,502.7 98.7,502.9 99.7,502.8 100.6,502.3 101.5,502.1 102.5,502.2 103.4,501.9 104.3,501.9 105.3,501.6 106.2,502 107.1,501.4 108.1,501.4 109,501.8 109.9,501.3 110.3,499.2 110.7,501.3 111.7,501.4 112.7,501.2 113.7,500.7 114.8,500.7 115.8,501 116.8,500.6" fill="none" stroke="#0000ff" stroke-width="1.16" stroke-dasharray="2.2,1.2,0.8,1.2" stroke-opacity="0.6" stroke-linejoin="round" stroke-linecap="butt"/>
<polyline points="44.7,512.9 45.9,512.8 46.6,509.2 47.4,512.1 48.3,511.9 49.3,512 50.2,511.6 51.1,511.8 52.1,511.8 53,511.6 54,511.4 54.9,511.3 55.8,511.1 56.8,511.3 57.7,511.1 58.6,511.1 59.6,510.4 60.5,510.6 61.4,510.6 62.4,510.6 63.3,510.2 64.2,510.5 65.2,510.3 66.1,509.8 67.1,509.8 68,509.6 68.9,509.4 69.9,509.6 70.8,509.2 71.7,509.1 72.7,509 73.6,509 74.5,508.8 75.5,509.1 76.4,508.9 77.4,508.6 78.3,508.5 79.2,508.3 80.2,508.3 81.1,508.5 82,508.2 83,508 83.9,508 84.8,507.7 85.7,507.8 86.6,507.4 87.6,507.4 88.5,507.4 89.4,507.2 90.3,506.9 91.2,507.2 92.2,507.2 93.1,506.6 94,506.9 94.9,506.4 95.8,506.6 96.7,506.5 97.7,506.1 98.6,506.5 99.5,505.9 100.4,506.2 101.3,505.8 102.2,505.6 103.2,505.5 104.1,505.7 105,505.2 105.9,505.4 106.8,505.4 107.8,505.3 108.7,505.4 109.6,504.9 110.5,504.9 111.4,504.8 112.3,504.5 113.3,504.6 114.2,504.8 115.1,504.3 116,504.5 116.9,504.1 117.9,504.1 118.8,504 119.7,503.9 120.5,501 121.2,503.7 122.4,502.1 123.5,500.7 124.3,503.4 125.4,502.1 126.6,500.3 127.3,503 128.9,502.9" fill="none" stroke="#ff0000" stroke-width="1.16" stroke-dasharray="2.2,1.2,0.8,1.2" stroke-opacity="0.6" stroke-linejoin="round" stroke-linecap="butt"/>
<polyline points="50.4,514 51.5,513.9 52.3,510.3 53,513.3 54,513.3 54.9,513.2 55.8,513.1 56.7,513.1 57.7,512.9 58.6,512.5 59.5,512.3 60.4,512.4 61.4,512.2 62.3,512.5 63.2,512.2 64.1,511.9 65,511.7 66,512.1 66.9,511.5 67.8,511.4 68.7,511.7 69.7,511.5 70.6,511.1 71.5,511.3 72.4,511.3 73.3,511 74.3,510.8 75.2,510.7 76.1,510.8 77,510.6 78,510.6 78.9,510.2 79.8,510.1 80.7,509.9 81.7,510.2 82.6,510.1 83.5,509.7 84.4,509.8 85.3,509.5 86.3,509.5 87.2,509.7 88.1,509.5 89,509.1 90,509.2 90.9,509.1 91.8,508.8 92.7,509 93.6,508.9 94.6,508.6 95.5,508.7 96.4,508.5 97.3,508.3 98.3,508.4 99.2,508.3 100.1,507.8 101,507.8 102,507.7 102.9,507.7 103.8,507.3 104.7,507.4 105.6,507.5 106.6,507.2 107.5,507.1 108.4,507 109.3,507 110.3,506.8 111.2,506.9 112.1,506.5 113,506.3 113.9,506.3 114.9,506.1 115.8,505.9 116.7,506.1 117.6,506 118.6,505.7 119.5,505.9 120.4,505.7 121.3,505.5 122.3,505.7 123.2,505.1 124.1,505 125,505.1 125.9,505 126.9,504.9 127.3,502.5 127.6,504.8 128.7,504.8 129.8,504.6 130.8,504.7 131.9,504.4 133,504.2" fill="none" stroke="#000000" stroke-width="1.16" stroke-opacity="0.6" stroke-linejoin="round" stroke-linecap="butt"/>
<polyline points="61.7,516.2 62.8,516.1 63.6,514 64.3,515.4 65.3,515.4 66.3,515.2 67.2,515 68.2,514.8 69.1,515.1 70.1,514.9 71,514.6 72,514.5 72.4,510.5 72.8,514.4 73.7,514 74.6,514.1 75.5,514 76.4,513.8 77.3,514 78.3,514 79.2,513.6 80.1,513.5 81,513.6 81.9,513.2 82.9,513.2 83.8,512.9 84.7,513.1 85.6,513.1 86.5,512.9 87.4,512.8 88.4,512.7 89.3,512.4 90.2,512.5 91.1,512 92,512.3 93,511.9 93.9,512.1 94.8,511.7 95.7,511.9 96.6,511.6 97.5,511.7 98.5,511.3 99.4,511.3 100.3,511.1 101.2,511.2 102.1,511.2 103.1,511 104,510.7 104.9,510.7 105.8,510.8 106.7,510.7 107.6,510.4 108.6,510.2 109.5,510.1 110.4,510 111.3,510.2 112.2,509.9 113.1,509.9 114.1,509.8 115,509.4 115.9,509.3 116.8,509.5 117.7,509 118.7,509.3 119.6,508.9 120.5,509 121.4,508.9 122.3,508.5 123.2,508.5 124.2,508.5 125.1,508.4 126,508.3 126.9,508.1 127.8,508 128.8,508.1 129.7,507.9 130.6,507.9 131.5,507.9 132.4,507.8 133.3,507.3 134.3,507.5 135.2,507.3 136.1,507.4 137,507.1 137.4,502.8 137.8,507 138.9,506.9 140.1,506.8 140.5,477.7 140.8,506.7 142,506.4 143.1,506.3 144.3,506.3" fill="none" stroke="#ffff00" stroke-width="1.305" stroke-opacity="0.6" stroke-linejoin="round" stroke-linecap="butt"/>
<polyline points="67.3,517.3 68.5,517.1 69.2,515.1 70,516.5 70.9,516.3 71.8,516.2 72.8,516.4 73.7,516.3 74.6,516.2 75.6,515.8 76.5,515.6 77.4,515.6 77.8,510.1 78.2,515.5 79.1,515.1 80,515.1 80.9,515 81.9,515.2 82.8,515.2 83.7,514.7 84.6,514.9 85.5,514.6 86.4,514.3 87.4,514.6 88.3,514.2 89.2,514.3 90.1,514.1 91,514.1 92,513.8 92.9,513.7 93.8,513.5 94.7,513.5 95.6,513.3 96.6,513.2 97.5,513.3 98.4,513.2 99.3,513.1 100.2,513.2 101.2,513.1 102.1,512.9 103,512.7 103.9,512.8 104.8,512.4 105.7,512.5 106.7,512.3 107.6,511.9 108.5,511.9 109.4,512 110.3,511.9 111.3,512 112.2,511.9 113.1,511.5 114,511.7 114.9,511.2 115.9,511.4 116.8,511.3 117.7,510.9 118.6,511.1 119.5,510.7 120.5,510.9 121.4,510.6 122.3,510.5 123.2,510.5 124.1,510.4 125,510 126,510.2 126.9,510.1 127.8,509.9 128.7,509.8 129.6,509.7 130.6,509.6 131.5,509.4 132.4,509.5 133.3,509.2 134.2,509.1 135.2,508.9 136.1,509.1 137,509 137.9,508.8 138.8,508.5 139.8,508.6 140.7,508.5 141.6,508.3 142.5,508.4 143.4,508.1 143.8,502.8 144.2,508 145.7,507.9 146.1,479.3 146.5,507.8 147.6,507.8 148.8,507.3 149.9,507.4" fill="none" stroke="#ff00ff" stroke-width="1.305" stroke-opacity="0.6" stroke-linejoin="round" stroke-linecap="butt"/>
<polyline points="78.6,519.4 80.1,519.3 80.7,516 81.3,518.7 82.2,518.6 83.1,518.4 84,518.5 85,518.4 85.9,517.9 86.8,518.2 87.7,517.8 88.6,518 89.6,517.7 90.5,517.6 91.4,517.6 92.3,517.4 93.2,517 94.2,517.1 95.1,517 96,517.2 96.9,516.7 97.8,516.8 98.8,516.6 99.7,516.6 100.6,516.6 101.5,516.5 102.4,516.1 103.4,515.9 104.3,515.9 105.2,515.7 106.1,515.8 107,515.8 108,515.6 108.9,515.7 109.8,515.6 110.7,515.5 111.6,515.2 112.6,514.9 113.5,515 114.4,514.9 115.3,514.7 116.2,514.9 117.2,514.5 118.1,514.3 119,514.6 119.9,514 120.8,514.1 121.8,514 122.7,514.2 123.6,513.8 124.5,513.6 125.4,513.4 126.4,513.7 127.3,513.5 128.2,513.1 129.1,513 130,513.1 131,512.9 131.9,513 132.8,512.6 133.7,512.4 134.6,512.7 135.6,512.5 136.5,512.1 137.4,512.4 138.3,512 139.2,512 140.2,511.8 141.1,511.9 142,511.5 142.9,511.5 143.8,511.5 144.8,511.6 145.7,511.1 146.6,511 147.5,511.1 148.4,511.2 149.4,511 150.3,510.7 151.2,510.5 152.1,510.4 153,510.5 154,510.4 154.3,506.5 154.7,510.3 156.3,510.1 156.6,506.3 157,510 158,510 158.9,509.7 159.9,509.5 160.8,509.6" fill="none" stroke="#00ffff" stroke-width="1.305" stroke-opacity="0.6" stroke-linejoin="round" stroke-linecap="butt"/>
<polyline points="84.3,520.5 85.8,520.4 86.2,514.8 86.6,519.8 87.5,519.6 88.4,519.5 89.3,519.5 90.2,519.2 91.2,519.4 92.1,519.3 93,519.2 93.9,518.9 94.9,519.1 95.8,518.5 96.7,518.7 97.6,518.4 98.5,518.4 99.5,518.5 100.4,518 101.3,518 102.2,517.9 103.2,517.7 104.1,517.6 105,517.7 105.9,517.6 106.9,517.4 107.8,517.5 108.7,517.5 109.6,517.2 110.5,516.9 111.5,516.7 112.4,516.6 113.3,516.5 114.2,516.5 115.2,516.7 116.1,516.4 117,516.3 117.9,516.2 118.8,516.1 119.8,516 120.7,515.8 121.6,516 122.5,515.7 123.5,515.8 124.4,515.3 125.3,515.4 126.2,515.1 127.2,515.3 128.1,515.1 129,515.2 129.9,514.7 130.8,514.8 131.8,514.8 132.7,514.4 133.6,514.4 134.5,514.5 135.5,514.3 136.4,513.9 137.3,514.2 138.2,513.7 139.1,513.7 140.1,513.5 141,513.4 141.9,513.3 142.8,513.5 143.8,513.1 144.7,513.3 145.6,512.9 146.5,512.8 147.5,512.8 148.4,512.8 149.3,512.5 150.2,512.6 151.1,512.5 152.1,512.2 153,512.1 153.9,512.1 154.8,511.8 155.8,512.1 156.7,511.7 157.6,511.6 158.5,511.6 159.5,511.7 160.4,511.4 160.8,507.5 161.1,511.3 162.2,511.3 163.2,511.2 164.2,511.2 165.2,510.6 166.2,510.6 167.3,510.6" fill="none" stroke="#0000ff" stroke-width="1.305" stroke-opacity="0.6" stroke-linejoin="round" stroke-linecap="butt"/>
<polyline points="95.6,522.7 96.6,522.5 97.7,522.5 98.1,513.4 98.5,521.9 99.4,521.9 100.3,521.7 101.2,521.7 102.1,521.4 103.1,521.4 104,521.2 104.9,521.3 105.8,521.2 106.7,521.1 107.7,520.8 108.6,520.9 109.5,520.8 110.4,520.6 111.3,520.4 112.3,520.1 113.2,520.1 114.1,520 115,519.9 116,519.9 116.9,519.9 117.8,519.5 118.7,519.4 119.6,519.6 120.6,519.4 121.5,519.1 122.4,519.1 123.3,518.8 124.2,518.9 125.2,518.7 126.1,518.9 127,518.8 127.9,518.7 128.8,518.3 129.8,518.5 130.7,518.1 131.6,518 132.5,517.9 133.4,517.9 134.4,517.6 135.3,517.9 136.2,517.7 137.1,517.5 138.1,517.1 139,517.2 139.9,517 140.8,517.2 141.7,517.1 142.7,516.8 143.6,516.5 144.5,516.5 145.4,516.7 146.3,516.2 147.3,516.5 148.2,516.3 149.1,516.1 149.5,514.7 149.9,516 150.8,515.7 151.8,515.7 152.7,515.7 153.7,515.6 154.6,515.2 155.6,515.3 156.6,515.3 157.5,515.3 158.5,515.2 159.4,514.8 160.4,515 161.3,514.8 162.3,514.7 163.3,514.3 164.2,514.6 165.2,514.1 166.1,514 167.1,513.9 168,514.1 169,513.8 169.9,513.7 170.9,513.6 171.3,506.9 171.7,513.6 173,513.4 174.3,513.3 174.7,511.4 175.1,513.2 176.1,513.1 177.2,513 178.2,512.8" fill="none" stroke="#00ff00" stroke-width="1.305" stroke-opacity="0.6" stroke-linejoin="round" stroke-linecap="butt"/>
<polyline points="101.2,523.8 103,523.6 103.4,515.6 103.8,523.2 183.4,514.4" fill="none" stroke="#ff0000" stroke-width="1.305" stroke-opacity="0.6" stroke-linejoin="round" stroke-linecap="butt"/>
<polygon points="140,519.2 140,514 140.9,514.1 141.9,514.1 142.9,514.5 143.8,514.6 144.8,514 145.7,514.6 146.7,513.9 147.7,514 148.6,514.1 148.6,518.2" fill="#ff0000" fill-opacity="0.85"/>
<text x="26.4" y="485.4" font-size="7.9" text-anchor="middle" fill="#3a3a3a" class="s" textLength="2.6" lengthAdjust="spacingAndGlyphs">5</text>
<text x="26.4" y="512.6" font-size="7.9" text-anchor="middle" fill="#3a3a3a" class="s" textLength="2.6" lengthAdjust="spacingAndGlyphs">0</text>
<text x="26" y="518.7" font-size="7.9" text-anchor="middle" fill="#3a3a3a" class="s" textLength="4.8" lengthAdjust="spacingAndGlyphs">30</text>
<text x="39.3" y="521.4" font-size="7.9" text-anchor="middle" fill="#3a3a3a" class="s" textLength="4.8" lengthAdjust="spacingAndGlyphs">25</text>
<text x="53.4" y="524.1" font-size="7.9" text-anchor="middle" fill="#3a3a3a" class="s" textLength="4.8" lengthAdjust="spacingAndGlyphs">20</text>
<text x="67.6" y="526.9" font-size="7.9" text-anchor="middle" fill="#3a3a3a" class="s" textLength="4.8" lengthAdjust="spacingAndGlyphs">15</text>
<text x="81.7" y="529.6" font-size="7.9" text-anchor="middle" fill="#3a3a3a" class="s" textLength="4.8" lengthAdjust="spacingAndGlyphs">10</text>
<text x="96.3" y="532.3" font-size="7.9" text-anchor="middle" fill="#3a3a3a" class="s" textLength="2.5" lengthAdjust="spacingAndGlyphs">5</text>
<text x="105.1" y="532.4" font-size="7.9" text-anchor="middle" fill="#3a3a3a" class="s" textLength="2.5" lengthAdjust="spacingAndGlyphs">0</text>
<text x="122" y="530.7" font-size="7.9" text-anchor="middle" fill="#3a3a3a" class="s" textLength="6" lengthAdjust="spacingAndGlyphs">0.2</text>
<text x="137.3" y="529" font-size="7.9" text-anchor="middle" fill="#3a3a3a" class="s" textLength="6" lengthAdjust="spacingAndGlyphs">0.4</text>
<text x="152.6" y="527.3" font-size="7.9" text-anchor="middle" fill="#3a3a3a" class="s" textLength="6" lengthAdjust="spacingAndGlyphs">0.6</text>
<text x="167.9" y="525.6" font-size="7.9" text-anchor="middle" fill="#3a3a3a" class="s" textLength="6" lengthAdjust="spacingAndGlyphs">0.8</text>
<text x="181.6" y="523.9" font-size="7.9" text-anchor="middle" fill="#3a3a3a" class="s" textLength="2.5" lengthAdjust="spacingAndGlyphs">1</text>
<text x="198.5" y="522.2" font-size="7.9" text-anchor="middle" fill="#3a3a3a" class="s" textLength="6" lengthAdjust="spacingAndGlyphs">1.2</text>
<text x="111.8" y="467.1" font-size="10.9" text-anchor="middle" fill="#111" font-weight="bold" stroke="#111" stroke-width="0.5" textLength="9.2" lengthAdjust="spacingAndGlyphs">GA</text>
<text x="51.9" y="544.2" font-size="10" text-anchor="middle" fill="#262626" font-weight="bold" stroke="#262626" stroke-width="0.3" textLength="37.8" lengthAdjust="spacingAndGlyphs">Harmonic Level</text>
<text x="149.4" y="544.4" font-size="10" text-anchor="middle" fill="#262626" font-weight="bold" stroke="#262626" stroke-width="0.3" textLength="23.9" lengthAdjust="spacingAndGlyphs">Time (sec)</text>
<text transform="translate(16.6,495.7) scale(0.55,1) rotate(-90)" x="0" y="0" font-size="9.8" text-anchor="middle" fill="#262626" font-weight="bold" stroke="#262626" stroke-width="0.5" textLength="45.8" lengthAdjust="spacingAndGlyphs">Harmonics</text>
<text transform="translate(22.7,495.7) scale(0.55,1) rotate(-90)" x="0" y="0" font-size="9.8" text-anchor="middle" fill="#262626" font-weight="bold" stroke="#262626" stroke-width="0.5" textLength="64.8" lengthAdjust="spacingAndGlyphs">Magnitude (%)</text>
<polyline points="259.6,508.5 259.6,481.3" fill="none" stroke="#e4e4e4" stroke-width="0.6" stroke-linejoin="round" stroke-linecap="butt"/>
<polyline points="274.9,506.8 274.9,479.6" fill="none" stroke="#e4e4e4" stroke-width="0.6" stroke-linejoin="round" stroke-linecap="butt"/>
<polyline points="290.2,505.1 290.2,477.9" fill="none" stroke="#e4e4e4" stroke-width="0.6" stroke-linejoin="round" stroke-linecap="butt"/>
<polyline points="305.5,503.4 305.5,476.2" fill="none" stroke="#e4e4e4" stroke-width="0.6" stroke-linejoin="round" stroke-linecap="butt"/>
<polyline points="320.8,501.7 320.8,474.5" fill="none" stroke="#e4e4e4" stroke-width="0.6" stroke-linejoin="round" stroke-linecap="butt"/>
<polyline points="336.1,500 336.1,472.8" fill="none" stroke="#e4e4e4" stroke-width="0.6" stroke-linejoin="round" stroke-linecap="butt"/>
<polyline points="244.3,483 336.1,472.8" fill="none" stroke="#e4e4e4" stroke-width="0.6" stroke-linejoin="round" stroke-linecap="butt"/>
<polyline points="406.7,513.6 406.7,486.4" fill="none" stroke="#e4e4e4" stroke-width="0.6" stroke-linejoin="round" stroke-linecap="butt"/>
<polyline points="392.6,510.9 392.6,483.7" fill="none" stroke="#e4e4e4" stroke-width="0.6" stroke-linejoin="round" stroke-linecap="butt"/>
<polyline points="378.5,508.2 378.5,481" fill="none" stroke="#e4e4e4" stroke-width="0.6" stroke-linejoin="round" stroke-linecap="butt"/>
<polyline points="364.3,505.4 364.3,478.2" fill="none" stroke="#e4e4e4" stroke-width="0.6" stroke-linejoin="round" stroke-linecap="butt"/>
<polyline points="350.2,502.7 350.2,475.5" fill="none" stroke="#e4e4e4" stroke-width="0.6" stroke-linejoin="round" stroke-linecap="butt"/>
<polyline points="406.7,486.4 336.1,472.8" fill="none" stroke="#e4e4e4" stroke-width="0.6" stroke-linejoin="round" stroke-linecap="butt"/>
<polyline points="330.2,522.1 259.6,508.5" fill="none" stroke="#e4e4e4" stroke-width="0.5" stroke-linejoin="round" stroke-linecap="butt"/>
<polyline points="345.5,520.4 274.9,506.8" fill="none" stroke="#e4e4e4" stroke-width="0.5" stroke-linejoin="round" stroke-linecap="butt"/>
<polyline points="360.8,518.7 290.2,505.1" fill="none" stroke="#e4e4e4" stroke-width="0.5" stroke-linejoin="round" stroke-linecap="butt"/>
<polyline points="376.1,517 305.5,503.4" fill="none" stroke="#e4e4e4" stroke-width="0.5" stroke-linejoin="round" stroke-linecap="butt"/>
<polyline points="391.4,515.3 320.8,501.7" fill="none" stroke="#e4e4e4" stroke-width="0.5" stroke-linejoin="round" stroke-linecap="butt"/>
<polyline points="300.8,521.1 392.6,510.9" fill="none" stroke="#e4e4e4" stroke-width="0.5" stroke-linejoin="round" stroke-linecap="butt"/>
<polyline points="286.7,518.4 378.5,508.2" fill="none" stroke="#e4e4e4" stroke-width="0.5" stroke-linejoin="round" stroke-linecap="butt"/>
<polyline points="272.5,515.6 364.3,505.4" fill="none" stroke="#e4e4e4" stroke-width="0.5" stroke-linejoin="round" stroke-linecap="butt"/>
<polyline points="258.4,512.9 350.2,502.7" fill="none" stroke="#e4e4e4" stroke-width="0.5" stroke-linejoin="round" stroke-linecap="butt"/>
<polyline points="244.3,510.2 336.1,500" fill="none" stroke="#b0b0b0" stroke-width="0.6" stroke-linejoin="round" stroke-linecap="butt"/>
<polyline points="336.1,500 406.7,513.6" fill="none" stroke="#c8c8c8" stroke-width="0.6" stroke-linejoin="round" stroke-linecap="butt"/>
<polyline points="244.3,510.2 244.3,483" fill="none" stroke="#8a8a8a" stroke-width="0.7" stroke-linejoin="round" stroke-linecap="butt"/>
<polyline points="244.3,510.2 314.9,523.8" fill="none" stroke="#555555" stroke-width="0.9" stroke-linejoin="round" stroke-linecap="butt"/>
<polyline points="314.9,523.8 406.7,513.6" fill="none" stroke="#666666" stroke-width="0.8" stroke-linejoin="round" stroke-linecap="butt"/>
<polyline points="242.8,510.2 244.3,510.2" fill="none" stroke="#5a5a5a" stroke-width="0.6" stroke-linejoin="round" stroke-linecap="butt"/>
<polyline points="242.8,483 244.3,483" fill="none" stroke="#5a5a5a" stroke-width="0.6" stroke-linejoin="round" stroke-linecap="butt"/>
<polyline points="247.1,510.7 248.3,510.6 249,507 249.8,510.1 250.8,510.2 251.8,509.8 252.9,509.4 253.9,509.5 254.9,509.5 255.9,509.4 256.3,500.7 256.7,509.1 257.6,509.1 258.5,509.1 259.5,508.3 260.4,508.4 261.3,508.7 262.2,508.3 263.2,508.1 264.1,507.9 265,508.2 265.9,508.1 266.9,508.1 267.8,507.7 268.7,507.3 269.6,507.3 270.6,507.7 271.5,507.4 272.4,507.5 273.3,507.3 274.3,506.9 275.2,507.1 276.1,506.9 277,506.8 278,506.6 278.9,506.1 279.8,506.5 280.7,506.1 281.7,506.1 282.6,506.1 283.5,506 284.4,505.5 285.4,505.6 286.3,505.2 287.2,505.2 288.2,505 289.1,505 290,505.2 291,505.2 291.9,504.8 292.8,504.7 293.8,504.4 294.7,504.2 295.6,504.2 296.6,504 297.5,504.1 298.4,504 299.4,503.8 300.3,503.9 301.2,503.6 302.2,503.4 303.1,503.6 304,503.6 305,503.5 305.9,503.2 306.8,503.2 307.8,503.1 308.7,503.1 309.6,502.7 310.6,502.6 311.5,502.3 312.4,502.2 313.4,502.9 314.3,502.5 315.2,502.1 316.2,502.1 317.1,502 318,502.2 319,502 319.9,501.5 320.8,501.5 321.8,501.2 322.7,501.1 323.6,501.3 324,499.2 324.4,501.3 325.4,500.8 326.4,500.7 327.4,500.6 328.5,500.5 329.5,500.3 330.5,500.6" fill="none" stroke="#0000ff" stroke-width="1.16" stroke-dasharray="2.2,1.2,0.8,1.2" stroke-opacity="0.6" stroke-linejoin="round" stroke-linecap="butt"/>
<polyline points="258.4,512.9 259.6,512.8 260.3,509.2 261.1,512.1 262,512.1 263,512 263.9,511.8 264.8,511.5 265.8,511.3 266.7,511.4 267.7,511.4 268.6,511.5 269.5,511.4 270.5,511.3 271.4,511.1 272.3,511.1 273.3,510.8 274.2,510.7 275.1,510.2 276.1,510.6 277,510.5 277.9,509.9 278.9,509.8 279.8,509.9 280.8,509.8 281.7,509.8 282.6,509.7 283.6,509.6 284.5,509.6 285.4,509 286.4,509 287.3,508.8 288.2,509.2 289.2,508.8 290.1,509 291.1,508.5 292,508.8 292.9,508.3 293.9,508.5 294.8,507.9 295.7,507.8 296.7,508 297.6,507.9 298.5,507.5 299.4,507.5 300.3,507.8 301.3,507.2 302.2,507.1 303.1,507.4 304,507.1 304.9,507.2 305.8,507.2 306.8,506.9 307.7,507 308.6,506.5 309.5,506.4 310.4,506.6 311.4,506.4 312.3,506.5 313.2,506.2 314.1,506 315,505.7 315.9,505.5 316.9,505.7 317.8,505.7 318.7,505.3 319.6,505.4 320.5,505.1 321.5,505.3 322.4,504.9 323.3,505.2 324.2,505 325.1,505 326,504.8 327,504.5 327.9,504.2 328.8,504.7 329.7,504.2 330.6,504.4 331.6,503.9 332.5,503.8 333.4,503.9 334.2,501 334.9,503.7 336.1,501.9 337.2,500.7 338,503.4 339.1,501.6 340.3,500.3 341,503 342.6,502.9" fill="none" stroke="#ff0000" stroke-width="1.16" stroke-dasharray="2.2,1.2,0.8,1.2" stroke-opacity="0.6" stroke-linejoin="round" stroke-linecap="butt"/>
<polyline points="264.1,514 265.2,513.9 266,510.3 266.7,513.3 267.7,513.1 268.6,513.2 269.5,512.9 270.4,512.9 271.4,512.9 272.3,512.9 273.2,512.4 274.1,512.5 275.1,512.5 276,512.4 276.9,512.3 277.8,512.3 278.7,511.8 279.7,511.9 280.6,511.8 281.5,511.7 282.4,511.6 283.4,511.4 284.3,511.3 285.2,511.4 286.1,511.1 287,510.8 288,510.8 288.9,510.8 289.8,510.7 290.7,510.7 291.7,510.7 292.6,510.5 293.5,510.5 294.4,510.4 295.4,510.2 296.3,509.7 297.2,509.6 298.1,510 299,509.7 300,509.7 300.9,509.5 301.8,509.3 302.7,509.3 303.7,509.1 304.6,509.2 305.5,508.9 306.4,509 307.3,508.8 308.3,508.6 309.2,508.6 310.1,508.4 311,508.1 312,508.2 312.9,507.9 313.8,508.1 314.7,507.7 315.7,507.6 316.6,507.4 317.5,507.4 318.4,507.5 319.3,507.2 320.3,507.2 321.2,507.2 322.1,507 323,507.1 324,507 324.9,506.9 325.8,506.4 326.7,506.7 327.6,506.5 328.6,506.1 329.5,506 330.4,506.1 331.3,506 332.3,505.6 333.2,505.9 334.1,505.8 335,505.7 336,505.3 336.9,505.4 337.8,505.2 338.7,505.3 339.6,504.8 340.6,504.9 341,502.5 341.3,504.8 342.4,504.5 343.5,504.4 344.5,504.6 345.6,504.1 346.7,504.2" fill="none" stroke="#000000" stroke-width="1.16" stroke-opacity="0.6" stroke-linejoin="round" stroke-linecap="butt"/>
<polyline points="275.4,516.2 276.5,516.1 277.3,514 278,515.4 279,515.1 280,515.3 280.9,515.1 281.9,515.1 282.8,514.9 283.8,514.6 284.7,514.8 285.7,514.5 286.1,510.5 286.5,514.4 287.4,514.2 288.3,514 289.2,514.3 290.1,514.1 291,513.7 292,513.6 292.9,513.7 293.8,513.3 294.7,513.3 295.6,513.6 296.6,513.1 297.5,513.3 298.4,513.1 299.3,512.7 300.2,513 301.1,512.5 302.1,512.7 303,512.4 303.9,512.5 304.8,512.2 305.7,512.3 306.7,512 307.6,512 308.5,511.8 309.4,512 310.3,511.5 311.2,511.7 312.2,511.3 313.1,511.4 314,511.2 314.9,511.2 315.8,511.2 316.8,510.7 317.7,510.7 318.6,510.5 319.5,510.5 320.4,510.6 321.3,510.5 322.3,510.2 323.2,510 324.1,510 325,510.2 325.9,510 326.8,509.9 327.8,509.9 328.7,509.7 329.6,509.6 330.5,509.6 331.4,509.4 332.4,509.2 333.3,509 334.2,509.1 335.1,508.7 336,509 336.9,508.9 337.9,508.7 338.8,508.3 339.7,508.5 340.6,508.1 341.5,508.2 342.5,507.9 343.4,507.9 344.3,508 345.2,507.5 346.1,507.4 347,507.3 348,507.4 348.9,507.3 349.8,507.3 350.7,507.1 351.1,502.8 351.5,507 352.6,506.7 353.8,506.8 354.2,477.7 354.5,506.7 355.7,506.6 356.8,506.4 358,506.3" fill="none" stroke="#ffff00" stroke-width="1.305" stroke-opacity="0.6" stroke-linejoin="round" stroke-linecap="butt"/>
<polyline points="281,517.3 282.2,517.1 282.9,515.1 283.7,516.5 284.6,516.3 285.5,516.1 286.5,516.2 287.4,516.1 288.3,515.7 289.3,516 290.2,516 291.1,515.6 291.5,510.1 291.9,515.5 292.8,515.5 293.7,515.5 294.6,514.9 295.6,515.1 296.5,514.8 297.4,515.1 298.3,514.8 299.2,514.5 300.1,514.8 301.1,514.3 302,514.1 302.9,514.1 303.8,514.3 304.7,514 305.7,513.9 306.6,513.8 307.5,513.5 308.4,513.7 309.3,513.7 310.3,513.2 311.2,513.3 312.1,513.1 313,513.1 313.9,512.9 314.9,513.1 315.8,513 316.7,512.8 317.6,512.6 318.5,512.7 319.4,512.2 320.4,512.4 321.3,512 322.2,512 323.1,512.1 324,512 325,511.7 325.9,511.4 326.8,511.6 327.7,511.6 328.6,511.5 329.6,511.1 330.5,511.3 331.4,511.2 332.3,510.8 333.2,510.7 334.2,510.9 335.1,510.6 336,510.7 336.9,510.4 337.8,510.5 338.7,510.1 339.7,510.1 340.6,510 341.5,509.7 342.4,509.8 343.3,509.8 344.3,509.8 345.2,509.4 346.1,509.3 347,509.1 347.9,509.2 348.9,509.1 349.8,508.9 350.7,508.7 351.6,508.8 352.5,508.7 353.5,508.4 354.4,508.6 355.3,508.5 356.2,508.2 357.1,508.1 357.5,502.8 357.9,508 359.4,507.9 359.8,479.4 360.2,507.8 361.3,507.6 362.5,507.6 363.6,507.4" fill="none" stroke="#ff00ff" stroke-width="1.305" stroke-opacity="0.6" stroke-linejoin="round" stroke-linecap="butt"/>
<polyline points="292.3,519.4 293.8,519.3 294.4,516 295,518.7 295.9,518.4 296.8,518.6 297.7,518.3 298.7,518 299.6,518.3 300.5,518.3 301.4,517.8 302.3,517.7 303.3,517.9 304.2,517.8 305.1,517.7 306,517.4 306.9,517.5 307.9,517 308.8,517.2 309.7,516.9 310.6,516.7 311.5,516.9 312.5,516.9 313.4,516.8 314.3,516.5 315.2,516.2 316.1,516.2 317.1,516.2 318,516 318.9,515.9 319.8,516 320.7,515.5 321.7,515.4 322.6,515.5 323.5,515.6 324.4,515.1 325.3,515.3 326.3,515 327.2,514.9 328.1,515 329,515 329.9,514.7 330.9,514.8 331.8,514.2 332.7,514.2 333.6,514.2 334.5,514.3 335.5,514.1 336.4,513.7 337.3,513.7 338.2,513.5 339.1,513.8 340.1,513.6 341,513.3 341.9,513.2 342.8,513.4 343.7,513 344.7,512.8 345.6,512.9 346.5,512.6 347.4,512.9 348.3,512.5 349.3,512.3 350.2,512.2 351.1,512 352,512.1 352.9,512.1 353.9,511.8 354.8,511.9 355.7,511.9 356.6,511.6 357.5,511.6 358.5,511.4 359.4,511.1 360.3,511.1 361.2,511 362.1,511.1 363.1,510.7 364,511 364.9,510.8 365.8,510.8 366.7,510.5 367.7,510.4 368,506.5 368.4,510.3 370,510.1 370.3,506.3 370.7,510 371.7,509.9 372.6,509.6 373.6,509.6 374.5,509.6" fill="none" stroke="#00ffff" stroke-width="1.305" stroke-opacity="0.6" stroke-linejoin="round" stroke-linecap="butt"/>
<polyline points="298,520.5 299.5,520.4 299.9,514.8 300.3,519.8 301.2,519.8 302.1,519.6 303,519.5 303.9,519.2 304.9,519.3 305.8,519.3 306.7,519.1 307.6,518.9 308.6,518.6 309.5,518.8 310.4,518.4 311.3,518.6 312.2,518.3 313.2,518.4 314.1,518.2 315,517.9 315.9,518.2 316.9,518.1 317.8,518 318.7,517.6 319.6,517.5 320.6,517.3 321.5,517.3 322.4,517.1 323.3,516.9 324.2,517.3 325.2,517 326.1,516.8 327,516.6 327.9,516.7 328.9,516.3 329.8,516.5 330.7,516.5 331.6,516.4 332.5,516.2 333.5,516.2 334.4,515.8 335.3,515.6 336.2,515.9 337.2,515.5 338.1,515.2 339,515.4 339.9,515.4 340.9,515.2 341.8,514.8 342.7,515.2 343.6,515.1 344.5,514.8 345.5,514.8 346.4,514.6 347.3,514.3 348.2,514.1 349.2,514.1 350.1,514.1 351,513.8 351.9,514.1 352.8,513.7 353.8,513.7 354.7,513.8 355.6,513.4 356.5,513.3 357.5,513.3 358.4,512.9 359.3,513 360.2,513 361.2,513.1 362.1,512.9 363,512.6 363.9,512.5 364.8,512.5 365.8,512.3 366.7,512.2 367.6,512.2 368.5,511.9 369.5,511.9 370.4,511.7 371.3,511.6 372.2,511.7 373.2,511.6 374.1,511.4 374.5,507.5 374.8,511.3 375.9,511.2 376.9,510.9 377.9,510.7 378.9,510.9 379.9,510.8 381,510.6" fill="none" stroke="#0000ff" stroke-width="1.305" stroke-opacity="0.6" stroke-linejoin="round" stroke-linecap="butt"/>
<polyline points="309.3,522.7 310.3,522.7 311.4,522.5 311.8,513.4 312.2,521.9 313.1,521.9 314,521.6 314.9,521.5 315.8,521.4 316.8,521.4 317.7,521 318.6,520.9 319.5,520.9 320.4,520.9 321.4,520.9 322.3,520.7 323.2,520.6 324.1,520.4 325,520.2 326,520.2 326.9,520.1 327.8,519.9 328.7,519.8 329.7,519.7 330.6,519.9 331.5,519.8 332.4,519.4 333.3,519.5 334.3,519.1 335.2,519.3 336.1,519.1 337,519.2 337.9,518.9 338.9,518.7 339.8,518.5 340.7,518.8 341.6,518.6 342.5,518.2 343.5,518.3 344.4,518.4 345.3,517.9 346.2,518.2 347.1,518 348.1,517.5 349,517.4 349.9,517.6 350.8,517.2 351.8,517.2 352.7,517.2 353.6,517.2 354.5,516.8 355.4,516.8 356.4,516.9 357.3,516.9 358.2,516.5 359.1,516.6 360,516.3 361,516.3 361.9,516.1 362.8,516.1 363.2,514.7 363.6,516 364.5,515.6 365.5,516 366.4,515.9 367.4,515.7 368.3,515.4 369.3,515.1 370.3,515.5 371.2,515.3 372.2,515.1 373.1,515.1 374.1,514.6 375,514.8 376,514.5 377,514.7 377.9,514.2 378.9,514.3 379.8,514.1 380.8,513.9 381.7,513.9 382.7,514.1 383.6,513.6 384.6,513.6 385,506.9 385.4,513.6 386.7,513.4 388,513.3 388.4,511.4 388.8,513.2 389.8,513.1 390.9,512.8 391.9,512.8" fill="none" stroke="#00ff00" stroke-width="1.305" stroke-opacity="0.6" stroke-linejoin="round" stroke-linecap="butt"/>
<polyline points="314.9,523.8 316.7,523.6 317.1,515.6 317.5,523.2 397.1,514.4" fill="none" stroke="#ff0000" stroke-width="1.305" stroke-opacity="0.6" stroke-linejoin="round" stroke-linecap="butt"/>
<polygon points="356,518.9 356,514.8 356.7,515.1 357.5,514.3 358.2,514.2 359,514.7 359.7,515.4 360.5,514.1 361.2,514.4 362,514.4 362.7,513.6 362.7,518.2" fill="#ff0000" fill-opacity="0.85"/>
<text x="240.1" y="485.4" font-size="7.9" text-anchor="middle" fill="#3a3a3a" class="s" textLength="2.6" lengthAdjust="spacingAndGlyphs">5</text>
<text x="240.1" y="512.6" font-size="7.9" text-anchor="middle" fill="#3a3a3a" class="s" textLength="2.6" lengthAdjust="spacingAndGlyphs">0</text>
<text x="239.7" y="518.7" font-size="7.9" text-anchor="middle" fill="#3a3a3a" class="s" textLength="4.8" lengthAdjust="spacingAndGlyphs">30</text>
<text x="253" y="521.4" font-size="7.9" text-anchor="middle" fill="#3a3a3a" class="s" textLength="4.8" lengthAdjust="spacingAndGlyphs">25</text>
<text x="267.1" y="524.1" font-size="7.9" text-anchor="middle" fill="#3a3a3a" class="s" textLength="4.8" lengthAdjust="spacingAndGlyphs">20</text>
<text x="281.3" y="526.9" font-size="7.9" text-anchor="middle" fill="#3a3a3a" class="s" textLength="4.8" lengthAdjust="spacingAndGlyphs">15</text>
<text x="295.4" y="529.6" font-size="7.9" text-anchor="middle" fill="#3a3a3a" class="s" textLength="4.8" lengthAdjust="spacingAndGlyphs">10</text>
<text x="310" y="532.3" font-size="7.9" text-anchor="middle" fill="#3a3a3a" class="s" textLength="2.5" lengthAdjust="spacingAndGlyphs">5</text>
<text x="318.8" y="532.4" font-size="7.9" text-anchor="middle" fill="#3a3a3a" class="s" textLength="2.5" lengthAdjust="spacingAndGlyphs">0</text>
<text x="335.7" y="530.7" font-size="7.9" text-anchor="middle" fill="#3a3a3a" class="s" textLength="6" lengthAdjust="spacingAndGlyphs">0.2</text>
<text x="351" y="529" font-size="7.9" text-anchor="middle" fill="#3a3a3a" class="s" textLength="6" lengthAdjust="spacingAndGlyphs">0.4</text>
<text x="366.3" y="527.3" font-size="7.9" text-anchor="middle" fill="#3a3a3a" class="s" textLength="6" lengthAdjust="spacingAndGlyphs">0.6</text>
<text x="381.6" y="525.6" font-size="7.9" text-anchor="middle" fill="#3a3a3a" class="s" textLength="6" lengthAdjust="spacingAndGlyphs">0.8</text>
<text x="395.3" y="523.9" font-size="7.9" text-anchor="middle" fill="#3a3a3a" class="s" textLength="2.5" lengthAdjust="spacingAndGlyphs">1</text>
<text x="412.2" y="522.2" font-size="7.9" text-anchor="middle" fill="#3a3a3a" class="s" textLength="6" lengthAdjust="spacingAndGlyphs">1.2</text>
<text x="325.1" y="467.1" font-size="10.9" text-anchor="middle" fill="#111" font-weight="bold" stroke="#111" stroke-width="0.5" textLength="6.1" lengthAdjust="spacingAndGlyphs">PI</text>
<text x="265.6" y="544.2" font-size="10" text-anchor="middle" fill="#262626" font-weight="bold" stroke="#262626" stroke-width="0.3" textLength="37.8" lengthAdjust="spacingAndGlyphs">Harmonic Level</text>
<text x="363.1" y="544.4" font-size="10" text-anchor="middle" fill="#262626" font-weight="bold" stroke="#262626" stroke-width="0.3" textLength="23.9" lengthAdjust="spacingAndGlyphs">Time (sec)</text>
<text transform="translate(231.1,495.7) scale(0.55,1) rotate(-90)" x="0" y="0" font-size="9.8" text-anchor="middle" fill="#262626" font-weight="bold" stroke="#262626" stroke-width="0.5" textLength="45.8" lengthAdjust="spacingAndGlyphs">Harmonics</text>
<text transform="translate(237.2,495.7) scale(0.55,1) rotate(-90)" x="0" y="0" font-size="9.8" text-anchor="middle" fill="#262626" font-weight="bold" stroke="#262626" stroke-width="0.5" textLength="64.8" lengthAdjust="spacingAndGlyphs">Magnitude (%)</text>
<rect x="416" y="180.4" width="30.2" height="110.4" fill="#fff" stroke="#8c8c8c" stroke-width="0.9"/>
<polyline points="417.6,187.8 432.2,187.8" fill="none" stroke="#ff0000" stroke-width="1.8" stroke-opacity="0.4" stroke-linejoin="round" stroke-linecap="butt"/>
<text x="433.5" y="191.7" font-size="10.5" text-anchor="start" fill="#111" font-weight="bold" stroke="#111" stroke-width="0.4" textLength="7.5" lengthAdjust="spacingAndGlyphs">5th</text>
<polyline points="417.6,199.6 432.2,199.6" fill="none" stroke="#00ff00" stroke-width="1.8" stroke-opacity="0.4" stroke-linejoin="round" stroke-linecap="butt"/>
<text x="433.5" y="203.5" font-size="10.5" text-anchor="start" fill="#111" font-weight="bold" stroke="#111" stroke-width="0.4" textLength="7.5" lengthAdjust="spacingAndGlyphs">7th</text>
<polyline points="417.6,211.7 432.2,211.7" fill="none" stroke="#0000ff" stroke-width="1.8" stroke-opacity="0.4" stroke-linejoin="round" stroke-linecap="butt"/>
<text x="433.5" y="215.6" font-size="10.5" text-anchor="start" fill="#111" font-weight="bold" stroke="#111" stroke-width="0.4" textLength="10" lengthAdjust="spacingAndGlyphs">11th</text>
<polyline points="417.6,224 432.2,224" fill="none" stroke="#00ffff" stroke-width="1.8" stroke-opacity="0.4" stroke-linejoin="round" stroke-linecap="butt"/>
<text x="433.5" y="227.9" font-size="10.5" text-anchor="start" fill="#111" font-weight="bold" stroke="#111" stroke-width="0.4" textLength="10" lengthAdjust="spacingAndGlyphs">13th</text>
<polyline points="417.6,236 432.2,236" fill="none" stroke="#ff00ff" stroke-width="1.8" stroke-opacity="0.4" stroke-linejoin="round" stroke-linecap="butt"/>
<text x="433.5" y="239.9" font-size="10.5" text-anchor="start" fill="#111" font-weight="bold" stroke="#111" stroke-width="0.4" textLength="10" lengthAdjust="spacingAndGlyphs">17th</text>
<polyline points="417.6,247.8 432.2,247.8" fill="none" stroke="#ffff00" stroke-width="1.8" stroke-opacity="0.4" stroke-linejoin="round" stroke-linecap="butt"/>
<text x="433.5" y="251.7" font-size="10.5" text-anchor="start" fill="#111" font-weight="bold" stroke="#111" stroke-width="0.4" textLength="10" lengthAdjust="spacingAndGlyphs">19th</text>
<polyline points="417.6,259.9 432.2,259.9" fill="none" stroke="#000" stroke-width="1.8" stroke-opacity="0.35" stroke-linejoin="round" stroke-linecap="butt"/>
<text x="433.5" y="263.8" font-size="10.5" text-anchor="start" fill="#111" font-weight="bold" stroke="#111" stroke-width="0.4" textLength="11" lengthAdjust="spacingAndGlyphs">23rd</text>
<polyline points="417.6,271.7 432.2,271.7" fill="none" stroke="#ff0000" stroke-width="1.8" stroke-dasharray="2.5,1.6,1,1.6" stroke-opacity="0.4" stroke-linejoin="round" stroke-linecap="butt"/>
<text x="433.5" y="275.6" font-size="10.5" text-anchor="start" fill="#111" font-weight="bold" stroke="#111" stroke-width="0.4" textLength="10" lengthAdjust="spacingAndGlyphs">25th</text>
<polyline points="417.6,284.1 432.2,284.1" fill="none" stroke="#0000ff" stroke-width="1.8" stroke-dasharray="2.5,1.6,1,1.6" stroke-opacity="0.4" stroke-linejoin="round" stroke-linecap="butt"/>
<text x="433.5" y="288" font-size="10.5" text-anchor="start" fill="#111" font-weight="bold" stroke="#111" stroke-width="0.4" textLength="10" lengthAdjust="spacingAndGlyphs">29th</text>
</svg>
</body></html>
